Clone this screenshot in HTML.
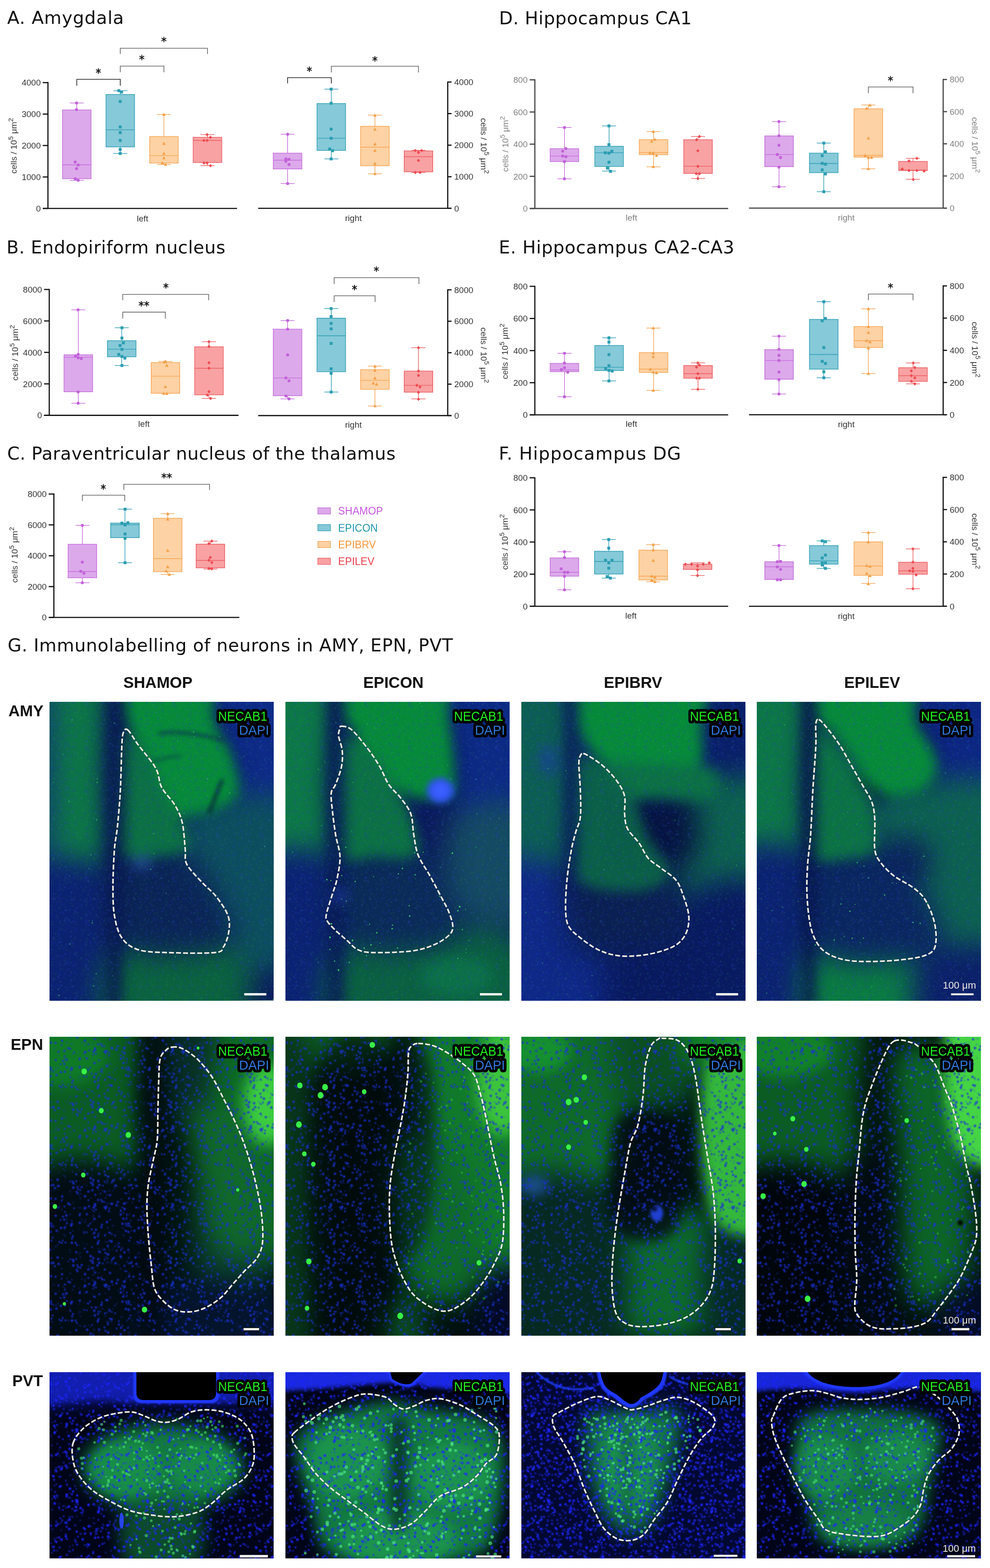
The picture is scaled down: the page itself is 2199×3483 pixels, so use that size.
<!DOCTYPE html><html><head><meta charset="utf-8"><title>Figure</title><style>
html,body{margin:0;padding:0;background:#fff}
#pg{position:relative;width:2199px;height:3483px;overflow:hidden;background:#fff}
.abs{position:absolute;display:block}
.ttl{position:absolute;font-family:"DejaVu Sans",Verdana,sans-serif;font-size:39.6px;color:#111;white-space:nowrap;line-height:1}
.hd{position:absolute;font-family:"Liberation Sans",Arial,sans-serif;font-weight:bold;font-size:34px;color:#111;white-space:nowrap;line-height:1}
</style></head><body><div id="pg">
<svg class="abs" style="left:0;top:0" width="2199" height="1600" viewBox="0 0 2199 1600">
<g font-family="DejaVu Sans, Verdana, sans-serif" font-size="39.6" fill="#111">
<text x="16" y="53.3" textLength="259" lengthAdjust="spacing">A. Amygdala</text>
<text x="14.5" y="563" textLength="486" lengthAdjust="spacing">B. Endopiriform nucleus</text>
<text x="16" y="1021" textLength="862.5" lengthAdjust="spacing">C. Paraventricular nucleus of the thalamus</text>
<text x="1108.5" y="53.5" textLength="428" lengthAdjust="spacing">D. Hippocampus CA1</text>
<text x="1108" y="563" textLength="523" lengthAdjust="spacing">E. Hippocampus CA2-CA3</text>
<text x="1108" y="1021" textLength="404.5" lengthAdjust="spacing">F. Hippocampus DG</text>
<text x="17" y="1446.5" textLength="989" lengthAdjust="spacing">G. Immunolabelling of neurons in AMY, EPN, PVT</text>
</g>
<g font-family="Liberation Sans, Arial, sans-serif" font-weight="bold" font-size="35" fill="#111">
<text x="350.8" y="1527.9" text-anchor="middle">SHAMOP</text>
<text x="873.8" y="1527.9" text-anchor="middle">EPICON</text>
<text x="1406.1" y="1527.9" text-anchor="middle">EPIBRV</text>
<text x="1937.2" y="1527.9" text-anchor="middle">EPILEV</text>
</g></svg>
<svg class="abs" style="left:0;top:0" width="2199" height="1400" viewBox="0 0 2199 1400">
<g stroke="#c46ad9" stroke-width="1.4" fill="none">
<line x1="170.5" y1="228.7" x2="170.5" y2="244.2"/>
<line x1="170.5" y1="397" x2="170.5" y2="400.6"/>
<line x1="155" y1="228.7" x2="186" y2="228.7"/>
<line x1="155" y1="400.6" x2="186" y2="400.6"/>
<rect x="138.8" y="244.2" width="63.5" height="152.8" fill="#dca9eb"/>
<line x1="138.8" y1="366.2" x2="202.2" y2="366.2"/>
</g>
<circle cx="170" cy="228.7" r="3.3" fill="#c261d8"/>
<circle cx="170" cy="243.5" r="3.3" fill="#c261d8"/>
<circle cx="167" cy="360" r="3.3" fill="#c261d8"/>
<circle cx="173.7" cy="366.5" r="3.3" fill="#c261d8"/>
<circle cx="170" cy="374.5" r="3.3" fill="#c261d8"/>
<circle cx="167" cy="397" r="3.3" fill="#c261d8"/>
<circle cx="173.7" cy="400.5" r="3.3" fill="#c261d8"/>
<g stroke="#2a9db3" stroke-width="1.4" fill="none">
<line x1="267.2" y1="201.5" x2="267.2" y2="209.9"/>
<line x1="267.2" y1="326.4" x2="267.2" y2="340.9"/>
<line x1="251.7" y1="201.5" x2="282.7" y2="201.5"/>
<line x1="251.7" y1="340.9" x2="282.7" y2="340.9"/>
<rect x="235.4" y="209.9" width="63.5" height="116.5" fill="#86c9d8"/>
<line x1="235.4" y1="288.4" x2="298.9" y2="288.4"/>
</g>
<rect x="260.6" y="198.3" width="6.4" height="6.4" fill="#2a9db1"/>
<rect x="266.8" y="201.2" width="6.4" height="6.4" fill="#2a9db1"/>
<rect x="263.8" y="222.2" width="6.4" height="6.4" fill="#2a9db1"/>
<rect x="263.8" y="278.7" width="6.4" height="6.4" fill="#2a9db1"/>
<rect x="263.8" y="291.3" width="6.4" height="6.4" fill="#2a9db1"/>
<rect x="263.8" y="308.8" width="6.4" height="6.4" fill="#2a9db1"/>
<rect x="263.8" y="328.8" width="6.4" height="6.4" fill="#2a9db1"/>
<rect x="263.8" y="337.8" width="6.4" height="6.4" fill="#2a9db1"/>
<g stroke="#f6a34e" stroke-width="1.4" fill="none">
<line x1="364.1" y1="254.4" x2="364.1" y2="303.2"/>
<line x1="364.1" y1="362.2" x2="364.1" y2="365.5"/>
<line x1="348.6" y1="254.4" x2="379.6" y2="254.4"/>
<line x1="348.6" y1="365.5" x2="379.6" y2="365.5"/>
<rect x="332.4" y="303.2" width="63.5" height="59" fill="#fdd2a4"/>
<line x1="332.4" y1="345.6" x2="395.9" y2="345.6"/>
</g>
<path d="M364 250.4L367.8 257.2L360.2 257.2Z" fill="#f5a048"/>
<path d="M364 315L367.8 321.8L360.2 321.8Z" fill="#f5a048"/>
<path d="M364 337L367.8 343.8L360.2 343.8Z" fill="#f5a048"/>
<path d="M364 347L367.8 353.8L360.2 353.8Z" fill="#f5a048"/>
<path d="M360.4 358L364.2 364.8L356.6 364.8Z" fill="#f5a048"/>
<path d="M367.6 361.5L371.4 368.3L363.8 368.3Z" fill="#f5a048"/>
<g stroke="#ec5a5f" stroke-width="1.4" fill="none">
<line x1="460.8" y1="299" x2="460.8" y2="305"/>
<line x1="460.8" y1="361" x2="460.8" y2="368"/>
<line x1="445.3" y1="299" x2="476.3" y2="299"/>
<line x1="445.3" y1="368" x2="476.3" y2="368"/>
<rect x="429.1" y="305" width="63.5" height="56" fill="#f8a2a4"/>
<line x1="429.1" y1="312" x2="492.6" y2="312"/>
</g>
<path d="M460 295.2L463.6 299L460 302.8L456.4 299Z" fill="#ec4b52"/>
<path d="M467.5 301.2L471.1 305L467.5 308.8L463.9 305Z" fill="#ec4b52"/>
<path d="M453 308.2L456.6 312L453 315.8L449.4 312Z" fill="#ec4b52"/>
<path d="M460 308.2L463.6 312L460 315.8L456.4 312Z" fill="#ec4b52"/>
<path d="M453 358.2L456.6 362L453 365.8L449.4 362Z" fill="#ec4b52"/>
<path d="M460 358.2L463.6 362L460 365.8L456.4 362Z" fill="#ec4b52"/>
<path d="M467.5 364.2L471.1 368L467.5 371.8L463.9 368Z" fill="#ec4b52"/>
<g stroke="#111" stroke-width="2.6" fill="none">
<line x1="106.5" y1="182.2" x2="106.5" y2="463"/>
<line x1="95" y1="463" x2="526.5" y2="463"/>
<line x1="95" y1="463" x2="106.5" y2="463"/>
<line x1="95" y1="393.1" x2="106.5" y2="393.1"/>
<line x1="95" y1="323.2" x2="106.5" y2="323.2"/>
<line x1="95" y1="253.4" x2="106.5" y2="253.4"/>
<line x1="95" y1="183.5" x2="106.5" y2="183.5"/>
</g>
<g font-family="Liberation Sans, Arial, sans-serif" font-size="19" fill="#333">
<text x="90.5" y="469.8" text-anchor="end">0</text>
<text x="90.5" y="399.9" text-anchor="end">1000</text>
<text x="90.5" y="330.1" text-anchor="end">2000</text>
<text x="90.5" y="260.2" text-anchor="end">3000</text>
<text x="90.5" y="190.3" text-anchor="end">4000</text>
<text x="316.6" y="491.8" text-anchor="middle">left</text>
<text transform="translate(36.8,324) rotate(-90)" text-anchor="middle" font-size="19">cells / 10<tspan font-size="15" dy="-8">5</tspan><tspan dy="8"> μm</tspan><tspan font-size="15" dy="-8">2</tspan></text>
</g>
<path d="M170.5 190.5V176.2H267.2V190.5" stroke="#222" stroke-width="1.6" fill="none"/>
<text x="218.5" y="169.5" text-anchor="middle" font-family="DejaVu Sans, sans-serif" font-size="24" fill="#111" stroke="#111" stroke-width="0.6">*</text>
<path d="M267.2 160.5V146.7H364.1V160.5" stroke="#666" stroke-width="1.6" fill="none"/>
<text x="315" y="139.5" text-anchor="middle" font-family="DejaVu Sans, sans-serif" font-size="24" fill="#111" stroke="#111" stroke-width="0.6">*</text>
<path d="M267.2 120V107.2H460.8V120" stroke="#666" stroke-width="1.6" fill="none"/>
<text x="364" y="100" text-anchor="middle" font-family="DejaVu Sans, sans-serif" font-size="24" fill="#111" stroke="#111" stroke-width="0.6">*</text>
<g stroke="#c46ad9" stroke-width="1.4" fill="none">
<line x1="638.7" y1="298.2" x2="638.7" y2="340.2"/>
<line x1="638.7" y1="375.3" x2="638.7" y2="407.7"/>
<line x1="623.2" y1="298.2" x2="654.2" y2="298.2"/>
<line x1="623.2" y1="407.7" x2="654.2" y2="407.7"/>
<rect x="607" y="340.2" width="63.5" height="35.1" fill="#dca9eb"/>
<line x1="607" y1="355.8" x2="670.5" y2="355.8"/>
</g>
<circle cx="638.9" cy="298.2" r="3.3" fill="#c261d8"/>
<circle cx="635" cy="353" r="3.3" fill="#c261d8"/>
<circle cx="642" cy="354" r="3.3" fill="#c261d8"/>
<circle cx="635" cy="358.3" r="3.3" fill="#c261d8"/>
<circle cx="642" cy="365.4" r="3.3" fill="#c261d8"/>
<circle cx="638.9" cy="407.7" r="3.3" fill="#c261d8"/>
<g stroke="#2a9db3" stroke-width="1.4" fill="none">
<line x1="735.9" y1="198" x2="735.9" y2="230"/>
<line x1="735.9" y1="334.1" x2="735.9" y2="353"/>
<line x1="720.4" y1="198" x2="751.4" y2="198"/>
<line x1="720.4" y1="353" x2="751.4" y2="353"/>
<rect x="704.1" y="230" width="63.5" height="104.1" fill="#86c9d8"/>
<line x1="704.1" y1="307.1" x2="767.6" y2="307.1"/>
</g>
<rect x="732.3" y="194.8" width="6.4" height="6.4" fill="#2a9db1"/>
<rect x="732.3" y="226.1" width="6.4" height="6.4" fill="#2a9db1"/>
<rect x="732.3" y="283.7" width="6.4" height="6.4" fill="#2a9db1"/>
<rect x="732.3" y="303.9" width="6.4" height="6.4" fill="#2a9db1"/>
<rect x="729.1" y="327.7" width="6.4" height="6.4" fill="#2a9db1"/>
<rect x="735.5" y="331.6" width="6.4" height="6.4" fill="#2a9db1"/>
<rect x="732.3" y="349.8" width="6.4" height="6.4" fill="#2a9db1"/>
<g stroke="#f6a34e" stroke-width="1.4" fill="none">
<line x1="832.7" y1="255.6" x2="832.7" y2="280.5"/>
<line x1="832.7" y1="368.2" x2="832.7" y2="386"/>
<line x1="817.2" y1="255.6" x2="848.2" y2="255.6"/>
<line x1="817.2" y1="386" x2="848.2" y2="386"/>
<rect x="801" y="280.5" width="63.5" height="87.7" fill="#fdd2a4"/>
<line x1="801" y1="326.7" x2="864.5" y2="326.7"/>
</g>
<path d="M832.8 252.3L836.6 259.1L829 259.1Z" fill="#f5a048"/>
<path d="M832.8 283.6L836.6 290.4L829 290.4Z" fill="#f5a048"/>
<path d="M832.8 316.3L836.6 323.1L829 323.1Z" fill="#f5a048"/>
<path d="M832.8 330.5L836.6 337.3L829 337.3Z" fill="#f5a048"/>
<path d="M832.8 359.6L836.6 366.4L829 366.4Z" fill="#f5a048"/>
<path d="M832.8 382L836.6 388.8L829 388.8Z" fill="#f5a048"/>
<g stroke="#ec5a5f" stroke-width="1.4" fill="none">
<line x1="929.5" y1="333.8" x2="929.5" y2="335.2"/>
<line x1="929.5" y1="381.7" x2="929.5" y2="383"/>
<line x1="914" y1="333.8" x2="945" y2="333.8"/>
<line x1="914" y1="383" x2="945" y2="383"/>
<rect x="897.8" y="335.2" width="63.5" height="46.5" fill="#f8a2a4"/>
<line x1="897.8" y1="348" x2="961.2" y2="348"/>
</g>
<path d="M922.4 330.7L926 334.5L922.4 338.3L918.8 334.5Z" fill="#ec4b52"/>
<path d="M936.6 330.7L940.2 334.5L936.6 338.3L933 334.5Z" fill="#ec4b52"/>
<path d="M929.5 334.9L933.1 338.7L929.5 342.5L925.9 338.7Z" fill="#ec4b52"/>
<path d="M929.5 352.7L933.1 356.5L929.5 360.3L925.9 356.5Z" fill="#ec4b52"/>
<path d="M922.4 379.3L926 383.1L922.4 386.9L918.8 383.1Z" fill="#ec4b52"/>
<path d="M933 379.3L936.6 383.1L933 386.9L929.4 383.1Z" fill="#ec4b52"/>
<g stroke="#111" stroke-width="2.6" fill="none">
<line x1="994.5" y1="180.9" x2="994.5" y2="462.8"/>
<line x1="573.5" y1="462.8" x2="1003" y2="462.8"/>
<line x1="994.5" y1="462.8" x2="1003" y2="462.8"/>
<line x1="994.5" y1="392.6" x2="1003" y2="392.6"/>
<line x1="994.5" y1="322.5" x2="1003" y2="322.5"/>
<line x1="994.5" y1="252.3" x2="1003" y2="252.3"/>
<line x1="994.5" y1="182.2" x2="1003" y2="182.2"/>
</g>
<g font-family="Liberation Sans, Arial, sans-serif" font-size="19" fill="#333">
<text x="1009" y="469.6">0</text>
<text x="1009" y="399.4">1000</text>
<text x="1009" y="329.3">2000</text>
<text x="1009" y="259.1">3000</text>
<text x="1009" y="189">4000</text>
<text x="785" y="490.8" text-anchor="middle">right</text>
<text transform="translate(1067.8,324) rotate(90)" text-anchor="middle" font-size="19">cells / 10<tspan font-size="15" dy="-8">5</tspan><tspan dy="8"> μm</tspan><tspan font-size="15" dy="-8">2</tspan></text>
</g>
<path d="M638.7 185.3V172.5H735.9V185.3" stroke="#222" stroke-width="1.6" fill="none"/>
<text x="687.2" y="166.3" text-anchor="middle" font-family="DejaVu Sans, sans-serif" font-size="24" fill="#111" stroke="#111" stroke-width="0.6">*</text>
<path d="M735.9 161V147.3H929.5V161" stroke="#666" stroke-width="1.6" fill="none"/>
<text x="832.8" y="142.5" text-anchor="middle" font-family="DejaVu Sans, sans-serif" font-size="24" fill="#111" stroke="#111" stroke-width="0.6">*</text>
<g stroke="#c46ad9" stroke-width="1.4" fill="none">
<line x1="174" y1="688.3" x2="174" y2="788.1"/>
<line x1="174" y1="870.3" x2="174" y2="895.7"/>
<line x1="158.5" y1="688.3" x2="189.5" y2="688.3"/>
<line x1="158.5" y1="895.7" x2="189.5" y2="895.7"/>
<rect x="142.2" y="788.1" width="63.5" height="82.2" fill="#dca9eb"/>
<line x1="142.2" y1="793.6" x2="205.8" y2="793.6"/>
</g>
<circle cx="173.5" cy="688.3" r="3.3" fill="#c261d8"/>
<circle cx="173.5" cy="787.4" r="3.3" fill="#c261d8"/>
<circle cx="167.6" cy="791" r="3.3" fill="#c261d8"/>
<circle cx="173.5" cy="794.7" r="3.3" fill="#c261d8"/>
<circle cx="180.5" cy="796.6" r="3.3" fill="#c261d8"/>
<circle cx="173.5" cy="870.6" r="3.3" fill="#c261d8"/>
<circle cx="173.5" cy="895.7" r="3.3" fill="#c261d8"/>
<g stroke="#2a9db3" stroke-width="1.4" fill="none">
<line x1="270.4" y1="728" x2="270.4" y2="756.8"/>
<line x1="270.4" y1="792.5" x2="270.4" y2="812"/>
<line x1="254.9" y1="728" x2="285.9" y2="728"/>
<line x1="254.9" y1="812" x2="285.9" y2="812"/>
<rect x="238.6" y="756.8" width="63.5" height="35.7" fill="#86c9d8"/>
<line x1="238.6" y1="775.6" x2="302.1" y2="775.6"/>
</g>
<rect x="267.6" y="724.8" width="6.4" height="6.4" fill="#2a9db1"/>
<rect x="267.6" y="747.7" width="6.4" height="6.4" fill="#2a9db1"/>
<rect x="263.5" y="764.3" width="6.4" height="6.4" fill="#2a9db1"/>
<rect x="270.9" y="758.4" width="6.4" height="6.4" fill="#2a9db1"/>
<rect x="267.6" y="772.8" width="6.4" height="6.4" fill="#2a9db1"/>
<rect x="260.6" y="784.2" width="6.4" height="6.4" fill="#2a9db1"/>
<rect x="267.6" y="788.6" width="6.4" height="6.4" fill="#2a9db1"/>
<rect x="274.2" y="792.3" width="6.4" height="6.4" fill="#2a9db1"/>
<rect x="267.6" y="808.8" width="6.4" height="6.4" fill="#2a9db1"/>
<g stroke="#f6a34e" stroke-width="1.4" fill="none">
<line x1="367.5" y1="802.9" x2="367.5" y2="805.4"/>
<line x1="352" y1="802.9" x2="383" y2="802.9"/>
<line x1="352" y1="873.6" x2="383" y2="873.6"/>
<rect x="335.8" y="805.4" width="63.5" height="68.2" fill="#fdd2a4"/>
<line x1="335.8" y1="835.6" x2="399.2" y2="835.6"/>
</g>
<path d="M364.7 800.3L368.5 807.1L360.9 807.1Z" fill="#f5a048"/>
<path d="M367.7 798.8L371.5 805.6L363.9 805.6Z" fill="#f5a048"/>
<path d="M370.6 808L374.4 814.8L366.8 814.8Z" fill="#f5a048"/>
<path d="M367.3 855.2L371.1 862L363.5 862Z" fill="#f5a048"/>
<path d="M363.6 870.3L367.4 877.1L359.8 877.1Z" fill="#f5a048"/>
<path d="M370.6 870.3L374.4 877.1L366.8 877.1Z" fill="#f5a048"/>
<g stroke="#ec5a5f" stroke-width="1.4" fill="none">
<line x1="464.2" y1="759" x2="464.2" y2="770.4"/>
<line x1="464.2" y1="877" x2="464.2" y2="885"/>
<line x1="448.7" y1="759" x2="479.7" y2="759"/>
<line x1="448.7" y1="885" x2="479.7" y2="885"/>
<rect x="432.4" y="770.4" width="63.5" height="106.6" fill="#f8a2a4"/>
<line x1="432.4" y1="818" x2="495.9" y2="818"/>
</g>
<path d="M464.2 755.2L467.8 759L464.2 762.8L460.6 759Z" fill="#ec4b52"/>
<path d="M464.2 765.9L467.8 769.7L464.2 773.5L460.6 769.7Z" fill="#ec4b52"/>
<path d="M464.2 802L467.8 805.8L464.2 809.6L460.6 805.8Z" fill="#ec4b52"/>
<path d="M464.2 814.2L467.8 818L464.2 821.8L460.6 818Z" fill="#ec4b52"/>
<path d="M464.2 866.1L467.8 869.9L464.2 873.7L460.6 869.9Z" fill="#ec4b52"/>
<path d="M460.5 873.8L464.1 877.6L460.5 881.4L456.9 877.6Z" fill="#ec4b52"/>
<path d="M467.9 881.2L471.5 885L467.9 888.8L464.3 885Z" fill="#ec4b52"/>
<g stroke="#111" stroke-width="2.6" fill="none">
<line x1="109.4" y1="641.7" x2="109.4" y2="922.6"/>
<line x1="97.6" y1="922.6" x2="529.8" y2="922.6"/>
<line x1="97.9" y1="922.6" x2="109.4" y2="922.6"/>
<line x1="97.9" y1="852.7" x2="109.4" y2="852.7"/>
<line x1="97.9" y1="782.8" x2="109.4" y2="782.8"/>
<line x1="97.9" y1="712.9" x2="109.4" y2="712.9"/>
<line x1="97.9" y1="643" x2="109.4" y2="643"/>
</g>
<g font-family="Liberation Sans, Arial, sans-serif" font-size="19" fill="#333">
<text x="93.4" y="929.4" text-anchor="end">0</text>
<text x="93.4" y="859.5" text-anchor="end">2000</text>
<text x="93.4" y="789.6" text-anchor="end">4000</text>
<text x="93.4" y="719.7" text-anchor="end">6000</text>
<text x="93.4" y="649.8" text-anchor="end">8000</text>
<text x="319.8" y="947.8" text-anchor="middle">left</text>
<text transform="translate(39.7,783.7) rotate(-90)" text-anchor="middle" font-size="19">cells / 10<tspan font-size="15" dy="-8">5</tspan><tspan dy="8"> μm</tspan><tspan font-size="15" dy="-8">2</tspan></text>
</g>
<path d="M272.6 707.4V693.4H367.3V707.4" stroke="#666" stroke-width="1.6" fill="none"/>
<text x="319.8" y="687.4" text-anchor="middle" font-family="DejaVu Sans, sans-serif" font-size="24" fill="#111" stroke="#111" stroke-width="0.6">**</text>
<path d="M272.6 667V654H463.5V667" stroke="#666" stroke-width="1.6" fill="none"/>
<text x="368.4" y="646.8" text-anchor="middle" font-family="DejaVu Sans, sans-serif" font-size="24" fill="#111" stroke="#111" stroke-width="0.6">*</text>
<g stroke="#c46ad9" stroke-width="1.4" fill="none">
<line x1="638.7" y1="712" x2="638.7" y2="731.2"/>
<line x1="638.7" y1="879" x2="638.7" y2="886"/>
<line x1="623.2" y1="712" x2="654.2" y2="712"/>
<line x1="623.2" y1="886" x2="654.2" y2="886"/>
<rect x="607" y="731.2" width="63.5" height="147.8" fill="#dca9eb"/>
<line x1="607" y1="839.6" x2="670.5" y2="839.6"/>
</g>
<circle cx="638.9" cy="712" r="3.3" fill="#c261d8"/>
<circle cx="638.9" cy="731.2" r="3.3" fill="#c261d8"/>
<circle cx="638.9" cy="788.4" r="3.3" fill="#c261d8"/>
<circle cx="635" cy="839.6" r="3.3" fill="#c261d8"/>
<circle cx="642" cy="846" r="3.3" fill="#c261d8"/>
<circle cx="635" cy="879.7" r="3.3" fill="#c261d8"/>
<circle cx="642" cy="886.1" r="3.3" fill="#c261d8"/>
<g stroke="#2a9db3" stroke-width="1.4" fill="none">
<line x1="735.9" y1="685.4" x2="735.9" y2="706.7"/>
<line x1="735.9" y1="825.7" x2="735.9" y2="870.8"/>
<line x1="720.4" y1="685.4" x2="751.4" y2="685.4"/>
<line x1="720.4" y1="870.8" x2="751.4" y2="870.8"/>
<rect x="704.1" y="706.7" width="63.5" height="119" fill="#86c9d8"/>
<line x1="704.1" y1="745.8" x2="767.6" y2="745.8"/>
</g>
<rect x="732.3" y="682.2" width="6.4" height="6.4" fill="#2a9db1"/>
<rect x="732.3" y="700" width="6.4" height="6.4" fill="#2a9db1"/>
<rect x="732.3" y="715.2" width="6.4" height="6.4" fill="#2a9db1"/>
<rect x="732.3" y="727.3" width="6.4" height="6.4" fill="#2a9db1"/>
<rect x="732.3" y="759.7" width="6.4" height="6.4" fill="#2a9db1"/>
<rect x="732.3" y="816.1" width="6.4" height="6.4" fill="#2a9db1"/>
<rect x="732.3" y="826.1" width="6.4" height="6.4" fill="#2a9db1"/>
<rect x="732.3" y="867.7" width="6.4" height="6.4" fill="#2a9db1"/>
<g stroke="#f6a34e" stroke-width="1.4" fill="none">
<line x1="832.7" y1="813.3" x2="832.7" y2="821.1"/>
<line x1="832.7" y1="864.8" x2="832.7" y2="901.8"/>
<line x1="817.2" y1="813.3" x2="848.2" y2="813.3"/>
<line x1="817.2" y1="901.8" x2="848.2" y2="901.8"/>
<rect x="801" y="821.1" width="63.5" height="43.7" fill="#fdd2a4"/>
<line x1="801" y1="844.9" x2="864.5" y2="844.9"/>
</g>
<path d="M832.8 809.7L836.6 816.5L829 816.5Z" fill="#f5a048"/>
<path d="M832.8 818.9L836.6 825.7L829 825.7Z" fill="#f5a048"/>
<path d="M832.8 836.3L836.6 843.1L829 843.1Z" fill="#f5a048"/>
<path d="M829.3 847.3L833.1 854.1L825.5 854.1Z" fill="#f5a048"/>
<path d="M836.4 849.8L840.2 856.6L832.6 856.6Z" fill="#f5a048"/>
<path d="M832.8 897.8L836.6 904.6L829 904.6Z" fill="#f5a048"/>
<g stroke="#ec5a5f" stroke-width="1.4" fill="none">
<line x1="929.5" y1="772.4" x2="929.5" y2="824.3"/>
<line x1="929.5" y1="871.2" x2="929.5" y2="886.1"/>
<line x1="914" y1="772.4" x2="945" y2="772.4"/>
<line x1="914" y1="886.1" x2="945" y2="886.1"/>
<rect x="897.8" y="824.3" width="63.5" height="46.9" fill="#f8a2a4"/>
<line x1="897.8" y1="855.9" x2="961.2" y2="855.9"/>
</g>
<path d="M929.5 768.6L933.1 772.4L929.5 776.2L925.9 772.4Z" fill="#ec4b52"/>
<path d="M929.5 820.2L933.1 824L929.5 827.8L925.9 824Z" fill="#ec4b52"/>
<path d="M929.5 830.1L933.1 833.9L929.5 837.7L925.9 833.9Z" fill="#ec4b52"/>
<path d="M925.9 852.1L929.5 855.9L925.9 859.7L922.3 855.9Z" fill="#ec4b52"/>
<path d="M933 855.7L936.6 859.5L933 863.3L929.4 859.5Z" fill="#ec4b52"/>
<path d="M929.5 867.8L933.1 871.6L929.5 875.4L925.9 871.6Z" fill="#ec4b52"/>
<path d="M929.5 883L933.1 886.8L929.5 890.6L925.9 886.8Z" fill="#ec4b52"/>
<g stroke="#111" stroke-width="2.6" fill="none">
<line x1="994.5" y1="642.5" x2="994.5" y2="923.1"/>
<line x1="573.5" y1="923.1" x2="1003" y2="923.1"/>
<line x1="994.5" y1="923.1" x2="1003" y2="923.1"/>
<line x1="994.5" y1="853.3" x2="1003" y2="853.3"/>
<line x1="994.5" y1="783.5" x2="1003" y2="783.5"/>
<line x1="994.5" y1="713.6" x2="1003" y2="713.6"/>
<line x1="994.5" y1="643.8" x2="1003" y2="643.8"/>
</g>
<g font-family="Liberation Sans, Arial, sans-serif" font-size="19" fill="#333">
<text x="1009" y="929.9">0</text>
<text x="1009" y="860.1">2000</text>
<text x="1009" y="790.2">4000</text>
<text x="1009" y="720.4">6000</text>
<text x="1009" y="650.6">8000</text>
<text x="785" y="949.8" text-anchor="middle">right</text>
<text transform="translate(1067.8,789) rotate(90)" text-anchor="middle" font-size="19">cells / 10<tspan font-size="15" dy="-8">5</tspan><tspan dy="8"> μm</tspan><tspan font-size="15" dy="-8">2</tspan></text>
</g>
<path d="M742.3 670.8V657H833.2V670.8" stroke="#666" stroke-width="1.6" fill="none"/>
<text x="787.4" y="650.5" text-anchor="middle" font-family="DejaVu Sans, sans-serif" font-size="24" fill="#111" stroke="#111" stroke-width="0.6">*</text>
<path d="M742.3 631V616.8H930.5V631" stroke="#666" stroke-width="1.6" fill="none"/>
<text x="836" y="609.5" text-anchor="middle" font-family="DejaVu Sans, sans-serif" font-size="24" fill="#111" stroke="#111" stroke-width="0.6">*</text>
<g stroke="#c46ad9" stroke-width="1.4" fill="none">
<line x1="183" y1="1167" x2="183" y2="1209"/>
<line x1="183" y1="1283.5" x2="183" y2="1294.5"/>
<line x1="167.5" y1="1167" x2="198.5" y2="1167"/>
<line x1="167.5" y1="1294.5" x2="198.5" y2="1294.5"/>
<rect x="151.2" y="1209" width="63.5" height="74.5" fill="#dca9eb"/>
<line x1="151.2" y1="1269.5" x2="214.8" y2="1269.5"/>
</g>
<circle cx="182.7" cy="1167" r="3.3" fill="#c261d8"/>
<circle cx="182.7" cy="1248.8" r="3.3" fill="#c261d8"/>
<circle cx="179.4" cy="1269.1" r="3.3" fill="#c261d8"/>
<circle cx="186.4" cy="1273.5" r="3.3" fill="#c261d8"/>
<circle cx="182.7" cy="1294.5" r="3.3" fill="#c261d8"/>
<g stroke="#2a9db3" stroke-width="1.4" fill="none">
<line x1="277.5" y1="1131" x2="277.5" y2="1161.9"/>
<line x1="277.5" y1="1194.3" x2="277.5" y2="1250"/>
<line x1="262" y1="1131" x2="293" y2="1131"/>
<line x1="262" y1="1250" x2="293" y2="1250"/>
<rect x="245.8" y="1161.9" width="63.5" height="32.4" fill="#86c9d8"/>
<line x1="245.8" y1="1165.6" x2="309.2" y2="1165.6"/>
</g>
<rect x="274.6" y="1127.8" width="6.4" height="6.4" fill="#2a9db1"/>
<rect x="267.6" y="1158.7" width="6.4" height="6.4" fill="#2a9db1"/>
<rect x="280.8" y="1158" width="6.4" height="6.4" fill="#2a9db1"/>
<rect x="274.6" y="1162.8" width="6.4" height="6.4" fill="#2a9db1"/>
<rect x="274.6" y="1183" width="6.4" height="6.4" fill="#2a9db1"/>
<rect x="274.6" y="1192.6" width="6.4" height="6.4" fill="#2a9db1"/>
<rect x="274.6" y="1246.8" width="6.4" height="6.4" fill="#2a9db1"/>
<g stroke="#f6a34e" stroke-width="1.4" fill="none">
<line x1="372.5" y1="1141" x2="372.5" y2="1151.2"/>
<line x1="372.5" y1="1269.9" x2="372.5" y2="1276"/>
<line x1="357" y1="1141" x2="388" y2="1141"/>
<line x1="357" y1="1276" x2="388" y2="1276"/>
<rect x="340.8" y="1151.2" width="63.5" height="118.7" fill="#fdd2a4"/>
<line x1="340.8" y1="1240.8" x2="404.2" y2="1240.8"/>
</g>
<path d="M372.5 1137.3L376.3 1144.1L368.7 1144.1Z" fill="#f5a048"/>
<path d="M372.5 1149.4L376.3 1156.2L368.7 1156.2Z" fill="#f5a048"/>
<path d="M372.5 1219L376.3 1225.8L368.7 1225.8Z" fill="#f5a048"/>
<path d="M372.5 1255.2L376.3 1262L368.7 1262Z" fill="#f5a048"/>
<path d="M368.8 1264.7L372.6 1271.5L365 1271.5Z" fill="#f5a048"/>
<path d="M376.2 1272.1L380 1278.9L372.4 1278.9Z" fill="#f5a048"/>
<g stroke="#ec5a5f" stroke-width="1.4" fill="none">
<line x1="467.4" y1="1202" x2="467.4" y2="1208.7"/>
<line x1="467.4" y1="1261.4" x2="467.4" y2="1264"/>
<line x1="451.9" y1="1202" x2="482.9" y2="1202"/>
<line x1="451.9" y1="1264" x2="482.9" y2="1264"/>
<rect x="435.6" y="1208.7" width="63.5" height="52.7" fill="#f8a2a4"/>
<line x1="435.6" y1="1244.8" x2="499.1" y2="1244.8"/>
</g>
<path d="M470.5 1198.2L474.1 1202L470.5 1205.8L466.9 1202Z" fill="#ec4b52"/>
<path d="M464.2 1203.8L467.8 1207.6L464.2 1211.4L460.6 1207.6Z" fill="#ec4b52"/>
<path d="M467.2 1234.4L470.8 1238.2L467.2 1242L463.6 1238.2Z" fill="#ec4b52"/>
<path d="M464.2 1240.6L467.8 1244.4L464.2 1248.2L460.6 1244.4Z" fill="#ec4b52"/>
<path d="M470.5 1245.8L474.1 1249.6L470.5 1253.4L466.9 1249.6Z" fill="#ec4b52"/>
<path d="M464.2 1259.1L467.8 1262.9L464.2 1266.7L460.6 1262.9Z" fill="#ec4b52"/>
<path d="M470.5 1259.8L474.1 1263.6L470.5 1267.4L466.9 1263.6Z" fill="#ec4b52"/>
<g stroke="#111" stroke-width="2.6" fill="none">
<line x1="119.7" y1="1096.1" x2="119.7" y2="1371.5"/>
<line x1="108.7" y1="1371.5" x2="531.6" y2="1371.5"/>
<line x1="108.2" y1="1371.5" x2="119.7" y2="1371.5"/>
<line x1="108.2" y1="1303" x2="119.7" y2="1303"/>
<line x1="108.2" y1="1234.5" x2="119.7" y2="1234.5"/>
<line x1="108.2" y1="1165.9" x2="119.7" y2="1165.9"/>
<line x1="108.2" y1="1097.4" x2="119.7" y2="1097.4"/>
</g>
<g font-family="Liberation Sans, Arial, sans-serif" font-size="19" fill="#333">
<text x="103.7" y="1378.3" text-anchor="end">0</text>
<text x="103.7" y="1309.8" text-anchor="end">2000</text>
<text x="103.7" y="1241.2" text-anchor="end">4000</text>
<text x="103.7" y="1172.7" text-anchor="end">6000</text>
<text x="103.7" y="1104.2" text-anchor="end">8000</text>
<text transform="translate(38.7,1232.6) rotate(-90)" text-anchor="middle" font-size="19">cells / 10<tspan font-size="15" dy="-8">5</tspan><tspan dy="8"> μm</tspan><tspan font-size="15" dy="-8">2</tspan></text>
</g>
<path d="M183 1112.9V1100H277.1V1112.9" stroke="#666" stroke-width="1.6" fill="none"/>
<text x="229.5" y="1093.9" text-anchor="middle" font-family="DejaVu Sans, sans-serif" font-size="24" fill="#111" stroke="#111" stroke-width="0.6">*</text>
<path d="M275.2 1088.2V1075.7H465.4V1088.2" stroke="#666" stroke-width="1.6" fill="none"/>
<text x="370.3" y="1069.2" text-anchor="middle" font-family="DejaVu Sans, sans-serif" font-size="24" fill="#111" stroke="#111" stroke-width="0.6">**</text>
<g stroke="#c46ad9" stroke-width="1.4" fill="none">
<line x1="1253.8" y1="283.3" x2="1253.8" y2="330.3"/>
<line x1="1253.8" y1="358.9" x2="1253.8" y2="397.3"/>
<line x1="1238.3" y1="283.3" x2="1269.3" y2="283.3"/>
<line x1="1238.3" y1="397.3" x2="1269.3" y2="397.3"/>
<rect x="1222" y="330.3" width="63.5" height="28.6" fill="#dca9eb"/>
<line x1="1222" y1="346.6" x2="1285.5" y2="346.6"/>
</g>
<circle cx="1253.8" cy="283.3" r="3.3" fill="#c261d8"/>
<circle cx="1257" cy="330" r="3.3" fill="#c261d8"/>
<circle cx="1249.8" cy="335.8" r="3.3" fill="#c261d8"/>
<circle cx="1249.8" cy="346.6" r="3.3" fill="#c261d8"/>
<circle cx="1257" cy="348.1" r="3.3" fill="#c261d8"/>
<circle cx="1253.8" cy="358.9" r="3.3" fill="#c261d8"/>
<circle cx="1253.8" cy="397.3" r="3.3" fill="#c261d8"/>
<g stroke="#2a9db3" stroke-width="1.4" fill="none">
<line x1="1352.9" y1="279.7" x2="1352.9" y2="324.9"/>
<line x1="1352.9" y1="369.8" x2="1352.9" y2="379.9"/>
<line x1="1337.4" y1="279.7" x2="1368.4" y2="279.7"/>
<line x1="1337.4" y1="379.9" x2="1368.4" y2="379.9"/>
<rect x="1321.2" y="324.9" width="63.5" height="44.9" fill="#86c9d8"/>
<line x1="1321.2" y1="339.4" x2="1384.7" y2="339.4"/>
</g>
<rect x="1349.4" y="276.5" width="6.4" height="6.4" fill="#2a9db1"/>
<rect x="1349.4" y="318.1" width="6.4" height="6.4" fill="#2a9db1"/>
<rect x="1341.4" y="336.2" width="6.4" height="6.4" fill="#2a9db1"/>
<rect x="1349.4" y="336.9" width="6.4" height="6.4" fill="#2a9db1"/>
<rect x="1355.9" y="332.6" width="6.4" height="6.4" fill="#2a9db1"/>
<rect x="1349.4" y="357.2" width="6.4" height="6.4" fill="#2a9db1"/>
<rect x="1345.8" y="370.2" width="6.4" height="6.4" fill="#2a9db1"/>
<rect x="1353" y="377.4" width="6.4" height="6.4" fill="#2a9db1"/>
<g stroke="#f6a34e" stroke-width="1.4" fill="none">
<line x1="1451.7" y1="292.3" x2="1451.7" y2="310.1"/>
<line x1="1451.7" y1="343.7" x2="1451.7" y2="370.5"/>
<line x1="1436.2" y1="292.3" x2="1467.2" y2="292.3"/>
<line x1="1436.2" y1="370.5" x2="1467.2" y2="370.5"/>
<rect x="1420" y="310.1" width="63.5" height="33.6" fill="#fdd2a4"/>
<line x1="1420" y1="338.7" x2="1483.5" y2="338.7"/>
</g>
<path d="M1451 288.3L1454.8 295.1L1447.2 295.1Z" fill="#f5a048"/>
<path d="M1447.4 310L1451.2 316.8L1443.6 316.8Z" fill="#f5a048"/>
<path d="M1454.6 306L1458.4 312.8L1450.8 312.8Z" fill="#f5a048"/>
<path d="M1443.7 335.4L1447.5 342.2L1439.9 342.2Z" fill="#f5a048"/>
<path d="M1451 336.1L1454.8 342.9L1447.2 342.9Z" fill="#f5a048"/>
<path d="M1458.2 341.5L1462 348.3L1454.4 348.3Z" fill="#f5a048"/>
<path d="M1451 366.5L1454.8 373.3L1447.2 373.3Z" fill="#f5a048"/>
<g stroke="#ec5a5f" stroke-width="1.4" fill="none">
<line x1="1550.5" y1="303.2" x2="1550.5" y2="310.4"/>
<line x1="1550.5" y1="385.3" x2="1550.5" y2="396.5"/>
<line x1="1535" y1="303.2" x2="1566" y2="303.2"/>
<line x1="1535" y1="396.5" x2="1566" y2="396.5"/>
<rect x="1518.8" y="310.4" width="63.5" height="74.9" fill="#f8a2a4"/>
<line x1="1518.8" y1="369.4" x2="1582.2" y2="369.4"/>
</g>
<path d="M1553.7 299.4L1557.3 303.2L1553.7 307L1550.1 303.2Z" fill="#ec4b52"/>
<path d="M1547.2 306.6L1550.8 310.4L1547.2 314.2L1543.6 310.4Z" fill="#ec4b52"/>
<path d="M1550.1 331.2L1553.7 335L1550.1 338.8L1546.5 335Z" fill="#ec4b52"/>
<path d="M1550.1 365.6L1553.7 369.4L1550.1 373.2L1546.5 369.4Z" fill="#ec4b52"/>
<path d="M1546.5 381.9L1550.1 385.7L1546.5 389.5L1542.9 385.7Z" fill="#ec4b52"/>
<path d="M1553.7 381.9L1557.3 385.7L1553.7 389.5L1550.1 385.7Z" fill="#ec4b52"/>
<path d="M1550.1 392.8L1553.7 396.6L1550.1 400.4L1546.5 396.6Z" fill="#ec4b52"/>
<g stroke="#444" stroke-width="2.6" fill="none">
<line x1="1188" y1="176" x2="1188" y2="463.1"/>
<line x1="1177" y1="463.1" x2="1617.4" y2="463.1"/>
<line x1="1176.5" y1="463.1" x2="1188" y2="463.1"/>
<line x1="1176.5" y1="391.7" x2="1188" y2="391.7"/>
<line x1="1176.5" y1="320.2" x2="1188" y2="320.2"/>
<line x1="1176.5" y1="248.8" x2="1188" y2="248.8"/>
<line x1="1176.5" y1="177.3" x2="1188" y2="177.3"/>
</g>
<g font-family="Liberation Sans, Arial, sans-serif" font-size="19" fill="#808080">
<text x="1172" y="469.9" text-anchor="end">0</text>
<text x="1172" y="398.5" text-anchor="end">200</text>
<text x="1172" y="327" text-anchor="end">400</text>
<text x="1172" y="255.6" text-anchor="end">600</text>
<text x="1172" y="184.1" text-anchor="end">800</text>
<text x="1402.5" y="489.8" text-anchor="middle">left</text>
<text transform="translate(1129.2,320) rotate(-90)" text-anchor="middle" font-size="19">cells / 10<tspan font-size="15" dy="-8">5</tspan><tspan dy="8"> μm</tspan><tspan font-size="15" dy="-8">2</tspan></text>
</g>
<g stroke="#c46ad9" stroke-width="1.4" fill="none">
<line x1="1730.4" y1="270.1" x2="1730.4" y2="301.9"/>
<line x1="1730.4" y1="370.2" x2="1730.4" y2="414.9"/>
<line x1="1714.9" y1="270.1" x2="1745.9" y2="270.1"/>
<line x1="1714.9" y1="414.9" x2="1745.9" y2="414.9"/>
<rect x="1698.7" y="301.9" width="63.5" height="68.3" fill="#dca9eb"/>
<line x1="1698.7" y1="343.4" x2="1762.2" y2="343.4"/>
</g>
<circle cx="1730.2" cy="270.1" r="3.3" fill="#c261d8"/>
<circle cx="1730.2" cy="301.5" r="3.3" fill="#c261d8"/>
<circle cx="1730.2" cy="322.8" r="3.3" fill="#c261d8"/>
<circle cx="1726.6" cy="343.4" r="3.3" fill="#c261d8"/>
<circle cx="1733.8" cy="349.9" r="3.3" fill="#c261d8"/>
<circle cx="1730.2" cy="371.2" r="3.3" fill="#c261d8"/>
<circle cx="1730.2" cy="414.9" r="3.3" fill="#c261d8"/>
<g stroke="#2a9db3" stroke-width="1.4" fill="none">
<line x1="1829.7" y1="317.8" x2="1829.7" y2="340.2"/>
<line x1="1829.7" y1="383.5" x2="1829.7" y2="425.8"/>
<line x1="1814.2" y1="317.8" x2="1845.2" y2="317.8"/>
<line x1="1814.2" y1="425.8" x2="1845.2" y2="425.8"/>
<rect x="1798" y="340.2" width="63.5" height="43.3" fill="#86c9d8"/>
<line x1="1798" y1="363.3" x2="1861.5" y2="363.3"/>
</g>
<rect x="1826.7" y="314.6" width="6.4" height="6.4" fill="#2a9db1"/>
<rect x="1830.3" y="334.1" width="6.4" height="6.4" fill="#2a9db1"/>
<rect x="1823.1" y="342.4" width="6.4" height="6.4" fill="#2a9db1"/>
<rect x="1823.1" y="359.7" width="6.4" height="6.4" fill="#2a9db1"/>
<rect x="1830.3" y="361.5" width="6.4" height="6.4" fill="#2a9db1"/>
<rect x="1823.1" y="374.2" width="6.4" height="6.4" fill="#2a9db1"/>
<rect x="1830.3" y="383.2" width="6.4" height="6.4" fill="#2a9db1"/>
<rect x="1826.7" y="422.6" width="6.4" height="6.4" fill="#2a9db1"/>
<g stroke="#f6a34e" stroke-width="1.4" fill="none">
<line x1="1928.8" y1="233.3" x2="1928.8" y2="241.6"/>
<line x1="1928.8" y1="349.2" x2="1928.8" y2="374.9"/>
<line x1="1913.3" y1="233.3" x2="1944.3" y2="233.3"/>
<line x1="1913.3" y1="374.9" x2="1944.3" y2="374.9"/>
<rect x="1897" y="241.6" width="63.5" height="107.6" fill="#fdd2a4"/>
<line x1="1897" y1="345.2" x2="1960.5" y2="345.2"/>
</g>
<path d="M1932.4 229.6L1936.2 236.4L1928.6 236.4Z" fill="#f5a048"/>
<path d="M1925.2 236.9L1929 243.7L1921.4 243.7Z" fill="#f5a048"/>
<path d="M1928.8 303L1932.6 309.8L1925 309.8Z" fill="#f5a048"/>
<path d="M1921.6 341.6L1925.4 348.4L1917.8 348.4Z" fill="#f5a048"/>
<path d="M1928.8 345.9L1932.6 352.7L1925 352.7Z" fill="#f5a048"/>
<path d="M1936 345.9L1939.8 352.7L1932.2 352.7Z" fill="#f5a048"/>
<path d="M1928.8 370.9L1932.6 377.7L1925 377.7Z" fill="#f5a048"/>
<g stroke="#ec5a5f" stroke-width="1.4" fill="none">
<line x1="2028" y1="351.7" x2="2028" y2="358.6"/>
<line x1="2028" y1="378.8" x2="2028" y2="398.3"/>
<line x1="2012.5" y1="351.7" x2="2043.5" y2="351.7"/>
<line x1="2012.5" y1="398.3" x2="2043.5" y2="398.3"/>
<rect x="1996.2" y="358.6" width="63.5" height="20.2" fill="#f8a2a4"/>
<line x1="1996.2" y1="378" x2="2059.8" y2="378"/>
</g>
<path d="M2036.5 347.9L2040.1 351.7L2036.5 355.5L2032.9 351.7Z" fill="#ec4b52"/>
<path d="M2019.1 353.7L2022.7 357.5L2019.1 361.3L2015.5 357.5Z" fill="#ec4b52"/>
<path d="M2004 371.8L2007.6 375.6L2004 379.4L2000.4 375.6Z" fill="#ec4b52"/>
<path d="M2019.1 375L2022.7 378.8L2019.1 382.6L2015.5 378.8Z" fill="#ec4b52"/>
<path d="M2036.5 375L2040.1 378.8L2036.5 382.6L2032.9 378.8Z" fill="#ec4b52"/>
<path d="M2052.7 376.1L2056.3 379.9L2052.7 383.7L2049.1 379.9Z" fill="#ec4b52"/>
<path d="M2028.5 394.9L2032.1 398.7L2028.5 402.5L2024.9 398.7Z" fill="#ec4b52"/>
<g stroke="#444" stroke-width="2.6" fill="none">
<line x1="2095" y1="175.3" x2="2095" y2="462.3"/>
<line x1="1663.7" y1="462.3" x2="2102.6" y2="462.3"/>
<line x1="2095" y1="462.3" x2="2103.5" y2="462.3"/>
<line x1="2095" y1="390.9" x2="2103.5" y2="390.9"/>
<line x1="2095" y1="319.4" x2="2103.5" y2="319.4"/>
<line x1="2095" y1="248" x2="2103.5" y2="248"/>
<line x1="2095" y1="176.6" x2="2103.5" y2="176.6"/>
</g>
<g font-family="Liberation Sans, Arial, sans-serif" font-size="19" fill="#808080">
<text x="2109.5" y="469.1">0</text>
<text x="2109.5" y="397.7">200</text>
<text x="2109.5" y="326.2">400</text>
<text x="2109.5" y="254.8">600</text>
<text x="2109.5" y="183.4">800</text>
<text x="1879.7" y="490.4" text-anchor="middle">right</text>
<text transform="translate(2159.1,322) rotate(90)" text-anchor="middle" font-size="19">cells / 10<tspan font-size="15" dy="-8">5</tspan><tspan dy="8"> μm</tspan><tspan font-size="15" dy="-8">2</tspan></text>
</g>
<path d="M1928.8 206.9V193.2H2028V206.9" stroke="#666" stroke-width="1.6" fill="none"/>
<text x="1978" y="187.1" text-anchor="middle" font-family="DejaVu Sans, sans-serif" font-size="24" fill="#111" stroke="#111" stroke-width="0.6">*</text>
<g stroke="#c46ad9" stroke-width="1.4" fill="none">
<line x1="1253.8" y1="784.7" x2="1253.8" y2="807.2"/>
<line x1="1253.8" y1="825.6" x2="1253.8" y2="881.3"/>
<line x1="1238.3" y1="784.7" x2="1269.3" y2="784.7"/>
<line x1="1238.3" y1="881.3" x2="1269.3" y2="881.3"/>
<rect x="1222" y="807.2" width="63.5" height="18.4" fill="#dca9eb"/>
<line x1="1222" y1="821.6" x2="1285.5" y2="821.6"/>
</g>
<circle cx="1253.8" cy="784.8" r="3.3" fill="#c261d8"/>
<circle cx="1253.8" cy="806.5" r="3.3" fill="#c261d8"/>
<circle cx="1246.9" cy="821" r="3.3" fill="#c261d8"/>
<circle cx="1253.8" cy="817" r="3.3" fill="#c261d8"/>
<circle cx="1261" cy="826.7" r="3.3" fill="#c261d8"/>
<circle cx="1253.8" cy="881.4" r="3.3" fill="#c261d8"/>
<g stroke="#2a9db3" stroke-width="1.4" fill="none">
<line x1="1352.9" y1="750.4" x2="1352.9" y2="767.4"/>
<line x1="1352.9" y1="823.1" x2="1352.9" y2="846.2"/>
<line x1="1337.4" y1="750.4" x2="1368.4" y2="750.4"/>
<line x1="1337.4" y1="846.2" x2="1368.4" y2="846.2"/>
<rect x="1321.2" y="767.4" width="63.5" height="55.7" fill="#86c9d8"/>
<line x1="1321.2" y1="815.9" x2="1384.7" y2="815.9"/>
</g>
<rect x="1349.4" y="747.2" width="6.4" height="6.4" fill="#2a9db1"/>
<rect x="1349.4" y="756.6" width="6.4" height="6.4" fill="#2a9db1"/>
<rect x="1349.4" y="784.5" width="6.4" height="6.4" fill="#2a9db1"/>
<rect x="1349.4" y="809.1" width="6.4" height="6.4" fill="#2a9db1"/>
<rect x="1342.1" y="815.9" width="6.4" height="6.4" fill="#2a9db1"/>
<rect x="1349.4" y="819.6" width="6.4" height="6.4" fill="#2a9db1"/>
<rect x="1356.6" y="821" width="6.4" height="6.4" fill="#2a9db1"/>
<rect x="1349.4" y="843.1" width="6.4" height="6.4" fill="#2a9db1"/>
<g stroke="#f6a34e" stroke-width="1.4" fill="none">
<line x1="1451.7" y1="728.7" x2="1451.7" y2="783.3"/>
<line x1="1451.7" y1="827.4" x2="1451.7" y2="867.2"/>
<line x1="1436.2" y1="728.7" x2="1467.2" y2="728.7"/>
<line x1="1436.2" y1="867.2" x2="1467.2" y2="867.2"/>
<rect x="1420" y="783.3" width="63.5" height="44.1" fill="#fdd2a4"/>
<line x1="1420" y1="819.8" x2="1483.5" y2="819.8"/>
</g>
<path d="M1451 724.7L1454.8 731.5L1447.2 731.5Z" fill="#f5a048"/>
<path d="M1451 780.8L1454.8 787.6L1447.2 787.6Z" fill="#f5a048"/>
<path d="M1451 788.4L1454.8 795.2L1447.2 795.2Z" fill="#f5a048"/>
<path d="M1444.5 816.2L1448.3 823L1440.7 823Z" fill="#f5a048"/>
<path d="M1451 822.7L1454.8 829.5L1447.2 829.5Z" fill="#f5a048"/>
<path d="M1458.2 824.5L1462 831.3L1454.4 831.3Z" fill="#f5a048"/>
<path d="M1451 863.3L1454.8 870.1L1447.2 870.1Z" fill="#f5a048"/>
<g stroke="#ec5a5f" stroke-width="1.4" fill="none">
<line x1="1550.5" y1="806.1" x2="1550.5" y2="811.9"/>
<line x1="1550.5" y1="840.1" x2="1550.5" y2="864.7"/>
<line x1="1535" y1="806.1" x2="1566" y2="806.1"/>
<line x1="1535" y1="864.7" x2="1566" y2="864.7"/>
<rect x="1518.8" y="811.9" width="63.5" height="28.2" fill="#f8a2a4"/>
<line x1="1518.8" y1="830" x2="1582.2" y2="830"/>
</g>
<path d="M1550.1 802.3L1553.7 806.1L1550.1 809.9L1546.5 806.1Z" fill="#ec4b52"/>
<path d="M1553.7 807.4L1557.3 811.2L1553.7 815L1550.1 811.2Z" fill="#ec4b52"/>
<path d="M1547.2 811.7L1550.8 815.5L1547.2 819.3L1543.6 815.5Z" fill="#ec4b52"/>
<path d="M1550.1 826.2L1553.7 830L1550.1 833.8L1546.5 830Z" fill="#ec4b52"/>
<path d="M1547.2 836.3L1550.8 840.1L1547.2 843.9L1543.6 840.1Z" fill="#ec4b52"/>
<path d="M1553.7 836.3L1557.3 840.1L1553.7 843.9L1550.1 840.1Z" fill="#ec4b52"/>
<path d="M1550.1 860.9L1553.7 864.7L1550.1 868.5L1546.5 864.7Z" fill="#ec4b52"/>
<g stroke="#111" stroke-width="2.6" fill="none">
<line x1="1188" y1="634.7" x2="1188" y2="921.5"/>
<line x1="1177" y1="921.5" x2="1617.4" y2="921.5"/>
<line x1="1176.5" y1="921.5" x2="1188" y2="921.5"/>
<line x1="1176.5" y1="850.1" x2="1188" y2="850.1"/>
<line x1="1176.5" y1="778.8" x2="1188" y2="778.8"/>
<line x1="1176.5" y1="707.4" x2="1188" y2="707.4"/>
<line x1="1176.5" y1="636" x2="1188" y2="636"/>
</g>
<g font-family="Liberation Sans, Arial, sans-serif" font-size="19" fill="#333">
<text x="1172" y="928.3" text-anchor="end">0</text>
<text x="1172" y="856.9" text-anchor="end">200</text>
<text x="1172" y="785.5" text-anchor="end">400</text>
<text x="1172" y="714.2" text-anchor="end">600</text>
<text x="1172" y="642.8" text-anchor="end">800</text>
<text x="1402.5" y="948.2" text-anchor="middle">left</text>
<text transform="translate(1128,780.4) rotate(-90)" text-anchor="middle" font-size="19">cells / 10<tspan font-size="15" dy="-8">5</tspan><tspan dy="8"> μm</tspan><tspan font-size="15" dy="-8">2</tspan></text>
</g>
<g stroke="#c46ad9" stroke-width="1.4" fill="none">
<line x1="1730.4" y1="746.7" x2="1730.4" y2="776.7"/>
<line x1="1730.4" y1="842.4" x2="1730.4" y2="875.3"/>
<line x1="1714.9" y1="746.7" x2="1745.9" y2="746.7"/>
<line x1="1714.9" y1="875.3" x2="1745.9" y2="875.3"/>
<rect x="1698.7" y="776.7" width="63.5" height="65.7" fill="#dca9eb"/>
<line x1="1698.7" y1="800.9" x2="1762.2" y2="800.9"/>
</g>
<circle cx="1730.2" cy="746.7" r="3.3" fill="#c261d8"/>
<circle cx="1730.2" cy="776" r="3.3" fill="#c261d8"/>
<circle cx="1730.2" cy="789.4" r="3.3" fill="#c261d8"/>
<circle cx="1730.2" cy="800.9" r="3.3" fill="#c261d8"/>
<circle cx="1730.2" cy="826.5" r="3.3" fill="#c261d8"/>
<circle cx="1730.2" cy="843.2" r="3.3" fill="#c261d8"/>
<circle cx="1730.2" cy="875.3" r="3.3" fill="#c261d8"/>
<g stroke="#2a9db3" stroke-width="1.4" fill="none">
<line x1="1829.7" y1="670.2" x2="1829.7" y2="709.5"/>
<line x1="1829.7" y1="820" x2="1829.7" y2="839.2"/>
<line x1="1814.2" y1="670.2" x2="1845.2" y2="670.2"/>
<line x1="1814.2" y1="839.2" x2="1845.2" y2="839.2"/>
<rect x="1798" y="709.5" width="63.5" height="110.5" fill="#86c9d8"/>
<line x1="1798" y1="787.5" x2="1861.5" y2="787.5"/>
</g>
<rect x="1826.7" y="667" width="6.4" height="6.4" fill="#2a9db1"/>
<rect x="1830.3" y="704.2" width="6.4" height="6.4" fill="#2a9db1"/>
<rect x="1823.1" y="709.2" width="6.4" height="6.4" fill="#2a9db1"/>
<rect x="1826.7" y="768.8" width="6.4" height="6.4" fill="#2a9db1"/>
<rect x="1823.1" y="799.5" width="6.4" height="6.4" fill="#2a9db1"/>
<rect x="1830.3" y="804.2" width="6.4" height="6.4" fill="#2a9db1"/>
<rect x="1826.7" y="822.6" width="6.4" height="6.4" fill="#2a9db1"/>
<rect x="1826.7" y="836" width="6.4" height="6.4" fill="#2a9db1"/>
<g stroke="#f6a34e" stroke-width="1.4" fill="none">
<line x1="1928.8" y1="686" x2="1928.8" y2="725.4"/>
<line x1="1928.8" y1="772" x2="1928.8" y2="829.8"/>
<line x1="1913.3" y1="686" x2="1944.3" y2="686"/>
<line x1="1913.3" y1="829.8" x2="1944.3" y2="829.8"/>
<rect x="1897" y="725.4" width="63.5" height="46.6" fill="#fdd2a4"/>
<line x1="1897" y1="756.8" x2="1960.5" y2="756.8"/>
</g>
<path d="M1928.8 682L1932.6 688.8L1925 688.8Z" fill="#f5a048"/>
<path d="M1928.8 721.4L1932.6 728.2L1925 728.2Z" fill="#f5a048"/>
<path d="M1928.8 734.8L1932.6 741.6L1925 741.6Z" fill="#f5a048"/>
<path d="M1925.2 752.8L1929 759.6L1921.4 759.6Z" fill="#f5a048"/>
<path d="M1932.4 755.7L1936.2 762.5L1928.6 762.5Z" fill="#f5a048"/>
<path d="M1928.8 769.1L1932.6 775.9L1925 775.9Z" fill="#f5a048"/>
<path d="M1928.8 825.8L1932.6 832.6L1925 832.6Z" fill="#f5a048"/>
<g stroke="#ec5a5f" stroke-width="1.4" fill="none">
<line x1="2028" y1="806.3" x2="2028" y2="816.8"/>
<line x1="2028" y1="847.1" x2="2028" y2="852.6"/>
<line x1="2012.5" y1="806.3" x2="2043.5" y2="806.3"/>
<line x1="2012.5" y1="852.6" x2="2043.5" y2="852.6"/>
<rect x="1996.2" y="816.8" width="63.5" height="30.3" fill="#f8a2a4"/>
<line x1="1996.2" y1="834.5" x2="2059.8" y2="834.5"/>
</g>
<path d="M2028.5 802.5L2032.1 806.3L2028.5 810.1L2024.9 806.3Z" fill="#ec4b52"/>
<path d="M2032.1 812.6L2035.7 816.4L2032.1 820.2L2028.5 816.4Z" fill="#ec4b52"/>
<path d="M2024.2 819.9L2027.8 823.7L2024.2 827.5L2020.6 823.7Z" fill="#ec4b52"/>
<path d="M2024.2 830.7L2027.8 834.5L2024.2 838.3L2020.6 834.5Z" fill="#ec4b52"/>
<path d="M2032.1 835.4L2035.7 839.2L2032.1 843L2028.5 839.2Z" fill="#ec4b52"/>
<path d="M2024.2 843.3L2027.8 847.1L2024.2 850.9L2020.6 847.1Z" fill="#ec4b52"/>
<path d="M2032.1 848.8L2035.7 852.6L2032.1 856.4L2028.5 852.6Z" fill="#ec4b52"/>
<g stroke="#111" stroke-width="2.6" fill="none">
<line x1="2095" y1="633.8" x2="2095" y2="921.2"/>
<line x1="1663.7" y1="921.2" x2="2102.6" y2="921.2"/>
<line x1="2095" y1="921.2" x2="2103.5" y2="921.2"/>
<line x1="2095" y1="849.7" x2="2103.5" y2="849.7"/>
<line x1="2095" y1="778.2" x2="2103.5" y2="778.2"/>
<line x1="2095" y1="706.6" x2="2103.5" y2="706.6"/>
<line x1="2095" y1="635.1" x2="2103.5" y2="635.1"/>
</g>
<g font-family="Liberation Sans, Arial, sans-serif" font-size="19" fill="#333">
<text x="2109.5" y="928">0</text>
<text x="2109.5" y="856.5">200</text>
<text x="2109.5" y="785">400</text>
<text x="2109.5" y="713.4">600</text>
<text x="2109.5" y="641.9">800</text>
<text x="1879.7" y="948.9" text-anchor="middle">right</text>
<text transform="translate(2158.8,776.6) rotate(90)" text-anchor="middle" font-size="19">cells / 10<tspan font-size="15" dy="-8">5</tspan><tspan dy="8"> μm</tspan><tspan font-size="15" dy="-8">2</tspan></text>
</g>
<path d="M1928.8 666.9V653.2H2028V666.9" stroke="#666" stroke-width="1.6" fill="none"/>
<text x="1978" y="647.1" text-anchor="middle" font-family="DejaVu Sans, sans-serif" font-size="24" fill="#111" stroke="#111" stroke-width="0.6">*</text>
<g stroke="#c46ad9" stroke-width="1.4" fill="none">
<line x1="1253.8" y1="1225.6" x2="1253.8" y2="1239.3"/>
<line x1="1253.8" y1="1279.8" x2="1253.8" y2="1310.2"/>
<line x1="1238.3" y1="1225.6" x2="1269.3" y2="1225.6"/>
<line x1="1238.3" y1="1310.2" x2="1269.3" y2="1310.2"/>
<rect x="1222" y="1239.3" width="63.5" height="40.5" fill="#dca9eb"/>
<line x1="1222" y1="1271.2" x2="1285.5" y2="1271.2"/>
</g>
<circle cx="1253.8" cy="1225.6" r="3.3" fill="#c261d8"/>
<circle cx="1253.8" cy="1238.6" r="3.3" fill="#c261d8"/>
<circle cx="1246.5" cy="1263.6" r="3.3" fill="#c261d8"/>
<circle cx="1253.8" cy="1271.2" r="3.3" fill="#c261d8"/>
<circle cx="1261" cy="1271.2" r="3.3" fill="#c261d8"/>
<circle cx="1253.8" cy="1279.9" r="3.3" fill="#c261d8"/>
<circle cx="1253.8" cy="1310.3" r="3.3" fill="#c261d8"/>
<g stroke="#2a9db3" stroke-width="1.4" fill="none">
<line x1="1352.2" y1="1198.4" x2="1352.2" y2="1224.5"/>
<line x1="1352.2" y1="1275.1" x2="1352.2" y2="1284.2"/>
<line x1="1336.7" y1="1198.4" x2="1367.7" y2="1198.4"/>
<line x1="1336.7" y1="1284.2" x2="1367.7" y2="1284.2"/>
<rect x="1320.5" y="1224.5" width="63.5" height="50.6" fill="#86c9d8"/>
<line x1="1320.5" y1="1247.3" x2="1384" y2="1247.3"/>
</g>
<rect x="1349" y="1195.2" width="6.4" height="6.4" fill="#2a9db1"/>
<rect x="1349" y="1214.4" width="6.4" height="6.4" fill="#2a9db1"/>
<rect x="1341.8" y="1241.2" width="6.4" height="6.4" fill="#2a9db1"/>
<rect x="1356.2" y="1241.2" width="6.4" height="6.4" fill="#2a9db1"/>
<rect x="1349" y="1247" width="6.4" height="6.4" fill="#2a9db1"/>
<rect x="1349" y="1258.9" width="6.4" height="6.4" fill="#2a9db1"/>
<rect x="1345.4" y="1277.4" width="6.4" height="6.4" fill="#2a9db1"/>
<rect x="1352.6" y="1281" width="6.4" height="6.4" fill="#2a9db1"/>
<g stroke="#f6a34e" stroke-width="1.4" fill="none">
<line x1="1451" y1="1209.7" x2="1451" y2="1222"/>
<line x1="1451" y1="1288.2" x2="1451" y2="1292.1"/>
<line x1="1435.5" y1="1209.7" x2="1466.5" y2="1209.7"/>
<line x1="1435.5" y1="1292.1" x2="1466.5" y2="1292.1"/>
<rect x="1419.2" y="1222" width="63.5" height="66.2" fill="#fdd2a4"/>
<line x1="1419.2" y1="1279.8" x2="1482.8" y2="1279.8"/>
</g>
<path d="M1451 1205.7L1454.8 1212.5L1447.2 1212.5Z" fill="#f5a048"/>
<path d="M1451 1217.6L1454.8 1224.4L1447.2 1224.4Z" fill="#f5a048"/>
<path d="M1451 1241.1L1454.8 1247.9L1447.2 1247.9Z" fill="#f5a048"/>
<path d="M1447.4 1275.9L1451.2 1282.7L1443.6 1282.7Z" fill="#f5a048"/>
<path d="M1454.6 1278L1458.4 1284.8L1450.8 1284.8Z" fill="#f5a048"/>
<path d="M1447.4 1285.3L1451.2 1292.1L1443.6 1292.1Z" fill="#f5a048"/>
<path d="M1454.6 1288.2L1458.4 1295L1450.8 1295Z" fill="#f5a048"/>
<g stroke="#ec5a5f" stroke-width="1.4" fill="none">
<line x1="1549.5" y1="1250.2" x2="1549.5" y2="1253.4"/>
<line x1="1549.5" y1="1265" x2="1549.5" y2="1278.4"/>
<line x1="1534" y1="1250.2" x2="1565" y2="1250.2"/>
<line x1="1534" y1="1278.4" x2="1565" y2="1278.4"/>
<rect x="1517.8" y="1253.4" width="63.5" height="11.6" fill="#f8a2a4"/>
<line x1="1517.8" y1="1253.4" x2="1581.2" y2="1253.4"/>
</g>
<path d="M1522.6 1249.6L1526.2 1253.4L1522.6 1257.2L1519 1253.4Z" fill="#ec4b52"/>
<path d="M1536 1249.6L1539.6 1253.4L1536 1257.2L1532.4 1253.4Z" fill="#ec4b52"/>
<path d="M1549.4 1253.6L1553 1257.4L1549.4 1261.2L1545.8 1257.4Z" fill="#ec4b52"/>
<path d="M1562.1 1249.6L1565.7 1253.4L1562.1 1257.2L1558.5 1253.4Z" fill="#ec4b52"/>
<path d="M1575.5 1246.4L1579.1 1250.2L1575.5 1254L1571.9 1250.2Z" fill="#ec4b52"/>
<path d="M1549.4 1261.9L1553 1265.7L1549.4 1269.5L1545.8 1265.7Z" fill="#ec4b52"/>
<path d="M1549.4 1274.6L1553 1278.4L1549.4 1282.2L1545.8 1278.4Z" fill="#ec4b52"/>
<g stroke="#111" stroke-width="2.6" fill="none">
<line x1="1188" y1="1060" x2="1188" y2="1346.8"/>
<line x1="1177" y1="1346.8" x2="1617.4" y2="1346.8"/>
<line x1="1176.5" y1="1346.8" x2="1188" y2="1346.8"/>
<line x1="1176.5" y1="1275.4" x2="1188" y2="1275.4"/>
<line x1="1176.5" y1="1204" x2="1188" y2="1204"/>
<line x1="1176.5" y1="1132.7" x2="1188" y2="1132.7"/>
<line x1="1176.5" y1="1061.3" x2="1188" y2="1061.3"/>
</g>
<g font-family="Liberation Sans, Arial, sans-serif" font-size="19" fill="#333">
<text x="1172" y="1353.6" text-anchor="end">0</text>
<text x="1172" y="1282.2" text-anchor="end">200</text>
<text x="1172" y="1210.8" text-anchor="end">400</text>
<text x="1172" y="1139.5" text-anchor="end">600</text>
<text x="1172" y="1068.1" text-anchor="end">800</text>
<text x="1401.4" y="1373.8" text-anchor="middle">left</text>
<text transform="translate(1128,1204) rotate(-90)" text-anchor="middle" font-size="19">cells / 10<tspan font-size="15" dy="-8">5</tspan><tspan dy="8"> μm</tspan><tspan font-size="15" dy="-8">2</tspan></text>
</g>
<g stroke="#c46ad9" stroke-width="1.4" fill="none">
<line x1="1730.4" y1="1211.7" x2="1730.4" y2="1247.8"/>
<line x1="1714.9" y1="1211.7" x2="1745.9" y2="1211.7"/>
<line x1="1714.9" y1="1287.1" x2="1745.9" y2="1287.1"/>
<rect x="1698.7" y="1247.8" width="63.5" height="39.3" fill="#dca9eb"/>
<line x1="1698.7" y1="1259" x2="1762.2" y2="1259"/>
</g>
<circle cx="1730.2" cy="1211.7" r="3.3" fill="#c261d8"/>
<circle cx="1726.6" cy="1247.8" r="3.3" fill="#c261d8"/>
<circle cx="1733.8" cy="1247" r="3.3" fill="#c261d8"/>
<circle cx="1726.6" cy="1259.3" r="3.3" fill="#c261d8"/>
<circle cx="1733.8" cy="1264.7" r="3.3" fill="#c261d8"/>
<circle cx="1726.6" cy="1287.9" r="3.3" fill="#c261d8"/>
<circle cx="1733.8" cy="1287.9" r="3.3" fill="#c261d8"/>
<g stroke="#2a9db3" stroke-width="1.4" fill="none">
<line x1="1829.7" y1="1201.5" x2="1829.7" y2="1212"/>
<line x1="1829.7" y1="1253.2" x2="1829.7" y2="1262.6"/>
<line x1="1814.2" y1="1201.5" x2="1845.2" y2="1201.5"/>
<line x1="1814.2" y1="1262.6" x2="1845.2" y2="1262.6"/>
<rect x="1798" y="1212" width="63.5" height="41.2" fill="#86c9d8"/>
<line x1="1798" y1="1245.6" x2="1861.5" y2="1245.6"/>
</g>
<rect x="1823.1" y="1198.3" width="6.4" height="6.4" fill="#2a9db1"/>
<rect x="1830.3" y="1200.1" width="6.4" height="6.4" fill="#2a9db1"/>
<rect x="1830.3" y="1229.8" width="6.4" height="6.4" fill="#2a9db1"/>
<rect x="1823.1" y="1236.3" width="6.4" height="6.4" fill="#2a9db1"/>
<rect x="1823.1" y="1247.1" width="6.4" height="6.4" fill="#2a9db1"/>
<rect x="1830.3" y="1247.1" width="6.4" height="6.4" fill="#2a9db1"/>
<rect x="1823.1" y="1251.8" width="6.4" height="6.4" fill="#2a9db1"/>
<rect x="1830.3" y="1259.4" width="6.4" height="6.4" fill="#2a9db1"/>
<g stroke="#f6a34e" stroke-width="1.4" fill="none">
<line x1="1928.8" y1="1182.8" x2="1928.8" y2="1203.7"/>
<line x1="1928.8" y1="1278.1" x2="1928.8" y2="1296.2"/>
<line x1="1913.3" y1="1182.8" x2="1944.3" y2="1182.8"/>
<line x1="1913.3" y1="1296.2" x2="1944.3" y2="1296.2"/>
<rect x="1897" y="1203.7" width="63.5" height="74.4" fill="#fdd2a4"/>
<line x1="1897" y1="1257.5" x2="1960.5" y2="1257.5"/>
</g>
<path d="M1928.8 1178.8L1932.6 1185.6L1925 1185.6Z" fill="#f5a048"/>
<path d="M1928.8 1199.7L1932.6 1206.5L1925 1206.5Z" fill="#f5a048"/>
<path d="M1925.2 1252.4L1929 1259.2L1921.4 1259.2Z" fill="#f5a048"/>
<path d="M1932.4 1254.2L1936.2 1261L1928.6 1261Z" fill="#f5a048"/>
<path d="M1925.2 1269.4L1929 1276.2L1921.4 1276.2Z" fill="#f5a048"/>
<path d="M1932.4 1275.2L1936.2 1282L1928.6 1282Z" fill="#f5a048"/>
<path d="M1928.8 1292.9L1932.6 1299.7L1925 1299.7Z" fill="#f5a048"/>
<g stroke="#ec5a5f" stroke-width="1.4" fill="none">
<line x1="2028" y1="1219.2" x2="2028" y2="1248.9"/>
<line x1="2028" y1="1275.6" x2="2028" y2="1307.7"/>
<line x1="2012.5" y1="1219.2" x2="2043.5" y2="1219.2"/>
<line x1="2012.5" y1="1307.7" x2="2043.5" y2="1307.7"/>
<rect x="1996.2" y="1248.9" width="63.5" height="26.7" fill="#f8a2a4"/>
<line x1="1996.2" y1="1268" x2="2059.8" y2="1268"/>
</g>
<path d="M2027.8 1215.4L2031.4 1219.2L2027.8 1223L2024.2 1219.2Z" fill="#ec4b52"/>
<path d="M2027.8 1244.7L2031.4 1248.5L2027.8 1252.3L2024.2 1248.5Z" fill="#ec4b52"/>
<path d="M2027.8 1258.8L2031.4 1262.6L2027.8 1266.4L2024.2 1262.6Z" fill="#ec4b52"/>
<path d="M2020.6 1264.2L2024.2 1268L2020.6 1271.8L2017 1268Z" fill="#ec4b52"/>
<path d="M2027.8 1265.3L2031.4 1269.1L2027.8 1272.9L2024.2 1269.1Z" fill="#ec4b52"/>
<path d="M2035 1273.2L2038.6 1277L2035 1280.8L2031.4 1277Z" fill="#ec4b52"/>
<path d="M2027.8 1303.9L2031.4 1307.7L2027.8 1311.5L2024.2 1307.7Z" fill="#ec4b52"/>
<g stroke="#111" stroke-width="2.6" fill="none">
<line x1="2095" y1="1059" x2="2095" y2="1346.7"/>
<line x1="1663.7" y1="1346.7" x2="2102.6" y2="1346.7"/>
<line x1="2095" y1="1346.7" x2="2103.5" y2="1346.7"/>
<line x1="2095" y1="1275.1" x2="2103.5" y2="1275.1"/>
<line x1="2095" y1="1203.5" x2="2103.5" y2="1203.5"/>
<line x1="2095" y1="1131.9" x2="2103.5" y2="1131.9"/>
<line x1="2095" y1="1060.3" x2="2103.5" y2="1060.3"/>
</g>
<g font-family="Liberation Sans, Arial, sans-serif" font-size="19" fill="#333">
<text x="2109.5" y="1353.5">0</text>
<text x="2109.5" y="1281.9">200</text>
<text x="2109.5" y="1210.3">400</text>
<text x="2109.5" y="1138.7">600</text>
<text x="2109.5" y="1067.1">800</text>
<text x="1879.7" y="1374.5" text-anchor="middle">right</text>
<text transform="translate(2158.8,1202) rotate(90)" text-anchor="middle" font-size="19">cells / 10<tspan font-size="15" dy="-8">5</tspan><tspan dy="8"> μm</tspan><tspan font-size="15" dy="-8">2</tspan></text>
</g>
<rect x="706" y="1128" width="28" height="13.8" fill="#dca9eb" stroke="#c46ad9" stroke-width="1.3"/>
<text x="751" y="1143.4" font-family="Liberation Sans, Arial, sans-serif" font-size="23" fill="#c659dc">SHAMOP</text>
<rect x="706" y="1165.3" width="28" height="13.8" fill="#86c9d8" stroke="#2a9db3" stroke-width="1.3"/>
<text x="751" y="1180.7" font-family="Liberation Sans, Arial, sans-serif" font-size="23" fill="#1f97ad">EPICON</text>
<rect x="706" y="1202.6" width="28" height="13.8" fill="#fdd2a4" stroke="#f6a34e" stroke-width="1.3"/>
<text x="751" y="1218" font-family="Liberation Sans, Arial, sans-serif" font-size="23" fill="#f7963a">EPIBRV</text>
<rect x="706" y="1239.9" width="28" height="13.8" fill="#f8a2a4" stroke="#ec5a5f" stroke-width="1.3"/>
<text x="751" y="1255.3" font-family="Liberation Sans, Arial, sans-serif" font-size="23" fill="#ea3f4a">EPILEV</text>
</svg>
<svg class="abs" style="left:0;top:0" width="0" height="0"><defs>
<pattern id="pDapi1" width="173" height="173" patternUnits="userSpaceOnUse"><g fill="#1a30d8"><circle cx="25.2" cy="78.7" r="2.7"/><circle cx="122.1" cy="126.6" r="2.3"/><circle cx="138.4" cy="92.2" r="1.9"/><circle cx="78.9" cy="8.3" r="2.9"/><circle cx="163.8" cy="58.0" r="2.2"/><circle cx="132.9" cy="35.3" r="2.0"/><circle cx="32.6" cy="60.0" r="2.6"/><circle cx="166.7" cy="36.5" r="2.9"/><circle cx="96.1" cy="155.9" r="2.8"/><circle cx="27.8" cy="112.2" r="1.9"/><circle cx="1.0" cy="68.4" r="2.7"/><circle cx="97.9" cy="33.3" r="2.8"/><circle cx="158.1" cy="41.0" r="2.3"/><circle cx="110.3" cy="156.1" r="2.0"/><circle cx="95.8" cy="167.6" r="2.5"/><circle cx="124.1" cy="134.1" r="2.4"/><circle cx="50.1" cy="102.1" r="2.4"/><circle cx="59.4" cy="147.8" r="2.2"/><circle cx="83.7" cy="131.7" r="2.8"/><circle cx="154.0" cy="112.7" r="2.1"/><circle cx="146.6" cy="157.3" r="2.7"/><circle cx="132.7" cy="88.8" r="2.4"/><circle cx="100.8" cy="25.5" r="2.6"/><circle cx="149.0" cy="28.5" r="2.7"/><circle cx="122.2" cy="20.9" r="1.9"/><circle cx="103.0" cy="37.9" r="2.2"/><circle cx="107.5" cy="112.6" r="2.7"/><circle cx="98.3" cy="57.7" r="1.8"/><circle cx="19.7" cy="33.4" r="2.4"/><circle cx="124.6" cy="36.2" r="2.3"/><circle cx="162.0" cy="69.3" r="2.7"/><circle cx="107.0" cy="114.1" r="2.4"/><circle cx="94.3" cy="121.2" r="2.0"/><circle cx="138.2" cy="151.0" r="1.9"/><circle cx="34.3" cy="43.0" r="1.9"/><circle cx="24.2" cy="111.0" r="1.9"/><circle cx="11.6" cy="163.6" r="2.3"/><circle cx="93.5" cy="82.0" r="2.2"/><circle cx="78.6" cy="33.6" r="2.5"/><circle cx="43.5" cy="25.1" r="2.1"/><circle cx="71.4" cy="161.0" r="2.5"/><circle cx="169.7" cy="69.3" r="2.1"/><circle cx="122.9" cy="33.0" r="3.0"/><circle cx="67.6" cy="47.0" r="2.1"/><circle cx="52.7" cy="162.1" r="3.0"/><circle cx="96.6" cy="40.1" r="1.8"/><circle cx="13.8" cy="51.6" r="2.6"/><circle cx="108.4" cy="147.6" r="2.8"/><circle cx="61.0" cy="116.6" r="2.3"/><circle cx="126.0" cy="31.9" r="3.0"/><circle cx="4.0" cy="106.9" r="2.2"/><circle cx="138.5" cy="24.9" r="2.9"/><circle cx="0.6" cy="127.2" r="2.6"/><circle cx="87.8" cy="30.2" r="2.3"/><circle cx="77.3" cy="36.8" r="2.0"/><circle cx="145.7" cy="95.1" r="2.1"/><circle cx="108.2" cy="109.5" r="2.0"/><circle cx="101.1" cy="101.1" r="1.9"/><circle cx="52.0" cy="149.3" r="2.5"/><circle cx="38.6" cy="68.1" r="2.4"/><circle cx="122.5" cy="148.9" r="1.9"/><circle cx="8.1" cy="76.4" r="1.8"/><circle cx="26.7" cy="18.4" r="1.9"/><circle cx="108.2" cy="16.5" r="2.5"/><circle cx="167.1" cy="24.3" r="2.7"/><circle cx="101.1" cy="29.4" r="2.9"/><circle cx="127.4" cy="65.6" r="2.9"/><circle cx="18.0" cy="144.2" r="2.8"/><circle cx="20.1" cy="158.4" r="2.7"/><circle cx="158.2" cy="48.7" r="2.7"/><circle cx="134.9" cy="60.3" r="1.8"/><circle cx="2.5" cy="87.6" r="2.5"/><circle cx="21.6" cy="109.2" r="1.9"/><circle cx="82.7" cy="88.3" r="2.0"/><circle cx="8.2" cy="156.2" r="2.8"/><circle cx="101.7" cy="5.1" r="2.4"/><circle cx="166.6" cy="132.7" r="2.6"/><circle cx="6.8" cy="100.1" r="2.1"/><circle cx="170.7" cy="1.9" r="2.1"/><circle cx="152.2" cy="20.8" r="2.2"/><circle cx="53.0" cy="152.5" r="2.6"/><circle cx="161.6" cy="33.2" r="1.9"/><circle cx="59.4" cy="132.5" r="2.5"/><circle cx="161.8" cy="123.3" r="1.9"/><circle cx="54.5" cy="35.2" r="2.1"/><circle cx="115.3" cy="76.8" r="2.7"/><circle cx="2.8" cy="157.2" r="2.0"/><circle cx="128.5" cy="146.1" r="1.9"/><circle cx="93.8" cy="168.7" r="1.8"/><circle cx="86.0" cy="73.6" r="2.3"/><circle cx="33.6" cy="31.2" r="2.1"/><circle cx="37.6" cy="50.8" r="2.9"/><circle cx="164.2" cy="44.9" r="1.8"/><circle cx="46.0" cy="148.2" r="2.0"/><circle cx="114.5" cy="16.1" r="2.2"/><circle cx="29.3" cy="106.6" r="2.2"/><circle cx="133.9" cy="89.6" r="2.3"/><circle cx="3.7" cy="145.1" r="1.8"/><circle cx="86.3" cy="170.9" r="2.7"/><circle cx="61.5" cy="160.9" r="2.1"/><circle cx="100.6" cy="99.5" r="2.7"/><circle cx="49.9" cy="68.8" r="2.2"/><circle cx="158.9" cy="127.7" r="2.2"/><circle cx="133.9" cy="106.9" r="2.1"/><circle cx="86.3" cy="16.9" r="2.1"/><circle cx="13.3" cy="14.0" r="2.5"/><circle cx="143.6" cy="144.4" r="2.1"/><circle cx="164.0" cy="58.0" r="2.6"/><circle cx="103.0" cy="82.4" r="2.6"/><circle cx="154.1" cy="120.4" r="2.4"/><circle cx="149.0" cy="129.1" r="2.2"/><circle cx="169.4" cy="69.8" r="1.8"/><circle cx="166.7" cy="163.1" r="2.4"/><circle cx="129.8" cy="120.4" r="1.9"/><circle cx="137.7" cy="108.6" r="3.0"/><circle cx="82.9" cy="48.1" r="2.7"/><circle cx="95.7" cy="151.0" r="1.9"/><circle cx="118.4" cy="157.4" r="2.0"/><circle cx="15.7" cy="84.9" r="2.6"/><circle cx="109.2" cy="91.6" r="2.2"/><circle cx="122.9" cy="171.0" r="2.4"/><circle cx="68.4" cy="167.6" r="2.0"/><circle cx="97.3" cy="145.2" r="2.7"/><circle cx="129.4" cy="117.9" r="2.3"/><circle cx="167.1" cy="0.3" r="2.3"/><circle cx="78.0" cy="124.2" r="2.1"/><circle cx="34.2" cy="77.5" r="2.6"/><circle cx="91.5" cy="151.3" r="2.4"/><circle cx="35.5" cy="111.1" r="2.3"/><circle cx="4.3" cy="69.4" r="1.9"/><circle cx="110.6" cy="156.3" r="2.7"/><circle cx="165.6" cy="24.7" r="2.8"/><circle cx="132.1" cy="41.6" r="2.4"/><circle cx="29.9" cy="53.5" r="2.4"/><circle cx="67.2" cy="67.3" r="2.7"/><circle cx="117.1" cy="20.1" r="2.5"/><circle cx="134.5" cy="5.6" r="2.7"/><circle cx="3.5" cy="74.1" r="2.3"/><circle cx="3.5" cy="12.9" r="2.6"/><circle cx="46.2" cy="89.8" r="2.0"/><circle cx="106.5" cy="161.8" r="2.7"/><circle cx="63.4" cy="165.7" r="2.2"/><circle cx="48.2" cy="73.0" r="3.0"/><circle cx="67.0" cy="50.3" r="2.5"/><circle cx="110.1" cy="131.3" r="2.7"/><circle cx="116.4" cy="71.2" r="2.3"/><circle cx="169.8" cy="85.5" r="2.7"/><circle cx="62.1" cy="2.0" r="2.3"/><circle cx="90.3" cy="69.0" r="2.1"/><circle cx="27.9" cy="8.6" r="2.6"/><circle cx="91.3" cy="141.1" r="2.8"/><circle cx="130.2" cy="137.4" r="2.9"/><circle cx="158.1" cy="141.9" r="2.9"/><circle cx="60.2" cy="172.4" r="2.9"/><circle cx="140.6" cy="146.9" r="2.7"/><circle cx="99.3" cy="89.6" r="2.9"/><circle cx="49.6" cy="111.6" r="2.9"/><circle cx="45.9" cy="27.1" r="2.2"/><circle cx="76.4" cy="87.8" r="2.1"/><circle cx="41.8" cy="25.3" r="2.4"/><circle cx="24.5" cy="61.0" r="2.0"/><circle cx="109.5" cy="107.3" r="2.1"/><circle cx="172.9" cy="49.2" r="2.9"/><circle cx="51.8" cy="97.1" r="2.5"/><circle cx="100.1" cy="58.6" r="2.7"/><circle cx="107.7" cy="97.0" r="2.4"/><circle cx="49.0" cy="70.6" r="2.7"/><circle cx="122.8" cy="172.1" r="2.7"/><circle cx="171.6" cy="56.8" r="2.1"/><circle cx="172.5" cy="73.7" r="2.5"/><circle cx="150.3" cy="21.6" r="1.9"/><circle cx="80.8" cy="34.7" r="1.9"/><circle cx="123.2" cy="95.3" r="2.3"/><circle cx="110.5" cy="52.8" r="2.3"/><circle cx="58.0" cy="111.4" r="2.4"/></g></pattern>
<pattern id="pDapi2" width="131" height="131" patternUnits="userSpaceOnUse"><g fill="#2038e0"><circle cx="76.1" cy="25.5" r="2.4"/><circle cx="121.0" cy="61.2" r="2.1"/><circle cx="28.1" cy="29.0" r="1.7"/><circle cx="90.7" cy="27.8" r="2.4"/><circle cx="9.2" cy="25.3" r="1.5"/><circle cx="100.9" cy="48.0" r="1.9"/><circle cx="42.7" cy="83.5" r="1.8"/><circle cx="27.3" cy="56.4" r="1.7"/><circle cx="14.5" cy="107.9" r="2.1"/><circle cx="87.1" cy="115.6" r="1.8"/><circle cx="49.7" cy="55.4" r="1.8"/><circle cx="87.6" cy="0.9" r="1.9"/><circle cx="70.1" cy="45.3" r="1.4"/><circle cx="92.3" cy="1.2" r="2.0"/><circle cx="20.1" cy="4.5" r="1.6"/><circle cx="8.6" cy="19.7" r="2.1"/><circle cx="95.4" cy="47.5" r="2.1"/><circle cx="62.2" cy="65.3" r="2.3"/><circle cx="40.8" cy="114.0" r="2.1"/><circle cx="89.5" cy="0.8" r="1.5"/><circle cx="4.2" cy="45.3" r="2.3"/><circle cx="114.7" cy="109.9" r="1.5"/><circle cx="92.4" cy="101.5" r="2.2"/><circle cx="103.8" cy="18.4" r="1.6"/><circle cx="103.8" cy="96.7" r="2.3"/><circle cx="58.5" cy="116.5" r="1.5"/><circle cx="125.4" cy="115.9" r="1.7"/><circle cx="8.8" cy="71.9" r="2.1"/><circle cx="45.9" cy="7.5" r="1.7"/><circle cx="108.0" cy="11.9" r="2.3"/><circle cx="32.8" cy="26.8" r="1.5"/><circle cx="128.5" cy="118.0" r="1.7"/><circle cx="12.5" cy="85.6" r="2.3"/><circle cx="1.6" cy="82.9" r="2.3"/><circle cx="60.1" cy="74.6" r="2.2"/><circle cx="31.2" cy="35.8" r="2.1"/><circle cx="72.4" cy="70.1" r="1.7"/><circle cx="122.7" cy="37.7" r="2.1"/><circle cx="117.1" cy="52.5" r="1.5"/><circle cx="28.9" cy="8.7" r="1.5"/><circle cx="15.8" cy="44.9" r="1.8"/><circle cx="58.6" cy="87.1" r="2.1"/><circle cx="90.0" cy="47.7" r="2.1"/><circle cx="72.0" cy="16.7" r="1.9"/><circle cx="41.7" cy="88.5" r="2.1"/><circle cx="31.5" cy="57.0" r="1.9"/><circle cx="38.9" cy="5.3" r="1.4"/><circle cx="130.1" cy="96.9" r="1.8"/><circle cx="87.3" cy="35.2" r="2.1"/><circle cx="124.6" cy="101.3" r="1.9"/><circle cx="128.8" cy="120.8" r="1.5"/><circle cx="53.9" cy="59.2" r="1.7"/><circle cx="80.8" cy="18.8" r="2.1"/><circle cx="112.4" cy="8.1" r="2.1"/><circle cx="34.8" cy="83.6" r="2.1"/><circle cx="127.9" cy="104.5" r="1.7"/><circle cx="95.6" cy="19.2" r="2.1"/><circle cx="54.6" cy="34.7" r="1.6"/><circle cx="28.4" cy="104.3" r="1.5"/><circle cx="30.4" cy="25.2" r="1.6"/></g></pattern>
<pattern id="pPvt1" width="157" height="157" patternUnits="userSpaceOnUse"><g fill="#1c24ff"><circle cx="23.3" cy="96.7" r="2.0"/><circle cx="111.9" cy="95.4" r="2.3"/><circle cx="96.9" cy="88.9" r="1.9"/><circle cx="83.2" cy="97.3" r="2.4"/><circle cx="138.1" cy="115.4" r="2.3"/><circle cx="35.6" cy="20.1" r="2.8"/><circle cx="108.3" cy="95.7" r="2.3"/><circle cx="78.7" cy="34.9" r="2.4"/><circle cx="22.8" cy="97.5" r="2.6"/><circle cx="105.2" cy="38.7" r="1.9"/><circle cx="52.3" cy="108.0" r="2.4"/><circle cx="117.4" cy="67.7" r="2.3"/><circle cx="142.5" cy="26.2" r="2.0"/><circle cx="92.4" cy="99.1" r="2.3"/><circle cx="87.6" cy="69.2" r="2.6"/><circle cx="139.5" cy="129.5" r="2.6"/><circle cx="73.8" cy="148.8" r="2.3"/><circle cx="98.2" cy="136.4" r="2.6"/><circle cx="61.3" cy="116.7" r="2.5"/><circle cx="143.7" cy="97.8" r="2.4"/><circle cx="152.9" cy="82.8" r="2.3"/><circle cx="147.2" cy="148.2" r="2.0"/><circle cx="11.4" cy="134.7" r="2.9"/><circle cx="60.4" cy="40.0" r="2.6"/><circle cx="147.6" cy="33.5" r="2.3"/><circle cx="104.0" cy="34.7" r="2.3"/><circle cx="22.4" cy="75.3" r="2.1"/><circle cx="12.7" cy="61.1" r="2.0"/><circle cx="18.7" cy="23.6" r="2.3"/><circle cx="49.9" cy="114.3" r="2.3"/><circle cx="38.2" cy="29.5" r="2.2"/><circle cx="116.7" cy="31.6" r="2.4"/><circle cx="126.6" cy="130.3" r="2.4"/><circle cx="132.3" cy="100.9" r="2.1"/><circle cx="14.6" cy="26.7" r="2.7"/><circle cx="61.2" cy="131.5" r="3.0"/><circle cx="144.3" cy="73.7" r="1.8"/><circle cx="43.4" cy="34.4" r="2.6"/><circle cx="110.2" cy="144.7" r="2.6"/><circle cx="150.7" cy="100.2" r="2.4"/><circle cx="131.4" cy="43.0" r="2.7"/><circle cx="114.2" cy="136.1" r="1.9"/><circle cx="29.6" cy="149.1" r="2.0"/><circle cx="70.8" cy="94.5" r="2.4"/><circle cx="138.0" cy="150.0" r="2.2"/><circle cx="21.1" cy="143.6" r="2.3"/><circle cx="39.0" cy="21.7" r="1.8"/><circle cx="91.5" cy="44.1" r="2.5"/><circle cx="145.1" cy="76.0" r="2.9"/><circle cx="10.5" cy="119.0" r="2.7"/><circle cx="150.5" cy="4.9" r="2.4"/><circle cx="87.3" cy="93.9" r="2.4"/><circle cx="42.8" cy="141.7" r="2.9"/><circle cx="110.1" cy="150.6" r="2.5"/><circle cx="12.5" cy="109.0" r="1.9"/><circle cx="117.9" cy="101.8" r="2.0"/><circle cx="23.9" cy="10.6" r="2.0"/><circle cx="153.6" cy="35.8" r="2.9"/><circle cx="21.1" cy="53.2" r="2.4"/><circle cx="56.3" cy="151.4" r="2.1"/><circle cx="75.9" cy="32.2" r="1.9"/><circle cx="108.4" cy="53.2" r="2.4"/><circle cx="108.8" cy="13.9" r="1.9"/><circle cx="107.9" cy="156.0" r="1.8"/><circle cx="71.0" cy="156.2" r="2.8"/><circle cx="155.3" cy="83.1" r="3.0"/><circle cx="8.8" cy="74.1" r="2.8"/><circle cx="61.3" cy="69.2" r="2.3"/><circle cx="59.6" cy="127.6" r="3.0"/><circle cx="36.2" cy="50.6" r="2.8"/><circle cx="116.8" cy="127.8" r="2.6"/><circle cx="143.6" cy="132.7" r="2.6"/><circle cx="44.5" cy="13.4" r="2.8"/><circle cx="134.7" cy="140.0" r="2.1"/><circle cx="115.9" cy="146.1" r="2.0"/><circle cx="3.7" cy="27.3" r="2.1"/><circle cx="106.8" cy="128.9" r="2.8"/><circle cx="108.2" cy="153.6" r="3.0"/><circle cx="69.0" cy="144.7" r="2.7"/><circle cx="38.5" cy="91.9" r="2.0"/><circle cx="62.8" cy="127.6" r="1.8"/><circle cx="84.2" cy="68.4" r="2.1"/><circle cx="10.2" cy="82.2" r="2.2"/><circle cx="15.3" cy="63.0" r="2.6"/><circle cx="12.5" cy="123.3" r="1.9"/><circle cx="73.9" cy="57.6" r="2.8"/><circle cx="140.2" cy="115.7" r="2.2"/><circle cx="50.9" cy="129.5" r="2.4"/><circle cx="99.7" cy="113.6" r="2.0"/><circle cx="60.4" cy="149.8" r="2.2"/><circle cx="133.2" cy="24.3" r="1.8"/><circle cx="78.9" cy="44.5" r="2.5"/><circle cx="120.9" cy="6.1" r="2.4"/><circle cx="58.7" cy="142.2" r="2.8"/><circle cx="138.9" cy="116.4" r="2.2"/><circle cx="97.2" cy="85.4" r="2.2"/><circle cx="45.5" cy="101.9" r="2.9"/><circle cx="38.0" cy="55.9" r="2.0"/><circle cx="57.3" cy="61.0" r="1.9"/><circle cx="101.3" cy="54.0" r="2.8"/><circle cx="38.1" cy="115.2" r="3.0"/><circle cx="26.6" cy="58.1" r="3.0"/><circle cx="63.3" cy="51.6" r="2.0"/><circle cx="130.2" cy="51.2" r="2.9"/><circle cx="87.6" cy="28.2" r="3.0"/><circle cx="141.4" cy="117.6" r="2.5"/><circle cx="118.3" cy="148.8" r="2.0"/><circle cx="37.9" cy="119.7" r="2.3"/><circle cx="154.7" cy="130.9" r="2.4"/><circle cx="25.1" cy="96.1" r="2.5"/><circle cx="91.1" cy="122.3" r="2.4"/><circle cx="140.1" cy="93.5" r="2.0"/><circle cx="128.9" cy="26.5" r="2.9"/><circle cx="145.5" cy="30.7" r="2.0"/><circle cx="110.3" cy="71.7" r="2.2"/><circle cx="117.9" cy="52.7" r="2.0"/><circle cx="86.5" cy="137.7" r="3.0"/><circle cx="16.7" cy="117.1" r="2.2"/><circle cx="152.4" cy="61.3" r="1.9"/><circle cx="51.9" cy="80.9" r="2.0"/></g></pattern>
<pattern id="pPvt2" width="119" height="119" patternUnits="userSpaceOnUse"><g fill="#2430ff"><circle cx="116.5" cy="54.3" r="2.3"/><circle cx="87.5" cy="25.6" r="1.6"/><circle cx="71.7" cy="14.5" r="1.9"/><circle cx="105.9" cy="103.8" r="1.6"/><circle cx="9.8" cy="26.5" r="2.4"/><circle cx="2.9" cy="26.8" r="1.6"/><circle cx="15.2" cy="62.3" r="1.7"/><circle cx="48.7" cy="87.2" r="2.3"/><circle cx="49.4" cy="93.6" r="2.1"/><circle cx="98.4" cy="29.6" r="1.9"/><circle cx="69.1" cy="112.6" r="2.2"/><circle cx="56.5" cy="29.9" r="1.8"/><circle cx="25.7" cy="117.4" r="2.5"/><circle cx="106.5" cy="62.9" r="2.3"/><circle cx="35.3" cy="57.3" r="1.7"/><circle cx="50.0" cy="30.1" r="1.6"/><circle cx="109.4" cy="11.5" r="2.4"/><circle cx="83.2" cy="10.7" r="2.0"/><circle cx="118.5" cy="117.4" r="2.1"/><circle cx="91.8" cy="84.3" r="1.8"/><circle cx="65.4" cy="71.0" r="1.9"/><circle cx="97.5" cy="52.9" r="2.3"/><circle cx="7.7" cy="52.9" r="1.5"/><circle cx="77.0" cy="103.8" r="2.1"/><circle cx="67.3" cy="74.1" r="1.8"/><circle cx="46.0" cy="68.8" r="2.2"/><circle cx="45.2" cy="56.8" r="1.9"/><circle cx="66.0" cy="80.4" r="1.9"/><circle cx="81.5" cy="101.0" r="2.1"/><circle cx="116.7" cy="36.8" r="2.5"/><circle cx="21.6" cy="43.2" r="2.4"/><circle cx="3.9" cy="73.1" r="2.5"/><circle cx="112.3" cy="81.2" r="1.9"/><circle cx="39.5" cy="75.1" r="1.6"/><circle cx="3.3" cy="104.9" r="2.2"/><circle cx="19.4" cy="51.0" r="1.8"/><circle cx="103.4" cy="34.1" r="2.3"/><circle cx="88.5" cy="37.9" r="1.8"/><circle cx="62.0" cy="47.6" r="2.2"/><circle cx="39.1" cy="94.5" r="2.0"/><circle cx="16.2" cy="92.2" r="2.5"/><circle cx="81.1" cy="65.0" r="2.5"/><circle cx="111.1" cy="1.1" r="2.0"/><circle cx="2.3" cy="39.7" r="1.8"/><circle cx="54.9" cy="80.6" r="2.4"/><circle cx="31.0" cy="1.4" r="2.6"/><circle cx="93.1" cy="65.5" r="1.6"/><circle cx="6.2" cy="111.2" r="2.1"/><circle cx="102.3" cy="93.3" r="2.3"/><circle cx="95.8" cy="30.2" r="1.8"/><circle cx="51.6" cy="91.3" r="2.4"/><circle cx="90.1" cy="69.0" r="2.0"/><circle cx="23.1" cy="79.3" r="2.2"/><circle cx="61.2" cy="86.5" r="2.6"/><circle cx="112.3" cy="12.8" r="1.8"/><circle cx="72.9" cy="82.1" r="1.8"/><circle cx="110.8" cy="54.8" r="2.3"/><circle cx="6.2" cy="33.2" r="1.5"/><circle cx="94.1" cy="62.1" r="2.5"/><circle cx="72.2" cy="38.7" r="1.9"/></g></pattern>
<pattern id="pSpk" width="97" height="97" patternUnits="userSpaceOnUse"><g fill="#2a3cd0"><circle cx="93.1" cy="84.6" r="1.2"/><circle cx="22.1" cy="32.1" r="1.2"/><circle cx="78.3" cy="1.6" r="0.8"/><circle cx="86.9" cy="11.5" r="1.2"/><circle cx="32.0" cy="62.6" r="1.3"/><circle cx="56.4" cy="37.9" r="0.9"/><circle cx="60.3" cy="60.9" r="1.0"/><circle cx="45.2" cy="52.0" r="0.9"/><circle cx="17.4" cy="55.2" r="0.8"/><circle cx="58.0" cy="77.8" r="1.3"/><circle cx="24.5" cy="40.2" r="1.3"/><circle cx="33.9" cy="96.2" r="0.8"/><circle cx="81.6" cy="4.0" r="1.2"/><circle cx="78.1" cy="53.1" r="1.1"/><circle cx="88.6" cy="96.6" r="0.8"/><circle cx="50.7" cy="3.9" r="1.0"/><circle cx="14.1" cy="15.5" r="1.1"/><circle cx="8.2" cy="14.9" r="0.7"/><circle cx="78.9" cy="23.6" r="0.8"/><circle cx="60.2" cy="69.6" r="1.1"/><circle cx="53.1" cy="51.9" r="1.2"/><circle cx="30.1" cy="81.7" r="1.2"/><circle cx="83.2" cy="86.4" r="1.3"/><circle cx="50.4" cy="50.7" r="1.2"/><circle cx="56.2" cy="2.7" r="1.3"/><circle cx="19.3" cy="47.0" r="1.0"/><circle cx="9.0" cy="56.1" r="1.1"/><circle cx="78.9" cy="59.4" r="0.9"/><circle cx="54.8" cy="93.0" r="1.1"/><circle cx="81.8" cy="1.1" r="1.2"/><circle cx="20.5" cy="15.8" r="0.9"/><circle cx="17.3" cy="8.3" r="0.8"/><circle cx="22.3" cy="24.2" r="1.3"/><circle cx="8.1" cy="19.4" r="0.7"/><circle cx="49.1" cy="22.2" r="1.1"/><circle cx="23.1" cy="19.1" r="1.0"/><circle cx="6.9" cy="85.8" r="1.1"/><circle cx="38.3" cy="53.3" r="1.4"/><circle cx="48.0" cy="38.2" r="0.9"/><circle cx="36.9" cy="75.1" r="1.1"/><circle cx="26.7" cy="87.2" r="0.8"/><circle cx="34.5" cy="75.3" r="1.3"/><circle cx="44.5" cy="1.1" r="1.1"/><circle cx="41.4" cy="2.9" r="0.9"/><circle cx="85.6" cy="3.6" r="0.8"/><circle cx="16.2" cy="77.4" r="0.9"/><circle cx="66.4" cy="65.5" r="0.7"/><circle cx="42.5" cy="11.6" r="1.3"/><circle cx="47.5" cy="35.7" r="1.3"/><circle cx="79.8" cy="6.6" r="0.8"/><circle cx="31.3" cy="30.4" r="1.0"/><circle cx="41.5" cy="94.3" r="1.2"/><circle cx="93.3" cy="60.0" r="0.9"/><circle cx="55.1" cy="15.5" r="1.1"/><circle cx="13.8" cy="90.3" r="0.9"/><circle cx="86.8" cy="21.4" r="0.8"/><circle cx="23.9" cy="79.9" r="1.3"/><circle cx="72.3" cy="55.8" r="0.8"/><circle cx="23.1" cy="3.2" r="1.4"/><circle cx="12.4" cy="69.4" r="0.7"/><circle cx="27.6" cy="58.5" r="0.8"/><circle cx="6.8" cy="86.9" r="0.9"/><circle cx="0.6" cy="68.3" r="1.4"/><circle cx="52.9" cy="3.4" r="1.0"/><circle cx="59.1" cy="23.7" r="1.0"/><circle cx="71.9" cy="63.8" r="1.3"/><circle cx="92.2" cy="50.3" r="1.4"/><circle cx="11.4" cy="50.2" r="1.2"/><circle cx="90.1" cy="45.6" r="1.0"/><circle cx="86.5" cy="45.6" r="0.7"/><circle cx="43.8" cy="26.2" r="1.2"/><circle cx="79.2" cy="4.6" r="0.9"/><circle cx="87.3" cy="78.5" r="1.2"/><circle cx="37.7" cy="92.6" r="1.3"/><circle cx="79.4" cy="52.7" r="1.1"/><circle cx="12.8" cy="3.4" r="0.7"/><circle cx="5.2" cy="49.5" r="1.4"/><circle cx="55.8" cy="76.4" r="1.2"/><circle cx="91.6" cy="26.8" r="1.0"/><circle cx="89.7" cy="32.0" r="1.2"/><circle cx="40.0" cy="14.9" r="0.8"/><circle cx="34.9" cy="2.8" r="1.3"/><circle cx="34.5" cy="23.4" r="1.3"/><circle cx="0.5" cy="73.9" r="1.0"/><circle cx="8.7" cy="38.6" r="1.4"/><circle cx="3.8" cy="27.6" r="0.8"/><circle cx="57.4" cy="19.3" r="1.3"/><circle cx="35.3" cy="92.2" r="0.8"/><circle cx="22.3" cy="2.6" r="0.7"/><circle cx="17.8" cy="57.0" r="1.1"/><circle cx="70.4" cy="22.7" r="1.1"/><circle cx="95.5" cy="31.2" r="0.9"/><circle cx="18.0" cy="93.6" r="1.1"/><circle cx="47.9" cy="48.1" r="0.8"/><circle cx="21.9" cy="67.9" r="0.9"/><circle cx="49.8" cy="87.7" r="0.8"/><circle cx="45.8" cy="74.0" r="1.2"/><circle cx="80.2" cy="88.3" r="1.1"/><circle cx="21.9" cy="49.4" r="1.3"/><circle cx="19.2" cy="28.5" r="0.8"/><circle cx="85.2" cy="9.4" r="0.8"/><circle cx="59.1" cy="70.7" r="1.0"/><circle cx="72.6" cy="68.6" r="1.0"/><circle cx="7.1" cy="67.0" r="1.1"/><circle cx="93.0" cy="68.0" r="0.7"/><circle cx="19.0" cy="29.9" r="1.2"/><circle cx="30.0" cy="22.7" r="0.8"/><circle cx="26.3" cy="48.2" r="1.2"/><circle cx="82.2" cy="9.7" r="1.1"/><circle cx="94.4" cy="38.4" r="0.8"/></g></pattern>
<pattern id="pSpkG" width="89" height="89" patternUnits="userSpaceOnUse"><g fill="#3cc060"><circle cx="78.2" cy="31.1" r="1.1"/><circle cx="84.7" cy="27.8" r="1.1"/><circle cx="29.8" cy="14.6" r="0.8"/><circle cx="66.9" cy="13.1" r="1.0"/><circle cx="31.3" cy="15.0" r="0.9"/><circle cx="34.4" cy="41.0" r="1.1"/><circle cx="81.9" cy="20.2" r="1.2"/><circle cx="54.5" cy="85.4" r="1.1"/><circle cx="46.8" cy="22.3" r="1.2"/><circle cx="88.9" cy="55.6" r="0.7"/><circle cx="73.3" cy="68.1" r="1.1"/><circle cx="86.9" cy="86.8" r="1.0"/><circle cx="34.9" cy="47.4" r="0.9"/><circle cx="67.7" cy="55.7" r="1.1"/><circle cx="45.9" cy="52.5" r="1.2"/><circle cx="70.5" cy="82.9" r="1.0"/><circle cx="11.1" cy="37.3" r="0.8"/><circle cx="23.4" cy="11.3" r="0.7"/><circle cx="42.8" cy="69.7" r="1.1"/><circle cx="86.1" cy="51.8" r="0.6"/><circle cx="17.0" cy="5.1" r="1.1"/><circle cx="28.5" cy="64.4" r="0.9"/><circle cx="52.0" cy="75.8" r="1.0"/><circle cx="6.7" cy="56.5" r="0.8"/><circle cx="86.9" cy="23.8" r="0.7"/><circle cx="82.1" cy="36.8" r="0.6"/><circle cx="70.9" cy="81.8" r="0.9"/><circle cx="14.9" cy="77.1" r="0.8"/><circle cx="21.9" cy="3.9" r="1.1"/><circle cx="20.9" cy="10.7" r="0.8"/><circle cx="62.3" cy="88.7" r="0.7"/><circle cx="55.0" cy="24.0" r="1.1"/><circle cx="43.4" cy="60.8" r="1.1"/><circle cx="47.6" cy="41.9" r="0.6"/><circle cx="14.8" cy="61.6" r="1.1"/><circle cx="51.4" cy="4.4" r="1.0"/><circle cx="75.6" cy="76.2" r="1.1"/><circle cx="59.0" cy="31.1" r="0.8"/><circle cx="16.9" cy="57.3" r="0.8"/><circle cx="72.0" cy="20.7" r="0.8"/><circle cx="7.6" cy="24.9" r="1.1"/><circle cx="73.4" cy="81.6" r="0.6"/><circle cx="61.0" cy="50.1" r="0.8"/><circle cx="83.7" cy="60.7" r="0.8"/><circle cx="73.9" cy="39.4" r="0.9"/><circle cx="42.4" cy="42.3" r="0.6"/><circle cx="73.0" cy="26.9" r="0.9"/><circle cx="15.7" cy="50.6" r="0.6"/><circle cx="2.7" cy="18.7" r="1.1"/><circle cx="60.8" cy="64.3" r="0.7"/><circle cx="40.2" cy="65.5" r="1.0"/><circle cx="40.0" cy="6.8" r="0.8"/><circle cx="84.4" cy="79.2" r="1.0"/><circle cx="31.4" cy="53.6" r="0.9"/><circle cx="41.1" cy="75.9" r="0.9"/><circle cx="8.6" cy="65.2" r="1.0"/><circle cx="9.0" cy="46.7" r="1.2"/><circle cx="57.6" cy="60.0" r="0.9"/><circle cx="37.8" cy="87.8" r="0.8"/><circle cx="41.3" cy="8.4" r="0.9"/><circle cx="59.0" cy="61.5" r="1.2"/><circle cx="23.4" cy="18.5" r="0.8"/><circle cx="29.8" cy="81.3" r="0.7"/><circle cx="42.0" cy="88.9" r="0.8"/><circle cx="40.8" cy="37.3" r="0.8"/><circle cx="28.5" cy="74.5" r="0.6"/><circle cx="5.9" cy="71.8" r="1.0"/><circle cx="37.8" cy="42.7" r="0.9"/><circle cx="22.8" cy="38.6" r="0.8"/><circle cx="52.6" cy="30.0" r="1.0"/><circle cx="3.7" cy="88.0" r="0.6"/><circle cx="42.0" cy="33.5" r="0.7"/><circle cx="86.6" cy="40.0" r="0.7"/><circle cx="29.2" cy="16.8" r="0.9"/><circle cx="88.9" cy="85.8" r="0.7"/><circle cx="63.2" cy="50.1" r="1.1"/><circle cx="13.9" cy="4.0" r="0.7"/><circle cx="80.7" cy="4.8" r="0.6"/><circle cx="41.2" cy="5.4" r="0.7"/><circle cx="84.9" cy="16.1" r="1.1"/><circle cx="75.1" cy="40.6" r="0.9"/><circle cx="18.8" cy="29.1" r="0.9"/><circle cx="50.8" cy="47.5" r="0.8"/><circle cx="78.9" cy="40.8" r="0.8"/><circle cx="42.4" cy="75.0" r="1.0"/><circle cx="66.1" cy="73.5" r="0.8"/><circle cx="64.3" cy="8.5" r="0.9"/><circle cx="41.1" cy="34.7" r="0.7"/><circle cx="71.4" cy="30.5" r="0.8"/><circle cx="10.5" cy="77.0" r="1.1"/></g></pattern>
<filter id="soft1" x="-5%" y="-5%" width="110%" height="110%" color-interpolation-filters="sRGB"><feGaussianBlur stdDeviation="1.2"/></filter>
</defs></svg>
<svg class="abs" style="left:110.4px;top:1559.2px" width="497.8" height="663.4" viewBox="0 0 497.8 663.4">
<defs>
<filter id="m0b5" filterUnits="userSpaceOnUse" x="-150" y="-150" width="797.8" height="963.4" color-interpolation-filters="sRGB"><feGaussianBlur stdDeviation="5"/></filter>
<filter id="m0b14" filterUnits="userSpaceOnUse" x="-150" y="-150" width="797.8" height="963.4" color-interpolation-filters="sRGB"><feGaussianBlur stdDeviation="14"/></filter>
<filter id="m0b30" filterUnits="userSpaceOnUse" x="-150" y="-150" width="797.8" height="963.4" color-interpolation-filters="sRGB"><feGaussianBlur stdDeviation="30"/></filter>
</defs>
<rect width="497.8" height="663.4" fill="#0a1a5c"/>
<g filter="url(#m0b30)"><path d="M0.0 -80.0C19.7 -160.0 97.7 -118.3 118.0 -80.0C138.3 -41.7 122.5 71.7 122.0 150.0C121.5 228.3 135.3 348.3 115.0 390.0C94.7 431.7 19.2 478.3 0.0 400.0C-19.2 321.7 -19.7 0.0 0.0 -80.0Z" fill="#0c7646" fill-opacity="1"/><path d="M-80.0 -80.0C-66.7 -160.0 -13.3 -160.0 0.0 -80.0C13.3 0.0 13.3 320.0 0.0 400.0C-13.3 480.0 -66.7 480.0 -80.0 400.0C-93.3 320.0 -93.3 0.0 -80.0 -80.0Z" fill="#0e3a70" fill-opacity="1"/><path d="M-80.0 390.0C-43.3 331.7 103.3 331.7 140.0 390.0C176.7 448.3 176.7 681.7 140.0 740.0C103.3 798.3 -43.3 798.3 -80.0 740.0C-116.7 681.7 -116.7 448.3 -80.0 390.0Z" fill="#0b2270" fill-opacity="1"/><path d="M360.0 -80.0C388.3 -118.3 543.3 -148.3 580.0 -80.0C616.7 -11.7 605.0 266.7 580.0 330.0C555.0 393.3 458.3 330.0 430.0 300.0C401.7 270.0 421.7 213.3 410.0 150.0C398.3 86.7 331.7 -41.7 360.0 -80.0Z" fill="#0d2a86" fill-opacity="1"/><path d="M300.0 250.0C341.7 196.7 533.3 188.3 580.0 240.0C626.7 291.7 621.7 506.7 580.0 560.0C538.3 613.3 376.7 611.7 330.0 560.0C283.3 508.3 258.3 303.3 300.0 250.0Z" fill="#0c4e5e" fill-opacity="1"/><path d="M150.0 545.0C195.0 511.7 365.0 507.5 410.0 540.0C455.0 572.5 465.0 706.7 420.0 740.0C375.0 773.3 185.0 772.5 140.0 740.0C95.0 707.5 105.0 578.3 150.0 545.0Z" fill="#0a623e" fill-opacity="1"/><path d="M145.0 340.0C169.2 305.0 263.3 313.3 305.0 335.0C346.7 356.7 380.0 435.0 395.0 470.0C410.0 505.0 434.2 532.5 395.0 545.0C355.8 557.5 201.7 579.2 160.0 545.0C118.3 510.8 120.8 375.0 145.0 340.0Z" fill="#0a2456" fill-opacity="1"/></g>
<g filter="url(#m0b14)"><path d="M170.0 -80.0C199.7 -98.3 317.5 -100.0 350.0 -80.0C382.5 -60.0 355.8 6.7 365.0 40.0C374.2 73.3 395.8 93.3 405.0 120.0C414.2 146.7 424.2 180.8 420.0 200.0C415.8 219.2 400.0 225.8 380.0 235.0C360.0 244.2 318.3 254.2 300.0 255.0C281.7 255.8 281.7 257.5 270.0 240.0C258.3 222.5 243.3 176.7 230.0 150.0C216.7 123.3 199.7 100.0 190.0 80.0C180.3 60.0 175.3 56.7 172.0 30.0C168.7 3.3 140.3 -61.7 170.0 -80.0Z" fill="#068a3a" fill-opacity="1"/><path d="M160.0 70.0C168.0 54.2 185.0 85.0 200.0 105.0C215.0 125.0 234.2 162.5 250.0 190.0C265.8 217.5 285.8 246.7 295.0 270.0C304.2 293.3 329.2 319.2 305.0 330.0C280.8 340.8 175.5 356.7 150.0 335.0C124.5 313.3 150.3 244.2 152.0 200.0C153.7 155.8 152.0 85.8 160.0 70.0Z" fill="#0b7044" fill-opacity="1"/><path d="M128.0 -80.0C135.0 -210.0 162.7 -210.0 168.0 -80.0C173.3 50.0 167.0 570.0 160.0 700.0C153.0 830.0 131.3 830.0 126.0 700.0C120.7 570.0 121.0 50.0 128.0 -80.0Z" fill="#081850" fill-opacity="0.8"/><ellipse cx="205" cy="358" rx="22" ry="14" fill="#2c50a8" fill-opacity="0.8"/></g>
<g filter="url(#m0b5)"><path d="M245 70 Q300 62 385 85" fill="none" stroke="#0a2a50" stroke-width="7" stroke-opacity="0.7" stroke-linecap="round" stroke-linejoin="round"/><path d="M232 132 Q262 122 290 120" fill="none" stroke="#0a2a50" stroke-width="5" stroke-opacity="0.6" stroke-linecap="round" stroke-linejoin="round"/><path d="M383 175 L355 245" fill="none" stroke="#061838" stroke-width="7" stroke-opacity="0.85" stroke-linecap="round" stroke-linejoin="round"/></g>
<rect x="-200" y="-200" width="897.8" height="1063.4" fill="url(#pSpk)" opacity="0.6" transform="translate(0 0)" filter="url(#soft1)"/>
<rect x="-200" y="-200" width="897.8" height="1063.4" fill="url(#pSpkG)" opacity="0.35" transform="translate(40 20)" filter="url(#soft1)"/>
<g fill="#3fd06a" fill-opacity="0.55"><circle cx="225" cy="372" r="1.7"/><circle cx="232" cy="337" r="1.4"/><circle cx="92" cy="340" r="1.4"/><circle cx="395" cy="62" r="1.1"/><circle cx="45" cy="538" r="1.5"/><circle cx="21" cy="652" r="1.8"/><circle cx="326" cy="409" r="1.0"/><circle cx="7" cy="351" r="0.9"/><circle cx="95" cy="161" r="0.8"/><circle cx="231" cy="293" r="1.6"/><circle cx="259" cy="425" r="1.3"/><circle cx="330" cy="304" r="1.1"/><circle cx="497" cy="661" r="1.6"/><circle cx="352" cy="209" r="1.0"/><circle cx="144" cy="47" r="1.6"/><circle cx="199" cy="562" r="1.2"/><circle cx="477" cy="563" r="0.8"/><circle cx="104" cy="604" r="1.3"/><circle cx="488" cy="264" r="0.9"/><circle cx="313" cy="517" r="1.1"/><circle cx="43" cy="221" r="1.8"/><circle cx="378" cy="78" r="1.0"/><circle cx="50" cy="40" r="1.6"/><circle cx="88" cy="371" r="1.2"/><circle cx="95" cy="486" r="0.9"/><circle cx="321" cy="77" r="1.2"/><circle cx="106" cy="179" r="1.8"/><circle cx="400" cy="202" r="1.7"/><circle cx="105" cy="262" r="1.7"/><circle cx="320" cy="67" r="1.8"/><circle cx="106" cy="171" r="1.6"/><circle cx="164" cy="197" r="0.9"/><circle cx="45" cy="387" r="1.0"/><circle cx="299" cy="247" r="1.3"/><circle cx="478" cy="321" r="1.4"/><circle cx="432" cy="121" r="1.0"/><circle cx="452" cy="543" r="1.0"/><circle cx="95" cy="491" r="1.7"/><circle cx="98" cy="631" r="1.7"/><circle cx="301" cy="280" r="0.9"/><circle cx="19" cy="639" r="1.0"/><circle cx="351" cy="171" r="1.6"/><circle cx="297" cy="195" r="1.0"/><circle cx="359" cy="46" r="1.0"/><circle cx="279" cy="566" r="1.4"/><circle cx="140" cy="609" r="1.0"/><circle cx="8" cy="179" r="1.2"/><circle cx="30" cy="117" r="1.2"/><circle cx="285" cy="87" r="1.2"/><circle cx="444" cy="651" r="1.5"/></g>
<path d="M173.7 62.3C179.2 66.7 186.2 80.8 196.6 95.0C207.0 109.2 227.2 131.6 235.9 147.4C244.6 163.2 241.9 176.3 249.0 190.0C256.1 203.7 270.9 216.3 278.5 229.4C286.1 242.5 291.1 252.3 294.9 268.7C298.7 285.1 299.8 312.4 301.4 327.7C303.0 343.0 298.7 348.4 304.7 360.4C310.7 372.4 326.6 387.7 337.5 399.7C348.4 411.7 360.4 419.9 370.2 432.5C380.0 445.1 391.9 462.0 396.5 475.1C401.1 488.2 399.8 499.6 398.1 511.1C396.5 522.6 391.8 536.2 386.6 543.9C381.4 551.5 387.8 554.8 367.0 557.0C346.2 559.2 290.5 558.1 262.1 557.0C233.7 555.9 213.5 556.0 196.6 550.5C179.7 545.0 169.3 536.8 160.6 524.2C151.9 511.6 147.5 494.2 144.2 475.1C140.9 456.0 140.9 434.2 140.9 409.6C140.9 385.0 142.6 349.6 144.2 327.7C145.8 305.8 148.5 300.4 150.7 278.5C152.9 256.6 155.7 226.6 157.3 196.6C159.0 166.6 159.5 119.6 160.6 98.3C161.7 77.0 161.6 74.8 163.8 68.8C166.0 62.8 168.2 57.9 173.7 62.3Z" fill="none" stroke="#000" stroke-opacity="0.35" stroke-width="5" stroke-dasharray="11 4.6" stroke-dashoffset="-0" />
<path d="M173.7 62.3C179.2 66.7 186.2 80.8 196.6 95.0C207.0 109.2 227.2 131.6 235.9 147.4C244.6 163.2 241.9 176.3 249.0 190.0C256.1 203.7 270.9 216.3 278.5 229.4C286.1 242.5 291.1 252.3 294.9 268.7C298.7 285.1 299.8 312.4 301.4 327.7C303.0 343.0 298.7 348.4 304.7 360.4C310.7 372.4 326.6 387.7 337.5 399.7C348.4 411.7 360.4 419.9 370.2 432.5C380.0 445.1 391.9 462.0 396.5 475.1C401.1 488.2 399.8 499.6 398.1 511.1C396.5 522.6 391.8 536.2 386.6 543.9C381.4 551.5 387.8 554.8 367.0 557.0C346.2 559.2 290.5 558.1 262.1 557.0C233.7 555.9 213.5 556.0 196.6 550.5C179.7 545.0 169.3 536.8 160.6 524.2C151.9 511.6 147.5 494.2 144.2 475.1C140.9 456.0 140.9 434.2 140.9 409.6C140.9 385.0 142.6 349.6 144.2 327.7C145.8 305.8 148.5 300.4 150.7 278.5C152.9 256.6 155.7 226.6 157.3 196.6C159.0 166.6 159.5 119.6 160.6 98.3C161.7 77.0 161.6 74.8 163.8 68.8C166.0 62.8 168.2 57.9 173.7 62.3Z" fill="none" stroke="#f2f2ea" stroke-width="3.5" stroke-dasharray="11 4.6"/>
<g font-family="Liberation Sans, Arial, sans-serif" stroke="#000" stroke-width="12" stroke-linejoin="round" paint-order="stroke">
<text x="374.6" y="42.4" font-size="28.8" textLength="109" lengthAdjust="spacingAndGlyphs" fill="#22f022">NECAB1</text>
<text x="420.9" y="73.4" font-size="28.6" fill="#2f78dc">DAPI</text>
</g>
<rect x="432.5" y="647" width="49.10000000000002" height="5.2000000000000455" fill="#f4f4ee"/>
</svg>
<svg class="abs" style="left:634px;top:1559.2px" width="497.8" height="663.4" viewBox="0 0 497.8 663.4">
<defs>
<filter id="m1b7" filterUnits="userSpaceOnUse" x="-150" y="-150" width="797.8" height="963.4" color-interpolation-filters="sRGB"><feGaussianBlur stdDeviation="7"/></filter>
<filter id="m1b14" filterUnits="userSpaceOnUse" x="-150" y="-150" width="797.8" height="963.4" color-interpolation-filters="sRGB"><feGaussianBlur stdDeviation="14"/></filter>
<filter id="m1b30" filterUnits="userSpaceOnUse" x="-150" y="-150" width="797.8" height="963.4" color-interpolation-filters="sRGB"><feGaussianBlur stdDeviation="30"/></filter>
</defs>
<rect width="497.8" height="663.4" fill="#0a1a5c"/>
<g filter="url(#m1b30)"><path d="M-80.0 -80.0C-50.8 -158.3 65.5 -126.7 95.0 -80.0C124.5 -33.3 97.0 123.3 97.0 200.0C97.0 276.7 124.5 348.3 95.0 380.0C65.5 411.7 -50.8 466.7 -80.0 390.0C-109.2 313.3 -109.2 -1.7 -80.0 -80.0Z" fill="#0c7846" fill-opacity="1"/><path d="M-80.0 370.0C-46.7 308.3 86.7 308.3 120.0 370.0C153.3 431.7 153.3 678.3 120.0 740.0C86.7 801.7 -46.7 801.7 -80.0 740.0C-113.3 678.3 -113.3 431.7 -80.0 370.0Z" fill="#0b2272" fill-opacity="1"/><path d="M372.0 -80.0C405.3 -120.0 545.3 -135.0 580.0 -80.0C614.7 -25.0 612.5 196.7 580.0 250.0C547.5 303.3 418.3 255.0 385.0 240.0C351.7 225.0 382.2 213.3 380.0 160.0C377.8 106.7 338.7 -40.0 372.0 -80.0Z" fill="#0c2a84" fill-opacity="1"/><path d="M380.0 250.0C413.3 215.0 546.7 211.7 580.0 250.0C613.3 288.3 613.3 445.0 580.0 480.0C546.7 515.0 413.3 498.3 380.0 460.0C346.7 421.7 346.7 285.0 380.0 250.0Z" fill="#144a62" fill-opacity="1"/><path d="M140.0 530.0C201.3 493.3 424.7 485.0 498.0 520.0C571.3 555.0 641.3 703.3 580.0 740.0C518.7 776.7 203.3 775.0 130.0 740.0C56.7 705.0 78.7 566.7 140.0 530.0Z" fill="#0a6040" fill-opacity="1"/><path d="M120.0 350.0C146.7 315.0 258.3 308.3 300.0 330.0C341.7 351.7 360.0 445.0 370.0 480.0C380.0 515.0 398.3 530.0 360.0 540.0C321.7 550.0 180.0 571.7 140.0 540.0C100.0 508.3 93.3 385.0 120.0 350.0Z" fill="#0a2a58" fill-opacity="1"/></g>
<g filter="url(#m1b14)"><path d="M125.0 -80.0C160.3 -96.7 300.5 -100.0 340.0 -80.0C379.5 -60.0 356.3 3.3 362.0 40.0C367.7 76.7 372.3 113.3 374.0 140.0C375.7 166.7 379.3 187.5 372.0 200.0C364.7 212.5 347.0 214.2 330.0 215.0C313.0 215.8 291.7 217.5 270.0 205.0C248.3 192.5 220.0 164.2 200.0 140.0C180.0 115.8 162.0 80.0 150.0 60.0C138.0 40.0 132.2 43.3 128.0 20.0C123.8 -3.3 89.7 -63.3 125.0 -80.0Z" fill="#068a3a" fill-opacity="1"/><path d="M110.0 100.0C120.0 61.7 158.3 86.7 180.0 100.0C201.7 113.3 223.3 153.3 240.0 180.0C256.7 206.7 271.7 233.3 280.0 260.0C288.3 286.7 303.3 325.8 290.0 340.0C276.7 354.2 228.3 346.7 200.0 345.0C171.7 343.3 135.0 370.8 120.0 330.0C105.0 289.2 100.0 138.3 110.0 100.0Z" fill="#0b7044" fill-opacity="1"/><path d="M97.0 -80.0C102.8 -210.0 124.8 -210.0 130.0 -80.0C135.2 50.0 133.8 570.0 128.0 700.0C122.2 830.0 100.2 830.0 95.0 700.0C89.8 570.0 91.2 50.0 97.0 -80.0Z" fill="#071a55" fill-opacity="0.85"/><ellipse cx="121" cy="432" rx="14" ry="12" fill="#2b46c0" fill-opacity="0.8"/><ellipse cx="380" cy="610" rx="80" ry="45" fill="#0c7a4c" fill-opacity="0.6"/></g>
<rect x="-200" y="-200" width="897.8" height="1063.4" fill="url(#pSpk)" opacity="0.6" transform="translate(0 0)" filter="url(#soft1)"/>
<rect x="-200" y="-200" width="897.8" height="1063.4" fill="url(#pSpkG)" opacity="0.35" transform="translate(40 20)" filter="url(#soft1)"/>
<g filter="url(#m1b7)"><ellipse cx="344" cy="197" rx="30" ry="28" fill="#2f50f0" fill-opacity="1"/><ellipse cx="344" cy="197" rx="18" ry="17" fill="#3a60ff" fill-opacity="1"/></g>
<g fill="#45e070" fill-opacity="0.85"><circle cx="237" cy="504" r="1.7"/><circle cx="134" cy="323" r="1.4"/><circle cx="175" cy="547" r="1.7"/><circle cx="276" cy="476" r="1.7"/><circle cx="135" cy="443" r="1.2"/><circle cx="371" cy="336" r="1.8"/><circle cx="113" cy="512" r="1.3"/><circle cx="215" cy="556" r="1.0"/><circle cx="109" cy="576" r="1.5"/><circle cx="118" cy="596" r="1.9"/><circle cx="125" cy="438" r="1.1"/><circle cx="187" cy="494" r="1.2"/><circle cx="306" cy="334" r="1.2"/><circle cx="343" cy="432" r="1.4"/><circle cx="275" cy="453" r="1.4"/><circle cx="99" cy="523" r="2.0"/><circle cx="393" cy="506" r="1.4"/><circle cx="203" cy="513" r="1.7"/><circle cx="125" cy="386" r="1.4"/><circle cx="249" cy="547" r="1.5"/><circle cx="99" cy="550" r="1.4"/><circle cx="251" cy="382" r="1.4"/><circle cx="210" cy="536" r="1.1"/><circle cx="260" cy="370" r="1.7"/><circle cx="101" cy="397" r="1.3"/><circle cx="287" cy="335" r="1.5"/><circle cx="155" cy="399" r="1.5"/><circle cx="387" cy="455" r="2.0"/><circle cx="142" cy="579" r="1.4"/><circle cx="149" cy="530" r="1.9"/><circle cx="92" cy="395" r="1.8"/><circle cx="196" cy="388" r="1.0"/><circle cx="102" cy="493" r="2.0"/><circle cx="400" cy="461" r="1.0"/><circle cx="190" cy="540" r="1.8"/><circle cx="288" cy="384" r="1.5"/><circle cx="238" cy="496" r="1.3"/><circle cx="383" cy="570" r="1.2"/><circle cx="180" cy="564" r="1.3"/><circle cx="383" cy="464" r="1.7"/></g>
<g fill="#3fd06a" fill-opacity="0.45"><circle cx="129" cy="455" r="1.3"/><circle cx="423" cy="123" r="1.0"/><circle cx="73" cy="150" r="1.4"/><circle cx="65" cy="353" r="1.0"/><circle cx="147" cy="287" r="1.5"/><circle cx="303" cy="10" r="1.0"/><circle cx="73" cy="579" r="1.4"/><circle cx="401" cy="549" r="1.4"/><circle cx="473" cy="527" r="1.0"/><circle cx="423" cy="323" r="1.4"/><circle cx="281" cy="285" r="1.1"/><circle cx="214" cy="208" r="0.9"/><circle cx="408" cy="530" r="1.6"/><circle cx="344" cy="368" r="1.4"/><circle cx="67" cy="449" r="1.2"/><circle cx="88" cy="135" r="1.2"/><circle cx="126" cy="305" r="1.3"/><circle cx="197" cy="87" r="1.2"/><circle cx="117" cy="156" r="1.0"/><circle cx="182" cy="49" r="1.3"/><circle cx="475" cy="259" r="1.4"/><circle cx="465" cy="29" r="0.9"/><circle cx="401" cy="557" r="1.3"/><circle cx="80" cy="275" r="1.5"/><circle cx="441" cy="533" r="1.0"/><circle cx="425" cy="249" r="1.4"/><circle cx="68" cy="645" r="1.3"/><circle cx="360" cy="141" r="1.3"/><circle cx="289" cy="393" r="1.1"/><circle cx="362" cy="227" r="1.0"/><circle cx="82" cy="454" r="0.9"/><circle cx="112" cy="46" r="1.3"/><circle cx="277" cy="361" r="0.8"/><circle cx="219" cy="228" r="0.9"/><circle cx="1" cy="663" r="0.9"/><circle cx="150" cy="179" r="1.3"/><circle cx="39" cy="312" r="1.1"/><circle cx="416" cy="4" r="1.1"/><circle cx="247" cy="644" r="1.2"/><circle cx="236" cy="445" r="1.0"/><circle cx="16" cy="333" r="1.5"/><circle cx="368" cy="172" r="1.3"/><circle cx="423" cy="172" r="1.3"/><circle cx="177" cy="162" r="1.0"/><circle cx="102" cy="233" r="0.8"/><circle cx="198" cy="58" r="1.4"/><circle cx="299" cy="3" r="1.4"/><circle cx="95" cy="319" r="1.2"/><circle cx="166" cy="192" r="1.1"/><circle cx="68" cy="573" r="0.9"/></g>
<path d="M124.5 54.0C128.9 54.5 137.6 53.8 147.4 62.3C157.2 70.8 173.1 91.2 183.5 104.8C193.9 118.4 202.0 131.1 209.7 144.2C217.3 157.3 221.8 172.0 229.4 183.5C237.1 195.0 247.4 202.1 255.6 213.0C263.8 223.9 273.6 235.3 278.5 249.0C283.4 262.6 282.3 279.6 285.0 294.9C287.7 310.2 288.9 325.5 294.9 340.8C300.9 356.1 312.4 370.8 321.1 386.6C329.8 402.4 340.2 422.2 347.3 435.8C354.4 449.4 359.6 457.6 363.7 468.5C367.8 479.4 372.4 492.6 371.9 501.3C371.3 510.1 367.8 514.5 360.4 521.0C353.0 527.5 341.3 535.1 327.7 540.6C314.1 546.1 300.4 551.0 278.5 553.7C256.6 556.4 216.2 557.5 196.6 557.0C176.9 556.5 170.4 554.9 160.6 550.5C150.8 546.1 146.3 538.4 137.6 530.8C128.8 523.1 115.8 512.2 108.1 504.6C100.4 497.0 94.4 490.9 91.7 484.9C89.0 478.9 89.5 478.3 91.7 468.5C93.9 458.7 101.0 438.6 104.8 426.0C108.6 413.4 112.0 406.9 114.7 393.2C117.4 379.5 121.8 360.4 121.2 344.0C120.7 327.6 114.1 311.3 111.4 294.9C108.7 278.5 106.4 261.0 104.8 245.7C103.2 230.4 100.5 213.5 101.6 203.1C102.7 192.7 107.6 193.3 111.4 183.5C115.2 173.7 122.0 156.8 124.5 144.2C127.0 131.6 127.2 119.6 126.1 108.1C125.0 96.6 118.8 83.6 118.0 75.4C117.2 67.2 120.1 62.6 121.2 59.0C122.3 55.4 120.1 53.5 124.5 54.0Z" fill="none" stroke="#000" stroke-opacity="0.35" stroke-width="5" stroke-dasharray="11 4.6" stroke-dashoffset="-0" />
<path d="M124.5 54.0C128.9 54.5 137.6 53.8 147.4 62.3C157.2 70.8 173.1 91.2 183.5 104.8C193.9 118.4 202.0 131.1 209.7 144.2C217.3 157.3 221.8 172.0 229.4 183.5C237.1 195.0 247.4 202.1 255.6 213.0C263.8 223.9 273.6 235.3 278.5 249.0C283.4 262.6 282.3 279.6 285.0 294.9C287.7 310.2 288.9 325.5 294.9 340.8C300.9 356.1 312.4 370.8 321.1 386.6C329.8 402.4 340.2 422.2 347.3 435.8C354.4 449.4 359.6 457.6 363.7 468.5C367.8 479.4 372.4 492.6 371.9 501.3C371.3 510.1 367.8 514.5 360.4 521.0C353.0 527.5 341.3 535.1 327.7 540.6C314.1 546.1 300.4 551.0 278.5 553.7C256.6 556.4 216.2 557.5 196.6 557.0C176.9 556.5 170.4 554.9 160.6 550.5C150.8 546.1 146.3 538.4 137.6 530.8C128.8 523.1 115.8 512.2 108.1 504.6C100.4 497.0 94.4 490.9 91.7 484.9C89.0 478.9 89.5 478.3 91.7 468.5C93.9 458.7 101.0 438.6 104.8 426.0C108.6 413.4 112.0 406.9 114.7 393.2C117.4 379.5 121.8 360.4 121.2 344.0C120.7 327.6 114.1 311.3 111.4 294.9C108.7 278.5 106.4 261.0 104.8 245.7C103.2 230.4 100.5 213.5 101.6 203.1C102.7 192.7 107.6 193.3 111.4 183.5C115.2 173.7 122.0 156.8 124.5 144.2C127.0 131.6 127.2 119.6 126.1 108.1C125.0 96.6 118.8 83.6 118.0 75.4C117.2 67.2 120.1 62.6 121.2 59.0C122.3 55.4 120.1 53.5 124.5 54.0Z" fill="none" stroke="#f2f2ea" stroke-width="3.5" stroke-dasharray="11 4.6"/>
<g font-family="Liberation Sans, Arial, sans-serif" stroke="#000" stroke-width="12" stroke-linejoin="round" paint-order="stroke">
<text x="374.6" y="42.4" font-size="28.8" textLength="109" lengthAdjust="spacingAndGlyphs" fill="#22f022">NECAB1</text>
<text x="420.9" y="73.4" font-size="28.6" fill="#2f78dc">DAPI</text>
</g>
<rect x="432" y="647" width="49" height="5.2000000000000455" fill="#f4f4ee"/>
</svg>
<svg class="abs" style="left:1157.75px;top:1559.2px" width="497.8" height="663.4" viewBox="0 0 497.8 663.4">
<defs>
<filter id="m2b14" filterUnits="userSpaceOnUse" x="-150" y="-150" width="797.8" height="963.4" color-interpolation-filters="sRGB"><feGaussianBlur stdDeviation="14"/></filter>
<filter id="m2b30" filterUnits="userSpaceOnUse" x="-150" y="-150" width="797.8" height="963.4" color-interpolation-filters="sRGB"><feGaussianBlur stdDeviation="30"/></filter>
</defs>
<rect width="497.8" height="663.4" fill="#0a1f6a"/>
<g filter="url(#m2b30)"><path d="M-80.0 -80.0C-50.0 -155.0 70.0 -153.3 100.0 -80.0C130.0 -6.7 130.0 285.0 100.0 360.0C70.0 435.0 -50.0 443.3 -80.0 370.0C-110.0 296.7 -110.0 -5.0 -80.0 -80.0Z" fill="#0c5e52" fill-opacity="1"/><path d="M360.0 200.0C395.0 160.0 543.3 151.7 580.0 190.0C616.7 228.3 615.0 390.0 580.0 430.0C545.0 470.0 406.7 468.3 370.0 430.0C333.3 391.7 325.0 240.0 360.0 200.0Z" fill="#0c604e" fill-opacity="1"/><path d="M236.0 213.0C259.5 188.5 353.5 188.5 377.0 213.0C400.5 237.5 400.5 335.5 377.0 360.0C353.5 384.5 259.5 384.5 236.0 360.0C212.5 335.5 212.5 237.5 236.0 213.0Z" fill="#061442" fill-opacity="1"/><path d="M-80.0 380.0C-50.0 320.0 69.2 350.0 100.0 380.0C130.8 410.0 80.0 527.5 105.0 560.0C130.0 592.5 224.2 545.0 250.0 575.0C275.8 605.0 315.0 712.5 260.0 740.0C205.0 767.5 -23.3 800.0 -80.0 740.0C-136.7 680.0 -110.0 440.0 -80.0 380.0Z" fill="#0e2886" fill-opacity="1"/><path d="M105.0 350.0C137.5 325.0 256.7 335.0 300.0 350.0C343.3 365.0 354.2 408.3 365.0 440.0C375.8 471.7 375.8 519.2 365.0 540.0C354.2 560.8 334.2 561.7 300.0 565.0C265.8 568.3 192.5 570.8 160.0 560.0C127.5 549.2 114.2 535.0 105.0 500.0C95.8 465.0 72.5 375.0 105.0 350.0Z" fill="#0a1f52" fill-opacity="1"/><path d="M380.0 430.0C415.0 378.3 546.7 378.3 580.0 430.0C613.3 481.7 615.0 688.3 580.0 740.0C545.0 791.7 403.3 791.7 370.0 740.0C336.7 688.3 345.0 481.7 380.0 430.0Z" fill="#081a60" fill-opacity="1"/><path d="M200.0 560.0C230.0 530.0 350.0 530.0 380.0 560.0C410.0 590.0 410.0 710.0 380.0 740.0C350.0 770.0 230.0 770.0 200.0 740.0C170.0 710.0 170.0 590.0 200.0 560.0Z" fill="#08195e" fill-opacity="1"/></g>
<g filter="url(#m2b14)"><path d="M125.0 -80.0C169.5 -100.0 347.2 -103.3 393.0 -80.0C438.8 -56.7 400.0 23.3 400.0 60.0C400.0 96.7 409.7 125.0 393.0 140.0C376.3 155.0 332.2 150.0 300.0 150.0C267.8 150.0 225.0 148.3 200.0 140.0C175.0 131.7 162.3 116.7 150.0 100.0C137.7 83.3 130.2 70.0 126.0 40.0C121.8 10.0 80.5 -60.0 125.0 -80.0Z" fill="#068a3a" fill-opacity="1"/><path d="M190.0 140.0C206.7 128.3 290.7 138.3 330.0 140.0C369.3 141.7 409.3 137.5 426.0 150.0C442.7 162.5 451.0 204.2 430.0 215.0C409.0 225.8 333.3 215.8 300.0 215.0C266.7 214.2 248.3 222.5 230.0 210.0C211.7 197.5 173.3 151.7 190.0 140.0Z" fill="#0b7044" fill-opacity="1"/><path d="M130.0 130.0C150.0 110.0 205.0 151.7 230.0 180.0C255.0 208.3 263.3 266.7 280.0 300.0C296.7 333.3 333.3 360.0 330.0 380.0C326.7 400.0 293.3 416.7 260.0 420.0C226.7 423.3 155.0 420.0 130.0 400.0C105.0 380.0 110.0 345.0 110.0 300.0C110.0 255.0 110.0 150.0 130.0 130.0Z" fill="#0b6646" fill-opacity="0.9"/><path d="M100.0 -80.0C104.5 -156.7 120.8 -156.7 125.0 -80.0C129.2 -3.3 129.5 303.3 125.0 380.0C120.5 456.7 102.2 456.7 98.0 380.0C93.8 303.3 95.5 -3.3 100.0 -80.0Z" fill="#071a5a" fill-opacity="0.8"/><ellipse cx="60" cy="130" rx="22" ry="35" fill="#1a3aa8" fill-opacity="0.6"/></g>
<rect x="-200" y="-200" width="897.8" height="1063.4" fill="url(#pSpk)" opacity="0.6" transform="translate(0 0)" filter="url(#soft1)"/>
<rect x="-200" y="-200" width="897.8" height="1063.4" fill="url(#pSpkG)" opacity="0.35" transform="translate(40 20)" filter="url(#soft1)"/>
<g fill="#3fd06a" fill-opacity="0.45"><circle cx="53" cy="467" r="1.3"/><circle cx="468" cy="180" r="1.0"/><circle cx="366" cy="437" r="1.0"/><circle cx="341" cy="263" r="1.4"/><circle cx="59" cy="148" r="1.5"/><circle cx="178" cy="173" r="1.4"/><circle cx="315" cy="99" r="1.2"/><circle cx="331" cy="110" r="1.3"/><circle cx="61" cy="224" r="0.9"/><circle cx="102" cy="649" r="1.1"/><circle cx="493" cy="291" r="1.3"/><circle cx="435" cy="456" r="0.9"/><circle cx="293" cy="421" r="0.9"/><circle cx="47" cy="581" r="1.2"/><circle cx="97" cy="301" r="1.0"/><circle cx="398" cy="332" r="0.9"/><circle cx="407" cy="59" r="1.0"/><circle cx="14" cy="492" r="0.9"/><circle cx="262" cy="62" r="1.2"/><circle cx="341" cy="355" r="1.2"/><circle cx="241" cy="290" r="1.3"/><circle cx="47" cy="315" r="1.0"/><circle cx="431" cy="624" r="0.9"/><circle cx="71" cy="467" r="1.3"/><circle cx="10" cy="468" r="1.6"/><circle cx="211" cy="231" r="1.3"/><circle cx="468" cy="175" r="1.0"/><circle cx="94" cy="417" r="1.2"/><circle cx="128" cy="258" r="0.8"/><circle cx="156" cy="653" r="1.3"/><circle cx="141" cy="622" r="1.1"/><circle cx="125" cy="23" r="0.9"/><circle cx="99" cy="153" r="1.5"/><circle cx="132" cy="165" r="1.3"/><circle cx="457" cy="193" r="1.4"/><circle cx="184" cy="373" r="1.3"/><circle cx="469" cy="503" r="1.2"/><circle cx="419" cy="243" r="1.1"/><circle cx="478" cy="363" r="1.4"/><circle cx="157" cy="608" r="1.3"/></g>
<path d="M137.6 114.7C141.4 115.2 146.3 118.0 154.0 122.9C161.7 127.8 173.7 135.2 183.5 144.2C193.3 153.2 205.3 166.0 213.0 176.9C220.7 187.8 226.7 197.7 229.4 209.7C232.1 221.7 228.3 237.0 229.4 249.0C230.5 261.0 230.4 270.9 235.9 281.8C241.4 292.7 254.5 303.6 262.1 314.5C269.8 325.4 273.6 338.0 281.8 347.3C290.0 356.6 300.9 362.0 311.3 370.2C321.7 378.4 335.8 386.1 344.0 396.5C352.2 406.9 355.8 419.4 360.4 432.5C365.0 445.6 370.8 462.0 371.9 475.1C373.0 488.2 371.1 500.7 367.0 511.1C362.9 521.5 356.6 530.3 347.3 537.4C338.0 544.5 325.5 549.3 311.3 553.7C297.1 558.1 278.5 562.0 262.1 563.6C245.7 565.2 228.3 565.8 213.0 563.6C197.7 561.4 184.1 557.1 170.4 550.5C156.8 543.9 142.0 533.0 131.1 524.2C120.2 515.5 110.3 508.9 104.8 498.0C99.3 487.1 98.8 476.2 98.3 458.7C97.8 441.2 99.4 415.0 101.6 393.2C103.8 371.4 108.1 345.2 111.4 327.7C114.7 310.2 117.9 300.3 121.2 288.3C124.5 276.3 129.4 270.9 131.1 255.6C132.8 240.3 131.7 216.3 131.1 196.6C130.5 176.9 127.8 150.4 127.8 137.6C127.8 124.8 129.5 123.4 131.1 119.6C132.7 115.8 133.8 114.2 137.6 114.7Z" fill="none" stroke="#000" stroke-opacity="0.35" stroke-width="5" stroke-dasharray="11 4.6" stroke-dashoffset="-0" />
<path d="M137.6 114.7C141.4 115.2 146.3 118.0 154.0 122.9C161.7 127.8 173.7 135.2 183.5 144.2C193.3 153.2 205.3 166.0 213.0 176.9C220.7 187.8 226.7 197.7 229.4 209.7C232.1 221.7 228.3 237.0 229.4 249.0C230.5 261.0 230.4 270.9 235.9 281.8C241.4 292.7 254.5 303.6 262.1 314.5C269.8 325.4 273.6 338.0 281.8 347.3C290.0 356.6 300.9 362.0 311.3 370.2C321.7 378.4 335.8 386.1 344.0 396.5C352.2 406.9 355.8 419.4 360.4 432.5C365.0 445.6 370.8 462.0 371.9 475.1C373.0 488.2 371.1 500.7 367.0 511.1C362.9 521.5 356.6 530.3 347.3 537.4C338.0 544.5 325.5 549.3 311.3 553.7C297.1 558.1 278.5 562.0 262.1 563.6C245.7 565.2 228.3 565.8 213.0 563.6C197.7 561.4 184.1 557.1 170.4 550.5C156.8 543.9 142.0 533.0 131.1 524.2C120.2 515.5 110.3 508.9 104.8 498.0C99.3 487.1 98.8 476.2 98.3 458.7C97.8 441.2 99.4 415.0 101.6 393.2C103.8 371.4 108.1 345.2 111.4 327.7C114.7 310.2 117.9 300.3 121.2 288.3C124.5 276.3 129.4 270.9 131.1 255.6C132.8 240.3 131.7 216.3 131.1 196.6C130.5 176.9 127.8 150.4 127.8 137.6C127.8 124.8 129.5 123.4 131.1 119.6C132.7 115.8 133.8 114.2 137.6 114.7Z" fill="none" stroke="#f2f2ea" stroke-width="3.5" stroke-dasharray="11 4.6"/>
<g font-family="Liberation Sans, Arial, sans-serif" stroke="#000" stroke-width="12" stroke-linejoin="round" paint-order="stroke">
<text x="374.6" y="42.4" font-size="28.8" textLength="109" lengthAdjust="spacingAndGlyphs" fill="#22f022">NECAB1</text>
<text x="420.9" y="73.4" font-size="28.6" fill="#2f78dc">DAPI</text>
</g>
<rect x="432.5" y="647" width="49.10000000000002" height="5.2000000000000455" fill="#f4f4ee"/>
</svg>
<svg class="abs" style="left:1681.25px;top:1559.2px" width="497.8" height="663.4" viewBox="0 0 497.8 663.4">
<defs>
<filter id="m3b14" filterUnits="userSpaceOnUse" x="-150" y="-150" width="797.8" height="963.4" color-interpolation-filters="sRGB"><feGaussianBlur stdDeviation="14"/></filter>
<filter id="m3b30" filterUnits="userSpaceOnUse" x="-150" y="-150" width="797.8" height="963.4" color-interpolation-filters="sRGB"><feGaussianBlur stdDeviation="30"/></filter>
</defs>
<rect width="497.8" height="663.4" fill="#0b1c5e"/>
<g filter="url(#m3b30)"><path d="M-80.0 -80.0C-50.0 -165.0 69.5 -126.7 100.0 -80.0C130.5 -33.3 103.3 116.7 103.0 200.0C102.7 283.3 128.5 381.7 98.0 420.0C67.5 458.3 -50.3 513.3 -80.0 430.0C-109.7 346.7 -110.0 5.0 -80.0 -80.0Z" fill="#0c7646" fill-opacity="1"/><path d="M-80.0 360.0C-45.0 296.7 95.0 296.7 130.0 360.0C165.0 423.3 165.0 676.7 130.0 740.0C95.0 803.3 -45.0 803.3 -80.0 740.0C-115.0 676.7 -115.0 423.3 -80.0 360.0Z" fill="#0b2270" fill-opacity="1"/><path d="M345.0 -80.0C375.8 -110.0 540.8 -126.7 580.0 -80.0C619.2 -33.3 609.2 158.3 580.0 200.0C550.8 241.7 435.8 186.7 405.0 170.0C374.2 153.3 405.0 141.7 395.0 100.0C385.0 58.3 314.2 -50.0 345.0 -80.0Z" fill="#0c2682" fill-opacity="1"/><path d="M262.0 213.0C310.3 179.7 527.0 142.2 580.0 200.0C633.0 257.8 610.0 500.0 580.0 560.0C550.0 620.0 448.3 586.7 400.0 560.0C351.7 533.3 313.0 457.8 290.0 400.0C267.0 342.2 213.7 246.3 262.0 213.0Z" fill="#0c6050" fill-opacity="1"/><path d="M280.0 310.0C293.3 298.3 353.3 296.7 370.0 310.0C386.7 323.3 393.3 378.3 380.0 390.0C366.7 401.7 306.7 393.3 290.0 380.0C273.3 366.7 266.7 321.7 280.0 310.0Z" fill="#0a1f5a" fill-opacity="1"/><path d="M131.0 540.0C170.2 506.7 320.2 506.7 360.0 540.0C399.8 573.3 409.2 706.7 370.0 740.0C330.8 773.3 164.8 773.3 125.0 740.0C85.2 706.7 91.8 573.3 131.0 540.0Z" fill="#0a7a42" fill-opacity="1"/><path d="M370.0 560.0C405.0 530.0 545.0 530.0 580.0 560.0C615.0 590.0 615.0 710.0 580.0 740.0C545.0 770.0 405.0 770.0 370.0 740.0C335.0 710.0 335.0 590.0 370.0 560.0Z" fill="#0b2068" fill-opacity="1"/><path d="M120.0 350.0C146.7 316.7 255.0 343.3 300.0 360.0C345.0 376.7 375.0 416.7 390.0 450.0C405.0 483.3 431.7 541.7 390.0 560.0C348.3 578.3 185.0 595.0 140.0 560.0C95.0 525.0 93.3 383.3 120.0 350.0Z" fill="#0a2660" fill-opacity="1"/></g>
<g filter="url(#m3b14)"><path d="M131.0 -80.0C165.2 -98.3 303.2 -100.0 340.0 -80.0C376.8 -60.0 343.3 8.3 352.0 40.0C360.7 71.7 384.3 90.0 392.0 110.0C399.7 130.0 403.3 145.0 398.0 160.0C392.7 175.0 376.3 191.7 360.0 200.0C343.7 208.3 317.5 210.0 300.0 210.0C282.5 210.0 268.3 211.7 255.0 200.0C241.7 188.3 234.2 161.7 220.0 140.0C205.8 118.3 184.2 88.3 170.0 70.0C155.8 51.7 141.5 55.0 135.0 30.0C128.5 5.0 96.8 -61.7 131.0 -80.0Z" fill="#068a3a" fill-opacity="1"/><path d="M125.0 60.0C135.3 43.3 160.8 78.3 180.0 100.0C199.2 121.7 226.3 163.0 240.0 190.0C253.7 217.0 258.3 238.7 262.0 262.0C265.7 285.3 272.3 315.3 262.0 330.0C251.7 344.7 223.7 348.3 200.0 350.0C176.3 351.7 133.7 365.0 120.0 340.0C106.3 315.0 117.2 246.7 118.0 200.0C118.8 153.3 114.7 76.7 125.0 60.0Z" fill="#0b7244" fill-opacity="1"/><path d="M104.0 -80.0C108.7 -210.0 128.0 -210.0 132.0 -80.0C136.0 50.0 132.7 570.0 128.0 700.0C123.3 830.0 108.0 830.0 104.0 700.0C100.0 570.0 99.3 50.0 104.0 -80.0Z" fill="#061448" fill-opacity="0.85"/><path d="M225 175 Q260 190 285 215" fill="none" stroke="#061030" stroke-width="9" stroke-opacity="0.9" stroke-linecap="round" stroke-linejoin="round"/></g>
<rect x="-200" y="-200" width="897.8" height="1063.4" fill="url(#pSpk)" opacity="0.6" transform="translate(0 0)" filter="url(#soft1)"/>
<rect x="-200" y="-200" width="897.8" height="1063.4" fill="url(#pSpkG)" opacity="0.35" transform="translate(40 20)" filter="url(#soft1)"/>
<g fill="#45e070" fill-opacity="0.8"><circle cx="371" cy="343" r="1.4"/><circle cx="153" cy="557" r="0.9"/><circle cx="347" cy="490" r="1.5"/><circle cx="380" cy="393" r="1.1"/><circle cx="301" cy="402" r="1.1"/><circle cx="172" cy="529" r="1.5"/><circle cx="325" cy="389" r="1.5"/><circle cx="248" cy="391" r="1.2"/><circle cx="223" cy="357" r="1.3"/><circle cx="207" cy="465" r="1.6"/><circle cx="284" cy="429" r="1.5"/><circle cx="379" cy="448" r="1.6"/><circle cx="115" cy="371" r="1.0"/><circle cx="363" cy="492" r="1.4"/><circle cx="187" cy="449" r="1.5"/><circle cx="137" cy="366" r="0.9"/><circle cx="237" cy="525" r="1.3"/><circle cx="218" cy="450" r="1.0"/><circle cx="366" cy="418" r="1.1"/><circle cx="194" cy="521" r="1.1"/><circle cx="354" cy="414" r="1.2"/><circle cx="130" cy="540" r="1.5"/><circle cx="238" cy="365" r="1.2"/><circle cx="212" cy="525" r="1.5"/><circle cx="310" cy="403" r="0.9"/></g>
<g fill="#3fd06a" fill-opacity="0.45"><circle cx="180" cy="319" r="1.1"/><circle cx="222" cy="272" r="1.3"/><circle cx="129" cy="422" r="0.8"/><circle cx="150" cy="222" r="0.9"/><circle cx="370" cy="206" r="1.4"/><circle cx="476" cy="168" r="1.5"/><circle cx="402" cy="443" r="0.8"/><circle cx="227" cy="416" r="1.0"/><circle cx="112" cy="206" r="1.0"/><circle cx="392" cy="231" r="1.1"/><circle cx="320" cy="630" r="1.0"/><circle cx="22" cy="647" r="1.5"/><circle cx="394" cy="348" r="1.0"/><circle cx="77" cy="202" r="1.2"/><circle cx="33" cy="464" r="1.4"/><circle cx="7" cy="559" r="1.2"/><circle cx="458" cy="315" r="1.4"/><circle cx="226" cy="407" r="1.2"/><circle cx="11" cy="96" r="1.0"/><circle cx="202" cy="245" r="1.2"/><circle cx="328" cy="266" r="1.1"/><circle cx="255" cy="633" r="1.4"/><circle cx="326" cy="542" r="1.0"/><circle cx="50" cy="62" r="0.9"/><circle cx="5" cy="415" r="1.5"/><circle cx="57" cy="456" r="1.6"/><circle cx="381" cy="102" r="1.3"/><circle cx="127" cy="118" r="0.8"/><circle cx="262" cy="610" r="0.9"/><circle cx="73" cy="258" r="0.8"/><circle cx="231" cy="485" r="1.2"/><circle cx="19" cy="20" r="1.0"/><circle cx="332" cy="614" r="1.2"/><circle cx="51" cy="143" r="1.1"/><circle cx="54" cy="77" r="1.1"/><circle cx="419" cy="158" r="1.5"/><circle cx="436" cy="287" r="1.0"/><circle cx="92" cy="443" r="1.5"/><circle cx="429" cy="139" r="1.1"/><circle cx="11" cy="202" r="1.0"/><circle cx="62" cy="51" r="1.6"/><circle cx="152" cy="331" r="1.2"/><circle cx="235" cy="391" r="1.2"/><circle cx="244" cy="53" r="1.3"/><circle cx="333" cy="481" r="1.1"/><circle cx="230" cy="535" r="1.4"/><circle cx="26" cy="222" r="0.9"/><circle cx="354" cy="267" r="1.1"/><circle cx="111" cy="302" r="1.4"/><circle cx="314" cy="147" r="1.1"/></g>
<path d="M137.6 39.3C141.4 40.4 146.3 46.4 154.0 55.7C161.7 65.0 174.2 80.8 183.5 95.0C192.8 109.2 201.0 125.6 209.7 140.9C218.4 156.2 228.2 173.2 235.9 186.8C243.6 200.5 251.2 210.2 255.6 222.8C260.0 235.4 261.0 244.6 262.1 262.1C263.2 279.6 259.9 311.9 262.1 327.7C264.3 343.5 268.1 347.3 275.2 357.1C282.3 366.9 292.7 377.3 304.7 386.6C316.7 395.9 335.8 404.1 347.3 412.8C358.8 421.5 365.9 427.0 373.5 439.0C381.1 451.0 389.1 469.6 393.2 484.9C397.3 500.2 399.2 518.8 398.1 530.8C397.0 542.8 395.6 550.5 386.6 557.0C377.6 563.5 364.8 566.8 344.0 570.1C323.2 573.4 286.7 576.2 262.1 576.7C237.5 577.2 214.6 576.7 196.6 573.4C178.6 570.1 164.9 564.1 154.0 557.0C143.1 549.9 137.1 541.7 131.1 530.8C125.1 519.9 121.3 509.0 118.0 491.5C114.7 474.0 112.2 447.9 111.4 426.0C110.6 404.1 111.6 382.2 113.0 360.4C114.4 338.5 117.7 322.2 119.6 294.9C121.5 267.6 122.6 229.4 124.5 196.6C126.4 163.8 130.0 122.9 131.1 98.3C132.2 73.7 130.0 58.9 131.1 49.1C132.2 39.3 133.8 38.2 137.6 39.3Z" fill="none" stroke="#000" stroke-opacity="0.35" stroke-width="5" stroke-dasharray="11 4.6" stroke-dashoffset="-0" />
<path d="M137.6 39.3C141.4 40.4 146.3 46.4 154.0 55.7C161.7 65.0 174.2 80.8 183.5 95.0C192.8 109.2 201.0 125.6 209.7 140.9C218.4 156.2 228.2 173.2 235.9 186.8C243.6 200.5 251.2 210.2 255.6 222.8C260.0 235.4 261.0 244.6 262.1 262.1C263.2 279.6 259.9 311.9 262.1 327.7C264.3 343.5 268.1 347.3 275.2 357.1C282.3 366.9 292.7 377.3 304.7 386.6C316.7 395.9 335.8 404.1 347.3 412.8C358.8 421.5 365.9 427.0 373.5 439.0C381.1 451.0 389.1 469.6 393.2 484.9C397.3 500.2 399.2 518.8 398.1 530.8C397.0 542.8 395.6 550.5 386.6 557.0C377.6 563.5 364.8 566.8 344.0 570.1C323.2 573.4 286.7 576.2 262.1 576.7C237.5 577.2 214.6 576.7 196.6 573.4C178.6 570.1 164.9 564.1 154.0 557.0C143.1 549.9 137.1 541.7 131.1 530.8C125.1 519.9 121.3 509.0 118.0 491.5C114.7 474.0 112.2 447.9 111.4 426.0C110.6 404.1 111.6 382.2 113.0 360.4C114.4 338.5 117.7 322.2 119.6 294.9C121.5 267.6 122.6 229.4 124.5 196.6C126.4 163.8 130.0 122.9 131.1 98.3C132.2 73.7 130.0 58.9 131.1 49.1C132.2 39.3 133.8 38.2 137.6 39.3Z" fill="none" stroke="#f2f2ea" stroke-width="3.5" stroke-dasharray="11 4.6"/>
<g font-family="Liberation Sans, Arial, sans-serif" stroke="#000" stroke-width="12" stroke-linejoin="round" paint-order="stroke">
<text x="364.8" y="42.4" font-size="28.8" textLength="109" lengthAdjust="spacingAndGlyphs" fill="#22f022">NECAB1</text>
<text x="410.7" y="73.4" font-size="28.6" fill="#2f78dc">DAPI</text>
</g>
<rect x="431.5" y="647.5" width="50.10000000000002" height="4.2000000000000455" fill="#f4f4ee"/>
<text x="487" y="637" text-anchor="end" font-family="Liberation Sans, Arial, sans-serif" font-size="22" fill="#ecece4">100 μm</text>
</svg>
<svg class="abs" style="left:110.4px;top:2303px" width="497.8" height="664" viewBox="0 0 497.8 664">
<defs>
<filter id="m4b16" filterUnits="userSpaceOnUse" x="-150" y="-150" width="797.8" height="964" color-interpolation-filters="sRGB"><feGaussianBlur stdDeviation="16"/></filter>
<filter id="m4b28" filterUnits="userSpaceOnUse" x="-150" y="-150" width="797.8" height="964" color-interpolation-filters="sRGB"><feGaussianBlur stdDeviation="28"/></filter>
</defs>
<rect width="497.8" height="664" fill="#021410"/>
<g filter="url(#m4b28)"><path d="M-80.0 -80.0C-34.2 -145.0 148.3 -118.3 195.0 -80.0C241.7 -41.7 200.8 88.3 200.0 150.0C199.2 211.7 236.7 263.3 190.0 290.0C143.3 316.7 -35.0 371.7 -80.0 310.0C-125.0 248.3 -125.8 -15.0 -80.0 -80.0Z" fill="#0b5c22" fill-opacity="1"/><path d="M365.0 -80.0C402.5 -110.0 544.2 -160.0 580.0 -80.0C615.8 0.0 598.3 300.0 580.0 400.0C561.7 500.0 496.7 503.3 470.0 520.0C443.3 536.7 434.2 536.7 420.0 500.0C405.8 463.3 395.8 366.7 385.0 300.0C374.2 233.3 358.3 163.3 355.0 100.0C351.7 36.7 327.5 -50.0 365.0 -80.0Z" fill="#0c6a24" fill-opacity="1"/><path d="M265.0 -80.0C282.2 -118.3 350.0 -113.3 365.0 -80.0C380.0 -46.7 365.8 73.3 355.0 120.0C344.2 166.7 315.5 195.0 300.0 200.0C284.5 205.0 267.8 196.7 262.0 150.0C256.2 103.3 247.8 -41.7 265.0 -80.0Z" fill="#082e26" fill-opacity="1"/><path d="M330.0 330.0C350.0 290.0 436.7 291.7 460.0 330.0C483.3 368.3 490.0 520.0 470.0 560.0C450.0 600.0 363.3 608.3 340.0 570.0C316.7 531.7 310.0 370.0 330.0 330.0Z" fill="#0a3e2c" fill-opacity="1"/><path d="M320.0 160.0C338.3 135.0 414.2 151.7 440.0 180.0C465.8 208.3 470.8 280.0 475.0 330.0C479.2 380.0 480.8 456.7 465.0 480.0C449.2 503.3 402.5 495.0 380.0 470.0C357.5 445.0 340.0 381.7 330.0 330.0C320.0 278.3 301.7 185.0 320.0 160.0Z" fill="#10682a" fill-opacity="1"/><path d="M-80.0 330.0C-33.3 260.0 151.7 251.7 200.0 320.0C248.3 388.3 256.7 670.0 210.0 740.0C163.3 810.0 -31.7 808.3 -80.0 740.0C-128.3 671.7 -126.7 400.0 -80.0 330.0Z" fill="#020c14" fill-opacity="1"/><path d="M230.0 560.0C274.7 530.0 439.7 530.0 498.0 560.0C556.3 590.0 624.7 710.0 580.0 740.0C535.3 770.0 288.3 770.0 230.0 740.0C171.7 710.0 185.3 590.0 230.0 560.0Z" fill="#04142c" fill-opacity="1"/></g>
<g filter="url(#m4b16)"><ellipse cx="485" cy="150" rx="55" ry="90" fill="#3ccc40" fill-opacity="1"/><ellipse cx="30" cy="40" rx="100" ry="70" fill="#14a02c" fill-opacity="0.45"/><path d="M200.0 -80.0C208.3 -216.7 246.7 -216.7 255.0 -80.0C263.3 56.7 258.3 603.3 250.0 740.0C241.7 876.7 213.3 876.7 205.0 740.0C196.7 603.3 191.7 56.7 200.0 -80.0Z" fill="#020a10" fill-opacity="0.75"/></g>
<rect x="-200" y="-200" width="897.8" height="1064" fill="url(#pDapi1)" opacity="0.8" transform="translate(0 0)" filter="url(#soft1)"/>
<rect x="-200" y="-200" width="897.8" height="1064" fill="url(#pDapi2)" opacity="0.35" transform="translate(37 61)" filter="url(#soft1)"/>
<g><ellipse cx="77" cy="77" rx="6" ry="6.6000000000000005" fill="#38f048" fill-opacity="1"/><ellipse cx="115" cy="164" rx="5.5" ry="6.050000000000001" fill="#38f048" fill-opacity="1"/><ellipse cx="175" cy="218" rx="6" ry="6.6000000000000005" fill="#38f048" fill-opacity="1"/><ellipse cx="75" cy="307" rx="5" ry="5.5" fill="#38f048" fill-opacity="1"/><ellipse cx="12" cy="377" rx="5" ry="5.5" fill="#38f048" fill-opacity="1"/><ellipse cx="211" cy="606" rx="6" ry="6.6000000000000005" fill="#38f048" fill-opacity="1"/><ellipse cx="33" cy="593" rx="3.5" ry="3.8500000000000005" fill="#38f048" fill-opacity="1"/><ellipse cx="418" cy="340" rx="3.5" ry="3.8500000000000005" fill="#38f048" fill-opacity="1"/><ellipse cx="330" cy="25" rx="3" ry="3.3000000000000003" fill="#38f048" fill-opacity="1"/></g>
<path d="M272.0 23.0C278.0 22.4 285.6 21.8 294.9 26.2C304.2 30.6 316.8 38.7 327.7 49.1C338.6 59.5 350.6 73.8 360.4 88.5C370.2 103.2 378.4 121.8 386.6 137.6C394.8 153.4 402.5 168.2 409.6 183.5C416.7 198.8 423.2 213.6 429.2 229.4C435.2 245.2 440.7 262.1 445.6 278.5C450.5 294.9 454.9 311.3 458.7 327.7C462.5 344.1 466.0 360.4 468.5 376.8C471.0 393.2 472.9 411.2 473.5 426.0C474.1 440.8 474.3 453.8 471.8 465.3C469.3 476.8 465.2 485.5 458.7 494.8C452.1 504.1 441.2 511.7 432.5 521.0C423.8 530.3 415.0 540.7 406.3 550.5C397.6 560.3 390.5 571.3 380.1 580.0C369.7 588.7 355.5 597.7 344.0 602.9C332.5 608.1 322.2 610.5 311.3 611.1C300.4 611.7 288.9 610.9 278.5 606.2C268.1 601.6 256.6 591.4 249.0 583.2C241.3 575.0 236.4 569.5 232.6 557.0C228.8 544.5 228.3 527.0 226.1 507.9C223.9 488.8 221.1 464.1 219.5 442.3C217.9 420.5 216.3 395.9 216.3 376.8C216.3 357.7 217.3 344.1 219.5 327.7C221.7 311.3 226.1 294.9 229.4 278.5C232.7 262.1 237.3 248.5 239.2 229.4C241.1 210.3 240.2 185.7 240.8 163.8C241.4 142.0 241.7 117.4 242.5 98.3C243.3 79.2 243.0 60.6 245.7 49.1C248.4 37.6 254.4 33.9 258.8 29.5C263.2 25.1 266.0 23.6 272.0 23.0Z" fill="none" stroke="#000" stroke-opacity="0.35" stroke-width="5" stroke-dasharray="11 4.6" stroke-dashoffset="-0" />
<path d="M272.0 23.0C278.0 22.4 285.6 21.8 294.9 26.2C304.2 30.6 316.8 38.7 327.7 49.1C338.6 59.5 350.6 73.8 360.4 88.5C370.2 103.2 378.4 121.8 386.6 137.6C394.8 153.4 402.5 168.2 409.6 183.5C416.7 198.8 423.2 213.6 429.2 229.4C435.2 245.2 440.7 262.1 445.6 278.5C450.5 294.9 454.9 311.3 458.7 327.7C462.5 344.1 466.0 360.4 468.5 376.8C471.0 393.2 472.9 411.2 473.5 426.0C474.1 440.8 474.3 453.8 471.8 465.3C469.3 476.8 465.2 485.5 458.7 494.8C452.1 504.1 441.2 511.7 432.5 521.0C423.8 530.3 415.0 540.7 406.3 550.5C397.6 560.3 390.5 571.3 380.1 580.0C369.7 588.7 355.5 597.7 344.0 602.9C332.5 608.1 322.2 610.5 311.3 611.1C300.4 611.7 288.9 610.9 278.5 606.2C268.1 601.6 256.6 591.4 249.0 583.2C241.3 575.0 236.4 569.5 232.6 557.0C228.8 544.5 228.3 527.0 226.1 507.9C223.9 488.8 221.1 464.1 219.5 442.3C217.9 420.5 216.3 395.9 216.3 376.8C216.3 357.7 217.3 344.1 219.5 327.7C221.7 311.3 226.1 294.9 229.4 278.5C232.7 262.1 237.3 248.5 239.2 229.4C241.1 210.3 240.2 185.7 240.8 163.8C241.4 142.0 241.7 117.4 242.5 98.3C243.3 79.2 243.0 60.6 245.7 49.1C248.4 37.6 254.4 33.9 258.8 29.5C263.2 25.1 266.0 23.6 272.0 23.0Z" fill="none" stroke="#f2f2ea" stroke-width="3.5" stroke-dasharray="11 4.6"/>
<g font-family="Liberation Sans, Arial, sans-serif" stroke="#000" stroke-width="12" stroke-linejoin="round" paint-order="stroke">
<text x="374.6" y="42.4" font-size="28.8" textLength="109" lengthAdjust="spacingAndGlyphs" fill="#22f022">NECAB1</text>
<text x="420.9" y="73.4" font-size="28.6" fill="#2f78dc">DAPI</text>
</g>
<rect x="429.8" y="645.8" width="36.9" height="7.4" fill="#111"/>
<rect x="431" y="647" width="34.5" height="5" fill="#f4f4ee"/>
</svg>
<svg class="abs" style="left:634px;top:2303px" width="497.8" height="664" viewBox="0 0 497.8 664">
<defs>
<filter id="m5b16" filterUnits="userSpaceOnUse" x="-150" y="-150" width="797.8" height="964" color-interpolation-filters="sRGB"><feGaussianBlur stdDeviation="16"/></filter>
<filter id="m5b28" filterUnits="userSpaceOnUse" x="-150" y="-150" width="797.8" height="964" color-interpolation-filters="sRGB"><feGaussianBlur stdDeviation="28"/></filter>
</defs>
<rect width="497.8" height="664" fill="#02100e"/>
<g filter="url(#m5b28)"><path d="M-80.0 -80.0C-28.3 -105.0 183.3 -101.7 230.0 -80.0C276.7 -58.3 226.7 25.0 200.0 50.0C173.3 75.0 116.7 66.7 70.0 70.0C23.3 73.3 -55.0 95.0 -80.0 70.0C-105.0 45.0 -131.7 -55.0 -80.0 -80.0Z" fill="#0c5a22" fill-opacity="1"/><path d="M-80.0 50.0C-56.7 -65.0 36.7 -65.0 60.0 50.0C83.3 165.0 83.3 625.0 60.0 740.0C36.7 855.0 -56.7 855.0 -80.0 740.0C-103.3 625.0 -103.3 165.0 -80.0 50.0Z" fill="#08361a" fill-opacity="1"/><path d="M320.0 -80.0C365.0 -140.0 536.7 -183.3 580.0 -80.0C623.3 23.3 598.3 433.3 580.0 540.0C561.7 646.7 503.3 570.0 470.0 560.0C436.7 550.0 406.7 526.7 380.0 480.0C353.3 433.3 320.0 373.3 310.0 280.0C300.0 186.7 275.0 -20.0 320.0 -80.0Z" fill="#107a2a" fill-opacity="1"/><path d="M250.0 230.0C273.3 203.3 348.3 215.0 380.0 260.0C411.7 305.0 440.0 445.0 440.0 500.0C440.0 555.0 406.7 580.0 380.0 590.0C353.3 600.0 303.3 588.3 280.0 560.0C256.7 531.7 245.0 475.0 240.0 420.0C235.0 365.0 226.7 256.7 250.0 230.0Z" fill="#0e6a28" fill-opacity="1"/><path d="M440.0 530.0C463.3 495.0 556.7 495.0 580.0 530.0C603.3 565.0 603.3 705.0 580.0 740.0C556.7 775.0 463.3 775.0 440.0 740.0C416.7 705.0 416.7 565.0 440.0 530.0Z" fill="#030a26" fill-opacity="1"/><path d="M215.0 590.0C230.8 566.7 285.8 575.0 300.0 600.0C314.2 625.0 315.8 716.7 300.0 740.0C284.2 763.3 219.2 765.0 205.0 740.0C190.8 715.0 199.2 613.3 215.0 590.0Z" fill="#0b4a22" fill-opacity="1"/></g>
<g filter="url(#m5b16)"><ellipse cx="480" cy="100" rx="55" ry="120" fill="#3cc43c" fill-opacity="1"/><path d="M70.0 80.0C95.8 -26.7 199.2 -43.3 225.0 60.0C250.8 163.3 250.8 593.3 225.0 700.0C199.2 806.7 95.8 803.3 70.0 700.0C44.2 596.7 44.2 186.7 70.0 80.0Z" fill="#01080a" fill-opacity="0.6"/><path d="M235.0 60.0C249.2 -6.7 304.2 20.0 320.0 60.0C335.8 100.0 333.3 233.3 330.0 300.0C326.7 366.7 315.8 433.3 300.0 460.0C284.2 486.7 245.8 526.7 235.0 460.0C224.2 393.3 220.8 126.7 235.0 60.0Z" fill="#020c12" fill-opacity="0.55"/></g>
<rect x="-200" y="-200" width="897.8" height="1064" fill="url(#pDapi1)" opacity="0.8" transform="translate(0 0)" filter="url(#soft1)"/>
<rect x="-200" y="-200" width="897.8" height="1064" fill="url(#pDapi2)" opacity="0.35" transform="translate(37 61)" filter="url(#soft1)"/>
<g><ellipse cx="32" cy="108" rx="6" ry="6.6000000000000005" fill="#38f048" fill-opacity="1"/><ellipse cx="88" cy="112" rx="6.5" ry="7.15" fill="#38f048" fill-opacity="1"/><ellipse cx="78" cy="130" rx="6.5" ry="7.15" fill="#38f048" fill-opacity="1"/><ellipse cx="30" cy="195" rx="6.5" ry="7.15" fill="#38f048" fill-opacity="1"/><ellipse cx="42" cy="260" rx="5" ry="5.5" fill="#38f048" fill-opacity="1"/><ellipse cx="62" cy="283" rx="5" ry="5.5" fill="#38f048" fill-opacity="1"/><ellipse cx="52" cy="499" rx="6" ry="6.6000000000000005" fill="#38f048" fill-opacity="1"/><ellipse cx="48" cy="603" rx="5" ry="5.5" fill="#38f048" fill-opacity="1"/><ellipse cx="255" cy="620" rx="6.5" ry="7.15" fill="#38f048" fill-opacity="1"/><ellipse cx="193" cy="18" rx="6" ry="6.6000000000000005" fill="#38f048" fill-opacity="1"/><ellipse cx="430" cy="502" rx="5.5" ry="6.050000000000001" fill="#38f048" fill-opacity="1"/><ellipse cx="175" cy="122" rx="5" ry="5.5" fill="#38f048" fill-opacity="1"/></g>
<g fill="#3ac84a" fill-opacity="0.45"><circle cx="296" cy="439" r="2.5"/><circle cx="365" cy="192" r="2.7"/><circle cx="438" cy="346" r="2.3"/><circle cx="312" cy="82" r="2.1"/><circle cx="389" cy="116" r="2.7"/><circle cx="311" cy="201" r="1.6"/><circle cx="479" cy="464" r="2.8"/><circle cx="395" cy="98" r="2.0"/><circle cx="369" cy="140" r="2.9"/><circle cx="341" cy="161" r="2.7"/><circle cx="287" cy="563" r="2.2"/><circle cx="381" cy="258" r="2.2"/><circle cx="301" cy="99" r="2.8"/><circle cx="312" cy="486" r="1.8"/><circle cx="473" cy="545" r="2.6"/><circle cx="428" cy="382" r="2.6"/><circle cx="287" cy="328" r="2.7"/><circle cx="304" cy="560" r="2.8"/><circle cx="350" cy="270" r="2.2"/><circle cx="345" cy="597" r="2.1"/><circle cx="266" cy="128" r="2.6"/><circle cx="478" cy="338" r="2.2"/><circle cx="381" cy="469" r="1.8"/><circle cx="394" cy="369" r="2.4"/><circle cx="300" cy="168" r="2.0"/><circle cx="464" cy="260" r="2.4"/><circle cx="327" cy="134" r="1.6"/><circle cx="439" cy="484" r="2.1"/><circle cx="410" cy="431" r="2.8"/><circle cx="471" cy="292" r="3.0"/><circle cx="472" cy="387" r="2.8"/><circle cx="368" cy="275" r="1.9"/><circle cx="453" cy="164" r="1.6"/><circle cx="437" cy="482" r="2.2"/><circle cx="444" cy="107" r="1.9"/><circle cx="324" cy="298" r="1.8"/><circle cx="275" cy="256" r="2.8"/><circle cx="476" cy="468" r="2.2"/><circle cx="315" cy="579" r="2.3"/><circle cx="420" cy="95" r="1.8"/><circle cx="444" cy="494" r="2.8"/><circle cx="392" cy="302" r="2.4"/><circle cx="447" cy="240" r="2.3"/><circle cx="321" cy="479" r="1.5"/><circle cx="411" cy="576" r="1.5"/><circle cx="391" cy="415" r="2.8"/><circle cx="389" cy="214" r="2.1"/><circle cx="471" cy="551" r="1.7"/><circle cx="281" cy="129" r="1.5"/><circle cx="358" cy="153" r="2.8"/><circle cx="404" cy="146" r="2.3"/><circle cx="331" cy="337" r="1.8"/><circle cx="297" cy="176" r="2.1"/><circle cx="416" cy="366" r="1.6"/><circle cx="416" cy="534" r="2.7"/><circle cx="434" cy="84" r="2.2"/><circle cx="274" cy="477" r="1.8"/><circle cx="417" cy="212" r="2.5"/><circle cx="329" cy="102" r="2.1"/><circle cx="328" cy="548" r="1.9"/><circle cx="371" cy="366" r="2.9"/><circle cx="282" cy="393" r="2.3"/><circle cx="422" cy="583" r="2.0"/><circle cx="414" cy="353" r="2.3"/><circle cx="274" cy="504" r="3.0"/><circle cx="338" cy="245" r="3.0"/><circle cx="284" cy="120" r="1.6"/><circle cx="439" cy="475" r="2.2"/><circle cx="397" cy="90" r="2.5"/><circle cx="357" cy="349" r="2.1"/><circle cx="348" cy="197" r="1.6"/><circle cx="355" cy="208" r="2.6"/><circle cx="440" cy="456" r="2.2"/><circle cx="312" cy="280" r="2.2"/><circle cx="399" cy="581" r="1.6"/><circle cx="366" cy="336" r="2.6"/><circle cx="456" cy="485" r="2.4"/><circle cx="427" cy="427" r="2.8"/><circle cx="414" cy="435" r="1.9"/><circle cx="462" cy="281" r="2.4"/><circle cx="441" cy="581" r="3.0"/><circle cx="261" cy="243" r="2.0"/><circle cx="346" cy="156" r="2.3"/><circle cx="277" cy="237" r="2.9"/><circle cx="423" cy="320" r="1.7"/><circle cx="470" cy="446" r="1.8"/><circle cx="334" cy="414" r="2.5"/><circle cx="317" cy="575" r="2.0"/><circle cx="316" cy="520" r="1.7"/><circle cx="410" cy="184" r="2.4"/></g>
<path d="M294.9 14.7C302.5 14.7 316.8 16.1 327.7 19.7C338.6 23.2 349.5 29.4 360.4 36.0C371.3 42.5 383.4 50.8 393.2 59.0C403.0 67.2 412.8 74.3 419.4 85.2C425.9 96.1 428.1 108.7 432.5 124.5C436.9 140.3 440.7 157.3 445.6 180.2C450.5 203.1 456.5 237.5 462.0 262.1C467.5 286.7 474.6 305.9 478.4 327.7C482.2 349.5 484.4 371.4 484.9 393.2C485.4 415.0 484.9 440.7 481.6 458.7C478.3 476.7 471.9 487.6 465.3 501.3C458.8 515.0 451.1 528.0 442.3 540.6C433.6 553.2 423.7 566.3 412.8 576.7C401.9 587.1 387.2 597.5 376.8 602.9C366.4 608.3 359.9 609.9 350.6 609.4C341.3 608.9 331.5 605.0 321.1 599.6C310.7 594.2 297.0 584.9 288.3 576.7C279.6 568.5 275.2 562.0 268.7 550.5C262.1 539.0 254.5 523.2 249.0 507.9C243.5 492.6 238.9 477.8 235.9 458.7C232.9 439.6 231.6 415.0 231.0 393.2C230.4 371.4 230.7 349.5 232.6 327.7C234.5 305.9 238.7 284.0 242.5 262.1C246.3 240.3 251.8 216.8 255.6 196.6C259.4 176.4 262.7 160.0 265.4 140.9C268.1 121.8 270.6 99.9 272.0 81.9C273.4 63.9 272.0 43.2 273.6 32.8C275.2 22.4 278.2 22.7 281.8 19.7C285.4 16.7 287.2 14.7 294.9 14.7Z" fill="none" stroke="#000" stroke-opacity="0.35" stroke-width="5" stroke-dasharray="11 4.6" stroke-dashoffset="-0" />
<path d="M294.9 14.7C302.5 14.7 316.8 16.1 327.7 19.7C338.6 23.2 349.5 29.4 360.4 36.0C371.3 42.5 383.4 50.8 393.2 59.0C403.0 67.2 412.8 74.3 419.4 85.2C425.9 96.1 428.1 108.7 432.5 124.5C436.9 140.3 440.7 157.3 445.6 180.2C450.5 203.1 456.5 237.5 462.0 262.1C467.5 286.7 474.6 305.9 478.4 327.7C482.2 349.5 484.4 371.4 484.9 393.2C485.4 415.0 484.9 440.7 481.6 458.7C478.3 476.7 471.9 487.6 465.3 501.3C458.8 515.0 451.1 528.0 442.3 540.6C433.6 553.2 423.7 566.3 412.8 576.7C401.9 587.1 387.2 597.5 376.8 602.9C366.4 608.3 359.9 609.9 350.6 609.4C341.3 608.9 331.5 605.0 321.1 599.6C310.7 594.2 297.0 584.9 288.3 576.7C279.6 568.5 275.2 562.0 268.7 550.5C262.1 539.0 254.5 523.2 249.0 507.9C243.5 492.6 238.9 477.8 235.9 458.7C232.9 439.6 231.6 415.0 231.0 393.2C230.4 371.4 230.7 349.5 232.6 327.7C234.5 305.9 238.7 284.0 242.5 262.1C246.3 240.3 251.8 216.8 255.6 196.6C259.4 176.4 262.7 160.0 265.4 140.9C268.1 121.8 270.6 99.9 272.0 81.9C273.4 63.9 272.0 43.2 273.6 32.8C275.2 22.4 278.2 22.7 281.8 19.7C285.4 16.7 287.2 14.7 294.9 14.7Z" fill="none" stroke="#f2f2ea" stroke-width="3.5" stroke-dasharray="11 4.6"/>
<g font-family="Liberation Sans, Arial, sans-serif" stroke="#000" stroke-width="12" stroke-linejoin="round" paint-order="stroke">
<text x="374.6" y="42.4" font-size="28.8" textLength="109" lengthAdjust="spacingAndGlyphs" fill="#22f022">NECAB1</text>
<text x="420.9" y="73.4" font-size="28.6" fill="#2f78dc">DAPI</text>
</g>
</svg>
<svg class="abs" style="left:1157.75px;top:2303px" width="497.8" height="664" viewBox="0 0 497.8 664">
<defs>
<filter id="m6b3" filterUnits="userSpaceOnUse" x="-150" y="-150" width="797.8" height="964" color-interpolation-filters="sRGB"><feGaussianBlur stdDeviation="3"/></filter>
<filter id="m6b14" filterUnits="userSpaceOnUse" x="-150" y="-150" width="797.8" height="964" color-interpolation-filters="sRGB"><feGaussianBlur stdDeviation="14"/></filter>
<filter id="m6b28" filterUnits="userSpaceOnUse" x="-150" y="-150" width="797.8" height="964" color-interpolation-filters="sRGB"><feGaussianBlur stdDeviation="28"/></filter>
</defs>
<rect width="497.8" height="664" fill="#021410"/>
<g filter="url(#m6b28)"><path d="M-80.0 -80.0C-31.2 -150.0 163.0 -118.3 213.0 -80.0C263.0 -41.7 222.2 83.3 220.0 150.0C217.8 216.7 250.0 288.3 200.0 320.0C150.0 351.7 -33.3 406.7 -80.0 340.0C-126.7 273.3 -128.8 -10.0 -80.0 -80.0Z" fill="#0e6a28" fill-opacity="1"/><path d="M213.0 -80.0C242.5 -120.0 360.5 -113.3 390.0 -80.0C419.5 -46.7 410.0 78.3 390.0 120.0C370.0 161.7 299.5 163.3 270.0 170.0C240.5 176.7 222.5 201.7 213.0 160.0C203.5 118.3 183.5 -40.0 213.0 -80.0Z" fill="#0a4e22" fill-opacity="1"/><path d="M380.0 -80.0C413.3 -103.3 546.7 -103.3 580.0 -80.0C613.3 -56.7 613.3 36.7 580.0 60.0C546.7 83.3 413.3 83.3 380.0 60.0C346.7 36.7 346.7 -56.7 380.0 -80.0Z" fill="#108028" fill-opacity="1"/><path d="M225.0 430.0C257.5 388.3 385.8 365.0 420.0 400.0C454.2 435.0 462.5 598.3 430.0 640.0C397.5 681.7 259.2 685.0 225.0 650.0C190.8 615.0 192.5 471.7 225.0 430.0Z" fill="#0d6a2c" fill-opacity="1"/><path d="M420.0 400.0C446.7 343.3 553.3 343.3 580.0 400.0C606.7 456.7 606.7 683.3 580.0 740.0C553.3 796.7 446.7 796.7 420.0 740.0C393.3 683.3 393.3 456.7 420.0 400.0Z" fill="#052a24" fill-opacity="1"/><path d="M-80.0 350.0C-33.3 285.0 153.3 285.0 200.0 350.0C246.7 415.0 246.7 675.0 200.0 740.0C153.3 805.0 -33.3 805.0 -80.0 740.0C-126.7 675.0 -126.7 415.0 -80.0 350.0Z" fill="#062a22" fill-opacity="1"/></g>
<g filter="url(#m6b14)"><path d="M412.0 60.0C437.8 1.7 552.0 -6.7 580.0 50.0C608.0 106.7 605.8 341.7 580.0 400.0C554.2 458.3 453.0 456.7 425.0 400.0C397.0 343.3 386.2 118.3 412.0 60.0Z" fill="#34b83c" fill-opacity="1"/><path d="M213.0 190.0C234.8 152.3 322.2 160.7 344.0 200.0C365.8 239.3 365.8 388.3 344.0 426.0C322.2 463.7 234.8 465.3 213.0 426.0C191.2 386.7 191.2 227.7 213.0 190.0Z" fill="#020a14" fill-opacity="0.8"/><ellipse cx="28" cy="330" rx="30" ry="22" fill="#2054a8" fill-opacity="0.85"/><ellipse cx="40" cy="30" rx="70" ry="50" fill="#1cae34" fill-opacity="0.55"/></g>
<rect x="-200" y="-200" width="897.8" height="1064" fill="url(#pDapi1)" opacity="0.8" transform="translate(0 0)" filter="url(#soft1)"/>
<rect x="-200" y="-200" width="897.8" height="1064" fill="url(#pDapi2)" opacity="0.35" transform="translate(37 61)" filter="url(#soft1)"/>
<g><ellipse cx="140" cy="90" rx="6" ry="6.6000000000000005" fill="#38f048" fill-opacity="1"/><ellipse cx="105" cy="145" rx="6.5" ry="7.15" fill="#38f048" fill-opacity="1"/><ellipse cx="122" cy="140" rx="6" ry="6.6000000000000005" fill="#38f048" fill-opacity="1"/><ellipse cx="143" cy="190" rx="5" ry="5.5" fill="#38f048" fill-opacity="1"/><ellipse cx="105" cy="245" rx="5.5" ry="6.050000000000001" fill="#38f048" fill-opacity="1"/><ellipse cx="485" cy="498" rx="5" ry="5.5" fill="#38f048" fill-opacity="1"/></g>
<g filter="url(#m6b3)"><ellipse cx="301" cy="392" rx="14" ry="18" fill="#2040d0" fill-opacity="1"/><ellipse cx="296" cy="382" rx="6" ry="6" fill="#000" fill-opacity="0.8"/></g>
<path d="M311.3 3.3C317.9 3.6 335.3 3.3 344.0 6.6C352.7 9.9 358.2 15.8 363.7 22.9C369.2 30.0 372.7 36.5 376.8 49.1C380.9 61.7 384.5 76.5 388.3 98.3C392.1 120.1 395.6 152.9 399.7 180.2C403.8 207.5 408.4 234.8 412.8 262.1C417.2 289.4 423.0 316.7 426.0 344.0C429.0 371.3 430.4 398.7 430.9 426.0C431.4 453.3 430.6 486.1 429.2 507.9C427.8 529.7 427.1 542.8 422.7 557.0C418.3 571.2 412.3 582.2 403.0 593.1C393.7 604.0 381.2 614.9 367.0 622.5C352.8 630.1 335.3 635.4 317.8 638.9C300.3 642.4 276.8 644.3 262.1 643.8C247.4 643.2 238.1 640.8 229.4 635.6C220.7 630.4 214.3 625.8 209.7 612.7C205.0 599.6 202.6 577.2 201.5 557.0C200.4 536.8 201.7 513.3 203.1 491.5C204.5 469.7 207.0 447.9 209.7 426.0C212.4 404.1 215.9 382.2 219.5 360.4C223.1 338.5 227.2 315.6 231.0 294.9C234.8 274.1 237.9 252.3 242.5 235.9C247.1 219.5 254.2 214.1 258.8 196.6C263.4 179.1 267.6 152.9 270.3 131.1C273.0 109.2 272.2 84.1 275.2 65.5C278.2 46.9 283.4 29.8 288.3 19.7C293.2 9.6 300.9 7.6 304.7 4.9C308.5 2.2 304.8 3.0 311.3 3.3Z" fill="none" stroke="#000" stroke-opacity="0.35" stroke-width="5" stroke-dasharray="11 4.6" stroke-dashoffset="-0" />
<path d="M311.3 3.3C317.9 3.6 335.3 3.3 344.0 6.6C352.7 9.9 358.2 15.8 363.7 22.9C369.2 30.0 372.7 36.5 376.8 49.1C380.9 61.7 384.5 76.5 388.3 98.3C392.1 120.1 395.6 152.9 399.7 180.2C403.8 207.5 408.4 234.8 412.8 262.1C417.2 289.4 423.0 316.7 426.0 344.0C429.0 371.3 430.4 398.7 430.9 426.0C431.4 453.3 430.6 486.1 429.2 507.9C427.8 529.7 427.1 542.8 422.7 557.0C418.3 571.2 412.3 582.2 403.0 593.1C393.7 604.0 381.2 614.9 367.0 622.5C352.8 630.1 335.3 635.4 317.8 638.9C300.3 642.4 276.8 644.3 262.1 643.8C247.4 643.2 238.1 640.8 229.4 635.6C220.7 630.4 214.3 625.8 209.7 612.7C205.0 599.6 202.6 577.2 201.5 557.0C200.4 536.8 201.7 513.3 203.1 491.5C204.5 469.7 207.0 447.9 209.7 426.0C212.4 404.1 215.9 382.2 219.5 360.4C223.1 338.5 227.2 315.6 231.0 294.9C234.8 274.1 237.9 252.3 242.5 235.9C247.1 219.5 254.2 214.1 258.8 196.6C263.4 179.1 267.6 152.9 270.3 131.1C273.0 109.2 272.2 84.1 275.2 65.5C278.2 46.9 283.4 29.8 288.3 19.7C293.2 9.6 300.9 7.6 304.7 4.9C308.5 2.2 304.8 3.0 311.3 3.3Z" fill="none" stroke="#f2f2ea" stroke-width="3.5" stroke-dasharray="11 4.6"/>
<g font-family="Liberation Sans, Arial, sans-serif" stroke="#000" stroke-width="12" stroke-linejoin="round" paint-order="stroke">
<text x="374.6" y="42.4" font-size="28.8" textLength="109" lengthAdjust="spacingAndGlyphs" fill="#22f022">NECAB1</text>
<text x="420.9" y="73.4" font-size="28.6" fill="#2f78dc">DAPI</text>
</g>
<rect x="429.8" y="645.8" width="36.9" height="7.4" fill="#111"/>
<rect x="431" y="647" width="34.5" height="5" fill="#f4f4ee"/>
</svg>
<svg class="abs" style="left:1681.25px;top:2303px" width="497.8" height="664" viewBox="0 0 497.8 664">
<defs>
<filter id="m7b2" filterUnits="userSpaceOnUse" x="-150" y="-150" width="797.8" height="964" color-interpolation-filters="sRGB"><feGaussianBlur stdDeviation="2"/></filter>
<filter id="m7b14" filterUnits="userSpaceOnUse" x="-150" y="-150" width="797.8" height="964" color-interpolation-filters="sRGB"><feGaussianBlur stdDeviation="14"/></filter>
<filter id="m7b28" filterUnits="userSpaceOnUse" x="-150" y="-150" width="797.8" height="964" color-interpolation-filters="sRGB"><feGaussianBlur stdDeviation="28"/></filter>
</defs>
<rect width="497.8" height="664" fill="#02100e"/>
<g filter="url(#m7b28)"><path d="M-80.0 -80.0C-31.2 -150.0 163.0 -118.3 213.0 -80.0C263.0 -41.7 222.2 81.7 220.0 150.0C217.8 218.3 250.0 298.3 200.0 330.0C150.0 361.7 -33.3 408.3 -80.0 340.0C-126.7 271.7 -128.8 -10.0 -80.0 -80.0Z" fill="#0b5c22" fill-opacity="1"/><path d="M310.0 30.0C330.0 -10.0 411.7 15.0 440.0 60.0C468.3 105.0 476.7 216.7 480.0 300.0C483.3 383.3 483.3 515.0 460.0 560.0C436.7 605.0 363.3 613.3 340.0 570.0C316.7 526.7 325.0 390.0 320.0 300.0C315.0 210.0 290.0 70.0 310.0 30.0Z" fill="#0c6426" fill-opacity="1"/><path d="M-80.0 330.0C-33.8 261.7 150.8 261.7 197.0 330.0C243.2 398.3 243.2 671.7 197.0 740.0C150.8 808.3 -33.8 808.3 -80.0 740.0C-126.2 671.7 -126.2 398.3 -80.0 330.0Z" fill="#01060c" fill-opacity="1"/><path d="M197.0 300.0C214.2 226.7 282.8 226.7 300.0 300.0C317.2 373.3 317.2 666.7 300.0 740.0C282.8 813.3 214.2 813.3 197.0 740.0C179.8 666.7 179.8 373.3 197.0 300.0Z" fill="#020a12" fill-opacity="1"/><path d="M420.0 560.0C446.7 530.0 553.3 530.0 580.0 560.0C606.7 590.0 606.7 710.0 580.0 740.0C553.3 770.0 446.7 770.0 420.0 740.0C393.3 710.0 393.3 590.0 420.0 560.0Z" fill="#030c24" fill-opacity="1"/></g>
<g filter="url(#m7b14)"><path d="M430.0 -80.0C453.3 -133.3 555.0 -136.7 580.0 -80.0C605.0 -23.3 603.3 206.7 580.0 260.0C556.7 313.3 465.0 296.7 440.0 240.0C415.0 183.3 406.7 -26.7 430.0 -80.0Z" fill="#44d444" fill-opacity="1"/><ellipse cx="60" cy="30" rx="110" ry="60" fill="#18a030" fill-opacity="0.55"/></g>
<rect x="-200" y="-200" width="897.8" height="1064" fill="url(#pDapi1)" opacity="0.8" transform="translate(0 0)" filter="url(#soft1)"/>
<rect x="-200" y="-200" width="897.8" height="1064" fill="url(#pDapi2)" opacity="0.35" transform="translate(37 61)" filter="url(#soft1)"/>
<g><ellipse cx="80" cy="182" rx="5.5" ry="6.050000000000001" fill="#38f048" fill-opacity="1"/><ellipse cx="110" cy="250" rx="5" ry="5.5" fill="#38f048" fill-opacity="1"/><ellipse cx="105" cy="327" rx="6" ry="6.6000000000000005" fill="#38f048" fill-opacity="1"/><ellipse cx="14" cy="354" rx="6" ry="6.6000000000000005" fill="#38f048" fill-opacity="1"/><ellipse cx="113" cy="582" rx="6.5" ry="7.15" fill="#38f048" fill-opacity="1"/><ellipse cx="333" cy="186" rx="5" ry="5.5" fill="#38f048" fill-opacity="1"/><ellipse cx="40" cy="215" rx="4" ry="4.4" fill="#38f048" fill-opacity="1"/></g>
<g filter="url(#m7b2)"><ellipse cx="452" cy="413" rx="6" ry="6" fill="#000" fill-opacity="0.9"/></g>
<g fill="#3ac84a" fill-opacity="0.45"><circle cx="472" cy="136" r="1.5"/><circle cx="480" cy="159" r="1.7"/><circle cx="417" cy="247" r="2.8"/><circle cx="342" cy="578" r="2.0"/><circle cx="408" cy="563" r="2.5"/><circle cx="466" cy="442" r="1.6"/><circle cx="459" cy="378" r="2.0"/><circle cx="334" cy="519" r="2.4"/><circle cx="469" cy="478" r="2.9"/><circle cx="402" cy="437" r="2.4"/><circle cx="347" cy="577" r="2.0"/><circle cx="441" cy="576" r="2.5"/><circle cx="326" cy="506" r="2.5"/><circle cx="333" cy="87" r="2.3"/><circle cx="306" cy="560" r="2.3"/><circle cx="393" cy="281" r="2.5"/><circle cx="465" cy="226" r="2.1"/><circle cx="405" cy="221" r="2.4"/><circle cx="398" cy="294" r="2.5"/><circle cx="395" cy="108" r="3.0"/><circle cx="364" cy="293" r="2.1"/><circle cx="467" cy="574" r="2.3"/><circle cx="372" cy="112" r="2.8"/><circle cx="331" cy="355" r="2.0"/><circle cx="359" cy="253" r="1.8"/><circle cx="307" cy="349" r="2.7"/><circle cx="416" cy="169" r="2.5"/><circle cx="309" cy="282" r="2.7"/><circle cx="466" cy="309" r="2.8"/><circle cx="390" cy="343" r="2.4"/><circle cx="478" cy="462" r="2.2"/><circle cx="431" cy="407" r="2.0"/><circle cx="441" cy="503" r="2.4"/><circle cx="470" cy="70" r="2.3"/><circle cx="414" cy="244" r="1.8"/><circle cx="425" cy="295" r="1.9"/><circle cx="308" cy="582" r="2.0"/><circle cx="321" cy="177" r="1.9"/><circle cx="456" cy="158" r="1.9"/><circle cx="318" cy="314" r="1.8"/><circle cx="362" cy="457" r="2.9"/><circle cx="450" cy="81" r="2.1"/><circle cx="453" cy="78" r="1.8"/><circle cx="388" cy="267" r="2.6"/><circle cx="429" cy="311" r="1.9"/><circle cx="342" cy="204" r="1.6"/><circle cx="420" cy="145" r="2.8"/><circle cx="416" cy="91" r="2.2"/><circle cx="409" cy="83" r="2.2"/><circle cx="305" cy="474" r="1.5"/><circle cx="414" cy="592" r="2.8"/><circle cx="342" cy="349" r="1.7"/><circle cx="362" cy="526" r="2.7"/><circle cx="302" cy="265" r="2.5"/><circle cx="332" cy="493" r="2.8"/><circle cx="399" cy="256" r="2.8"/><circle cx="392" cy="162" r="1.9"/><circle cx="329" cy="513" r="2.3"/><circle cx="425" cy="501" r="3.0"/><circle cx="334" cy="279" r="2.8"/><circle cx="437" cy="269" r="2.5"/><circle cx="335" cy="147" r="1.6"/><circle cx="368" cy="187" r="2.3"/><circle cx="475" cy="143" r="2.3"/><circle cx="456" cy="383" r="2.3"/><circle cx="438" cy="72" r="2.9"/><circle cx="424" cy="496" r="2.7"/><circle cx="318" cy="96" r="1.8"/><circle cx="391" cy="567" r="2.9"/><circle cx="374" cy="396" r="2.6"/><circle cx="360" cy="584" r="2.9"/><circle cx="431" cy="547" r="2.7"/><circle cx="417" cy="234" r="1.9"/><circle cx="343" cy="91" r="2.9"/><circle cx="354" cy="73" r="2.0"/><circle cx="319" cy="300" r="2.0"/><circle cx="332" cy="317" r="2.1"/><circle cx="364" cy="499" r="2.0"/><circle cx="397" cy="534" r="2.9"/><circle cx="367" cy="82" r="2.9"/><circle cx="393" cy="178" r="1.7"/><circle cx="343" cy="228" r="1.7"/><circle cx="309" cy="597" r="2.7"/><circle cx="320" cy="320" r="2.7"/><circle cx="391" cy="97" r="2.0"/><circle cx="369" cy="554" r="2.4"/><circle cx="383" cy="401" r="1.6"/><circle cx="424" cy="496" r="2.5"/><circle cx="365" cy="214" r="1.5"/><circle cx="315" cy="143" r="2.2"/></g>
<path d="M305.1 9.5C310.0 6.9 316.3 7.1 321.9 7.4C327.5 7.8 333.2 9.7 338.8 11.6C344.4 13.5 347.2 12.1 355.6 18.9C364.0 25.7 381.6 43.5 389.3 52.6C397.0 61.7 397.3 63.9 401.9 73.7C406.4 83.5 411.7 99.3 416.6 111.6C421.5 123.9 426.8 134.4 431.4 147.4C436.0 160.4 440.5 177.2 444.0 189.5C447.5 201.8 449.9 210.5 452.4 221.0C454.9 231.5 456.5 241.1 458.8 252.6C461.1 264.1 463.3 277.6 466.0 290.0C468.7 302.4 471.7 309.8 475.0 327.0C478.3 344.2 483.8 373.8 486.0 393.0C488.2 412.2 489.4 428.0 488.0 442.0C486.6 456.0 483.6 461.7 477.7 477.0C471.8 492.3 460.8 518.0 452.4 533.8C444.0 549.6 435.9 559.4 427.1 571.7C418.3 584.0 407.9 597.3 399.8 607.5C391.7 617.7 387.5 626.6 378.7 632.8C369.9 638.9 359.5 641.8 347.2 644.4C334.9 647.0 318.3 648.1 305.0 648.6C291.7 649.1 277.7 649.4 267.2 647.5C256.7 645.6 249.6 642.6 241.9 637.0C234.2 631.4 224.9 621.2 220.9 613.8C216.9 606.4 217.5 605.1 217.7 592.8C217.9 580.5 221.8 559.5 222.0 540.2C222.2 520.9 219.5 500.4 218.8 477.0C218.1 453.6 217.6 426.2 218.0 400.0C218.4 373.8 219.5 343.8 221.0 320.0C222.5 296.2 225.1 278.8 227.2 257.0C229.3 235.2 231.1 207.8 233.5 189.5C235.9 171.2 238.1 161.4 241.9 147.4C245.8 133.4 251.3 119.3 256.6 105.3C261.9 91.3 267.5 76.9 273.5 63.2C279.5 49.5 287.1 32.1 292.4 23.2C297.7 14.2 300.2 12.1 305.1 9.5Z" fill="none" stroke="#000" stroke-opacity="0.35" stroke-width="5" stroke-dasharray="11 4.6" stroke-dashoffset="-0" />
<path d="M305.1 9.5C310.0 6.9 316.3 7.1 321.9 7.4C327.5 7.8 333.2 9.7 338.8 11.6C344.4 13.5 347.2 12.1 355.6 18.9C364.0 25.7 381.6 43.5 389.3 52.6C397.0 61.7 397.3 63.9 401.9 73.7C406.4 83.5 411.7 99.3 416.6 111.6C421.5 123.9 426.8 134.4 431.4 147.4C436.0 160.4 440.5 177.2 444.0 189.5C447.5 201.8 449.9 210.5 452.4 221.0C454.9 231.5 456.5 241.1 458.8 252.6C461.1 264.1 463.3 277.6 466.0 290.0C468.7 302.4 471.7 309.8 475.0 327.0C478.3 344.2 483.8 373.8 486.0 393.0C488.2 412.2 489.4 428.0 488.0 442.0C486.6 456.0 483.6 461.7 477.7 477.0C471.8 492.3 460.8 518.0 452.4 533.8C444.0 549.6 435.9 559.4 427.1 571.7C418.3 584.0 407.9 597.3 399.8 607.5C391.7 617.7 387.5 626.6 378.7 632.8C369.9 638.9 359.5 641.8 347.2 644.4C334.9 647.0 318.3 648.1 305.0 648.6C291.7 649.1 277.7 649.4 267.2 647.5C256.7 645.6 249.6 642.6 241.9 637.0C234.2 631.4 224.9 621.2 220.9 613.8C216.9 606.4 217.5 605.1 217.7 592.8C217.9 580.5 221.8 559.5 222.0 540.2C222.2 520.9 219.5 500.4 218.8 477.0C218.1 453.6 217.6 426.2 218.0 400.0C218.4 373.8 219.5 343.8 221.0 320.0C222.5 296.2 225.1 278.8 227.2 257.0C229.3 235.2 231.1 207.8 233.5 189.5C235.9 171.2 238.1 161.4 241.9 147.4C245.8 133.4 251.3 119.3 256.6 105.3C261.9 91.3 267.5 76.9 273.5 63.2C279.5 49.5 287.1 32.1 292.4 23.2C297.7 14.2 300.2 12.1 305.1 9.5Z" fill="none" stroke="#f2f2ea" stroke-width="3.5" stroke-dasharray="11 4.6"/>
<g font-family="Liberation Sans, Arial, sans-serif" stroke="#000" stroke-width="12" stroke-linejoin="round" paint-order="stroke">
<text x="364.8" y="42.3" font-size="28.8" textLength="109" lengthAdjust="spacingAndGlyphs" fill="#22f022">NECAB1</text>
<text x="410.7" y="73.1" font-size="28.6" fill="#2f78dc">DAPI</text>
</g>
<rect x="431.3" y="645.8" width="41.9" height="7.4" fill="#111"/>
<rect x="432.5" y="647" width="39.5" height="5" fill="#f4f4ee"/>
<text x="487" y="637" text-anchor="end" font-family="Liberation Sans, Arial, sans-serif" font-size="22" fill="#ecece4">100 μm</text>
</svg>
<svg class="abs" style="left:110.4px;top:3048px" width="497.8" height="413.6" viewBox="0 0 497.8 413.6">
<defs>
<filter id="m8b1.5" filterUnits="userSpaceOnUse" x="-150" y="-150" width="797.8" height="713.6" color-interpolation-filters="sRGB"><feGaussianBlur stdDeviation="1.5"/></filter>
<filter id="m8b7" filterUnits="userSpaceOnUse" x="-150" y="-150" width="797.8" height="713.6" color-interpolation-filters="sRGB"><feGaussianBlur stdDeviation="7"/></filter>
<filter id="m8b10" filterUnits="userSpaceOnUse" x="-150" y="-150" width="797.8" height="713.6" color-interpolation-filters="sRGB"><feGaussianBlur stdDeviation="10"/></filter>
<filter id="m8b18" filterUnits="userSpaceOnUse" x="-150" y="-150" width="797.8" height="713.6" color-interpolation-filters="sRGB"><feGaussianBlur stdDeviation="18"/></filter>
</defs>
<rect width="497.8" height="413.6" fill="#020518"/>
<g filter="url(#m8b18)"><path d="M-80.0 -80.0C30.0 -103.7 470.0 -103.3 580.0 -80.0C690.0 -56.7 614.5 36.7 580.0 60.0C545.5 83.3 438.0 60.0 373.0 60.0C308.0 60.0 265.5 59.7 190.0 60.0C114.5 60.3 -35.0 85.3 -80.0 62.0C-125.0 38.7 -190.0 -56.3 -80.0 -80.0Z" fill="#0c1690" fill-opacity="1"/><ellipse cx="252" cy="212" rx="178" ry="96" fill="#137a40" fill-opacity="1"/><path d="M170.0 300.0C195.0 276.7 305.0 276.7 330.0 300.0C355.0 323.3 345.0 416.7 320.0 440.0C295.0 463.3 205.0 463.3 180.0 440.0C155.0 416.7 145.0 323.3 170.0 300.0Z" fill="#0c4a2c" fill-opacity="1"/></g>
<g filter="url(#m8b7)"><path d="M-80.0 -80.0C30.0 -104.3 470.0 -104.3 580.0 -80.0C690.0 -55.7 601.7 42.3 580.0 66.0C558.3 89.7 483.3 61.7 450.0 62.0C416.7 62.3 423.3 67.0 380.0 68.0C336.7 69.0 236.7 69.3 190.0 68.0C143.3 66.7 145.0 60.3 100.0 60.0C55.0 59.7 -50.0 89.3 -80.0 66.0C-110.0 42.7 -190.0 -55.7 -80.0 -80.0Z" fill="#1420b8" fill-opacity="0.8"/></g>
<g filter="url(#m8b10)"><ellipse cx="170" cy="215" rx="80" ry="60" fill="#1a9a4c" fill-opacity="0.6"/><ellipse cx="340" cy="210" rx="70" ry="55" fill="#1a9a4c" fill-opacity="0.5"/></g>
<rect x="-200" y="-200" width="897.8" height="813.6" fill="url(#pPvt1)" opacity="0.9" transform="translate(0 0)" filter="url(#soft1)"/>
<rect x="-200" y="-200" width="897.8" height="813.6" fill="url(#pPvt2)" opacity="0.5" transform="translate(53 29)" filter="url(#soft1)"/>
<g filter="url(#m8b1.5)"><path d="M186 -10 L186 50 Q186 68 204 69 L359 69 Q377 68 377 50 L377 -10 Z" fill="#2038ff" fill-opacity="1"/></g>
<g><path d="M193 -10 L193 46 Q193 61 208 62 L355 62 Q370 61 370 46 L370 -10 Z" fill="#000" fill-opacity="1"/><ellipse cx="160" cy="330" rx="5" ry="18" fill="#2a48ff" fill-opacity="0.9"/></g>
<g fill="#48e070" fill-opacity="0.6"><circle cx="205" cy="172" r="2.3"/><circle cx="270" cy="220" r="3.2"/><circle cx="279" cy="345" r="3.1"/><circle cx="379" cy="238" r="2.2"/><circle cx="309" cy="295" r="2.1"/><circle cx="358" cy="110" r="3.4"/><circle cx="380" cy="168" r="3.2"/><circle cx="338" cy="139" r="3.1"/><circle cx="296" cy="291" r="2.3"/><circle cx="312" cy="255" r="2.6"/><circle cx="337" cy="234" r="3.2"/><circle cx="265" cy="376" r="3.0"/><circle cx="182" cy="144" r="2.1"/><circle cx="346" cy="134" r="3.1"/><circle cx="345" cy="291" r="2.7"/><circle cx="226" cy="330" r="3.1"/><circle cx="216" cy="241" r="3.5"/><circle cx="165" cy="166" r="3.1"/><circle cx="411" cy="219" r="3.4"/><circle cx="122" cy="110" r="2.3"/><circle cx="313" cy="120" r="2.4"/><circle cx="275" cy="149" r="2.5"/><circle cx="270" cy="256" r="3.6"/><circle cx="284" cy="396" r="3.0"/><circle cx="255" cy="304" r="2.3"/><circle cx="254" cy="287" r="2.6"/><circle cx="319" cy="389" r="3.4"/><circle cx="177" cy="148" r="3.4"/><circle cx="293" cy="360" r="3.4"/><circle cx="166" cy="284" r="2.5"/><circle cx="250" cy="287" r="2.4"/><circle cx="129" cy="249" r="2.1"/><circle cx="248" cy="395" r="3.3"/><circle cx="329" cy="108" r="3.2"/><circle cx="199" cy="154" r="3.4"/><circle cx="207" cy="158" r="2.8"/><circle cx="283" cy="316" r="2.8"/><circle cx="276" cy="326" r="2.3"/><circle cx="129" cy="252" r="3.2"/><circle cx="331" cy="133" r="2.6"/><circle cx="314" cy="336" r="2.6"/><circle cx="362" cy="127" r="2.6"/><circle cx="193" cy="371" r="2.3"/><circle cx="120" cy="128" r="3.3"/><circle cx="180" cy="384" r="2.5"/><circle cx="378" cy="161" r="3.4"/><circle cx="191" cy="153" r="3.4"/><circle cx="240" cy="266" r="3.4"/><circle cx="244" cy="179" r="3.1"/><circle cx="262" cy="186" r="3.1"/><circle cx="404" cy="177" r="3.3"/><circle cx="346" cy="264" r="2.3"/><circle cx="313" cy="188" r="2.4"/><circle cx="384" cy="185" r="2.1"/><circle cx="214" cy="271" r="3.2"/><circle cx="413" cy="230" r="3.5"/><circle cx="231" cy="306" r="2.1"/><circle cx="137" cy="193" r="2.6"/><circle cx="126" cy="232" r="2.1"/><circle cx="275" cy="402" r="3.4"/><circle cx="296" cy="408" r="3.2"/><circle cx="301" cy="244" r="2.1"/><circle cx="322" cy="355" r="3.5"/><circle cx="224" cy="185" r="2.1"/><circle cx="295" cy="294" r="2.1"/><circle cx="264" cy="221" r="2.8"/><circle cx="201" cy="400" r="3.5"/><circle cx="321" cy="191" r="2.3"/><circle cx="434" cy="185" r="2.4"/><circle cx="247" cy="128" r="2.8"/><circle cx="365" cy="184" r="3.3"/><circle cx="434" cy="146" r="2.6"/><circle cx="271" cy="393" r="3.3"/><circle cx="306" cy="128" r="3.6"/><circle cx="199" cy="398" r="2.2"/><circle cx="131" cy="244" r="2.9"/><circle cx="156" cy="169" r="2.1"/><circle cx="254" cy="231" r="2.6"/><circle cx="242" cy="209" r="2.6"/><circle cx="350" cy="147" r="2.2"/><circle cx="230" cy="191" r="2.8"/><circle cx="410" cy="172" r="2.6"/><circle cx="102" cy="191" r="2.4"/><circle cx="151" cy="205" r="3.5"/><circle cx="256" cy="383" r="2.8"/><circle cx="147" cy="131" r="2.7"/><circle cx="214" cy="141" r="3.5"/><circle cx="215" cy="363" r="3.5"/><circle cx="211" cy="324" r="3.4"/><circle cx="170" cy="225" r="2.7"/><circle cx="378" cy="195" r="3.4"/><circle cx="73" cy="203" r="3.3"/><circle cx="213" cy="118" r="2.8"/><circle cx="266" cy="247" r="2.7"/><circle cx="230" cy="342" r="2.4"/><circle cx="243" cy="339" r="2.1"/><circle cx="116" cy="116" r="3.1"/><circle cx="72" cy="214" r="2.7"/><circle cx="188" cy="179" r="2.6"/><circle cx="146" cy="122" r="2.9"/><circle cx="302" cy="411" r="2.8"/><circle cx="210" cy="268" r="2.2"/><circle cx="298" cy="141" r="3.1"/><circle cx="293" cy="315" r="2.3"/><circle cx="351" cy="149" r="3.2"/><circle cx="390" cy="210" r="3.3"/><circle cx="150" cy="240" r="2.0"/><circle cx="159" cy="107" r="3.5"/><circle cx="326" cy="183" r="3.2"/><circle cx="322" cy="301" r="2.7"/><circle cx="131" cy="240" r="3.0"/><circle cx="317" cy="167" r="3.2"/><circle cx="304" cy="190" r="2.8"/><circle cx="377" cy="110" r="3.0"/><circle cx="302" cy="353" r="2.5"/><circle cx="217" cy="134" r="2.8"/><circle cx="318" cy="387" r="3.2"/><circle cx="268" cy="369" r="3.4"/><circle cx="293" cy="185" r="2.0"/><circle cx="283" cy="104" r="2.6"/><circle cx="436" cy="181" r="3.1"/><circle cx="339" cy="202" r="3.0"/><circle cx="290" cy="191" r="2.8"/><circle cx="372" cy="188" r="3.5"/><circle cx="329" cy="300" r="2.7"/><circle cx="271" cy="226" r="2.9"/><circle cx="110" cy="125" r="3.5"/><circle cx="167" cy="145" r="2.4"/><circle cx="401" cy="255" r="2.9"/><circle cx="115" cy="148" r="2.2"/><circle cx="327" cy="282" r="3.2"/><circle cx="283" cy="179" r="2.6"/><circle cx="199" cy="391" r="3.1"/><circle cx="351" cy="100" r="2.1"/><circle cx="236" cy="284" r="2.4"/><circle cx="376" cy="247" r="3.1"/><circle cx="209" cy="313" r="3.1"/><circle cx="221" cy="194" r="2.7"/><circle cx="343" cy="103" r="2.3"/><circle cx="193" cy="319" r="2.8"/><circle cx="398" cy="219" r="3.5"/><circle cx="281" cy="209" r="2.2"/><circle cx="364" cy="155" r="3.3"/><circle cx="368" cy="142" r="3.2"/><circle cx="326" cy="129" r="3.2"/><circle cx="421" cy="205" r="2.8"/><circle cx="216" cy="175" r="2.3"/><circle cx="312" cy="404" r="2.2"/><circle cx="390" cy="192" r="2.0"/><circle cx="178" cy="229" r="2.7"/><circle cx="216" cy="189" r="3.5"/><circle cx="65" cy="170" r="3.3"/><circle cx="137" cy="166" r="2.6"/><circle cx="300" cy="359" r="3.3"/><circle cx="204" cy="167" r="2.7"/><circle cx="71" cy="191" r="3.5"/><circle cx="119" cy="254" r="3.0"/><circle cx="288" cy="326" r="3.6"/><circle cx="256" cy="244" r="3.4"/><circle cx="89" cy="238" r="2.4"/><circle cx="292" cy="358" r="2.7"/><circle cx="139" cy="138" r="3.4"/><circle cx="282" cy="394" r="2.4"/><circle cx="169" cy="156" r="3.0"/><circle cx="273" cy="369" r="2.9"/><circle cx="187" cy="132" r="3.3"/><circle cx="420" cy="203" r="2.5"/><circle cx="260" cy="218" r="3.2"/><circle cx="243" cy="252" r="2.6"/><circle cx="140" cy="218" r="3.2"/><circle cx="194" cy="239" r="2.9"/><circle cx="163" cy="222" r="3.1"/><circle cx="417" cy="120" r="3.4"/><circle cx="267" cy="172" r="3.3"/><circle cx="262" cy="239" r="3.0"/><circle cx="423" cy="207" r="2.5"/><circle cx="237" cy="410" r="3.2"/><circle cx="172" cy="317" r="3.3"/><circle cx="91" cy="227" r="2.6"/><circle cx="229" cy="136" r="2.9"/><circle cx="189" cy="114" r="2.2"/><circle cx="208" cy="111" r="2.2"/><circle cx="76" cy="190" r="2.5"/><circle cx="418" cy="158" r="3.5"/><circle cx="251" cy="353" r="2.9"/><circle cx="188" cy="193" r="2.3"/><circle cx="265" cy="399" r="3.2"/><circle cx="309" cy="127" r="2.9"/><circle cx="261" cy="244" r="3.3"/><circle cx="326" cy="169" r="2.8"/><circle cx="218" cy="222" r="2.4"/><circle cx="223" cy="256" r="2.7"/><circle cx="323" cy="353" r="2.9"/><circle cx="122" cy="156" r="3.5"/><circle cx="237" cy="253" r="2.4"/><circle cx="299" cy="219" r="2.9"/><circle cx="270" cy="386" r="3.2"/><circle cx="293" cy="186" r="2.5"/><circle cx="255" cy="264" r="2.9"/><circle cx="227" cy="134" r="3.6"/><circle cx="313" cy="166" r="3.1"/><circle cx="187" cy="213" r="3.4"/><circle cx="336" cy="108" r="3.5"/><circle cx="209" cy="194" r="2.6"/><circle cx="138" cy="234" r="3.3"/><circle cx="222" cy="250" r="2.2"/><circle cx="156" cy="115" r="3.2"/><circle cx="100" cy="156" r="2.7"/><circle cx="369" cy="123" r="3.2"/><circle cx="174" cy="227" r="2.7"/><circle cx="288" cy="203" r="2.5"/><circle cx="176" cy="218" r="2.8"/><circle cx="372" cy="184" r="2.9"/><circle cx="361" cy="118" r="2.4"/><circle cx="350" cy="122" r="3.5"/><circle cx="225" cy="298" r="2.2"/><circle cx="229" cy="247" r="3.2"/><circle cx="286" cy="147" r="2.1"/><circle cx="159" cy="283" r="2.2"/><circle cx="119" cy="210" r="2.4"/><circle cx="291" cy="170" r="2.3"/><circle cx="240" cy="167" r="3.3"/><circle cx="369" cy="245" r="2.6"/><circle cx="155" cy="259" r="2.5"/><circle cx="227" cy="291" r="3.4"/><circle cx="384" cy="120" r="3.2"/><circle cx="208" cy="137" r="2.7"/><circle cx="392" cy="223" r="2.5"/><circle cx="263" cy="277" r="3.5"/><circle cx="336" cy="253" r="2.9"/></g>
<path d="M52.4 157.3C56.2 145.3 65.6 133.8 75.4 124.5C85.2 115.2 99.4 107.1 111.4 101.6C123.4 96.1 135.4 93.9 147.4 91.7C159.4 89.5 172.6 87.4 183.5 88.5C194.4 89.6 204.3 95.0 213.0 98.3C221.7 101.6 228.3 105.9 235.9 108.1C243.5 110.3 250.6 112.0 258.8 111.4C267.0 110.9 275.7 108.6 285.0 104.8C294.3 101.0 304.1 92.0 314.5 88.5C324.9 85.0 335.3 83.6 347.3 83.6C359.3 83.6 374.0 85.0 386.6 88.5C399.2 92.0 412.9 97.7 422.7 104.8C432.5 111.9 440.4 121.3 445.6 131.1C450.8 140.9 452.7 151.8 453.8 163.8C454.9 175.8 455.8 191.1 452.2 203.1C448.6 215.1 442.3 226.1 432.5 235.9C422.7 245.7 405.2 252.8 393.2 262.1C381.2 271.4 371.3 283.4 360.4 291.6C349.5 299.8 341.3 306.4 327.7 311.3C314.1 316.2 294.9 320.0 278.5 321.1C262.1 322.2 245.8 320.0 229.4 317.8C213.0 315.6 195.5 312.9 180.2 308.0C164.9 303.1 151.8 295.9 137.6 288.3C123.4 280.7 107.0 271.9 95.0 262.1C83.0 252.3 72.6 240.3 65.5 229.4C58.4 218.5 54.6 208.6 52.4 196.6C50.2 184.6 48.6 169.3 52.4 157.3Z" fill="none" stroke="#000" stroke-opacity="0.35" stroke-width="5" stroke-dasharray="11 4.6" stroke-dashoffset="-0" />
<path d="M52.4 157.3C56.2 145.3 65.6 133.8 75.4 124.5C85.2 115.2 99.4 107.1 111.4 101.6C123.4 96.1 135.4 93.9 147.4 91.7C159.4 89.5 172.6 87.4 183.5 88.5C194.4 89.6 204.3 95.0 213.0 98.3C221.7 101.6 228.3 105.9 235.9 108.1C243.5 110.3 250.6 112.0 258.8 111.4C267.0 110.9 275.7 108.6 285.0 104.8C294.3 101.0 304.1 92.0 314.5 88.5C324.9 85.0 335.3 83.6 347.3 83.6C359.3 83.6 374.0 85.0 386.6 88.5C399.2 92.0 412.9 97.7 422.7 104.8C432.5 111.9 440.4 121.3 445.6 131.1C450.8 140.9 452.7 151.8 453.8 163.8C454.9 175.8 455.8 191.1 452.2 203.1C448.6 215.1 442.3 226.1 432.5 235.9C422.7 245.7 405.2 252.8 393.2 262.1C381.2 271.4 371.3 283.4 360.4 291.6C349.5 299.8 341.3 306.4 327.7 311.3C314.1 316.2 294.9 320.0 278.5 321.1C262.1 322.2 245.8 320.0 229.4 317.8C213.0 315.6 195.5 312.9 180.2 308.0C164.9 303.1 151.8 295.9 137.6 288.3C123.4 280.7 107.0 271.9 95.0 262.1C83.0 252.3 72.6 240.3 65.5 229.4C58.4 218.5 54.6 208.6 52.4 196.6C50.2 184.6 48.6 169.3 52.4 157.3Z" fill="none" stroke="#f2f2ea" stroke-width="3.5" stroke-dasharray="11 4.6"/>
<g font-family="Liberation Sans, Arial, sans-serif" stroke="#000" stroke-width="12" stroke-linejoin="round" paint-order="stroke">
<text x="374.6" y="42.4" font-size="28.8" textLength="109" lengthAdjust="spacingAndGlyphs" fill="#22f022">NECAB1</text>
<text x="420.9" y="73.4" font-size="28.6" fill="#2f78dc">DAPI</text>
</g>
<rect x="422.7" y="406" width="62.30000000000001" height="5.5" fill="#f4f4ee"/>
</svg>
<svg class="abs" style="left:634px;top:3048px" width="497.8" height="413.6" viewBox="0 0 497.8 413.6">
<defs>
<filter id="m9b1.5" filterUnits="userSpaceOnUse" x="-150" y="-150" width="797.8" height="713.6" color-interpolation-filters="sRGB"><feGaussianBlur stdDeviation="1.5"/></filter>
<filter id="m9b5" filterUnits="userSpaceOnUse" x="-150" y="-150" width="797.8" height="713.6" color-interpolation-filters="sRGB"><feGaussianBlur stdDeviation="5"/></filter>
<filter id="m9b12" filterUnits="userSpaceOnUse" x="-150" y="-150" width="797.8" height="713.6" color-interpolation-filters="sRGB"><feGaussianBlur stdDeviation="12"/></filter>
<filter id="m9b16" filterUnits="userSpaceOnUse" x="-150" y="-150" width="797.8" height="713.6" color-interpolation-filters="sRGB"><feGaussianBlur stdDeviation="16"/></filter>
</defs>
<rect width="497.8" height="413.6" fill="#020518"/>
<g filter="url(#m9b16)"><path d="M30.0 140.0C53.3 101.7 155.0 80.0 200.0 70.0C245.0 60.0 255.0 70.0 300.0 80.0C345.0 90.0 441.7 88.3 470.0 130.0C498.3 171.7 481.7 282.7 470.0 330.0C458.3 377.3 458.3 400.0 400.0 414.0C341.7 428.0 176.7 433.0 120.0 414.0C63.3 395.0 75.0 345.7 60.0 300.0C45.0 254.3 6.7 178.3 30.0 140.0Z" fill="#127a40" fill-opacity="1"/></g>
<g filter="url(#m9b5)"><path d="M-80.0 -80.0C30.0 -99.3 470.0 -100.3 580.0 -80.0C690.0 -59.7 621.7 23.0 580.0 42.0C538.3 61.0 376.7 36.7 330.0 34.0C283.3 31.3 311.3 25.7 300.0 26.0C288.7 26.3 272.7 36.3 262.0 36.0C251.3 35.7 293.0 24.0 236.0 24.0C179.0 24.0 -27.3 53.3 -80.0 36.0C-132.7 18.7 -190.0 -60.7 -80.0 -80.0Z" fill="#1a28e0" fill-opacity="1"/></g>
<g filter="url(#m9b12)"><ellipse cx="140" cy="200" rx="85" ry="80" fill="#1e9a50" fill-opacity="0.8"/><ellipse cx="370" cy="230" rx="85" ry="75" fill="#1e9a50" fill-opacity="0.8"/><ellipse cx="250" cy="370" rx="130" ry="60" fill="#1e9a50" fill-opacity="0.8"/><rect x="232" y="100" width="40" height="250" fill="#031420" fill-opacity="0.6"/></g>
<rect x="-200" y="-200" width="897.8" height="813.6" fill="url(#pPvt1)" opacity="0.9" transform="translate(0 0)" filter="url(#soft1)"/>
<rect x="-200" y="-200" width="897.8" height="813.6" fill="url(#pPvt2)" opacity="0.5" transform="translate(53 29)" filter="url(#soft1)"/>
<g filter="url(#m9b1.5)"><path d="M224 -10 L232 18 Q262 38 282 30 Q302 12 312 2 L334 -10 Z" fill="#2038ff" fill-opacity="1"/></g>
<g><path d="M230 -10 L237 15 Q262 32 280 25 Q298 8 308 -2 L330 -10 Z" fill="#000" fill-opacity="1"/></g>
<g fill="#4ee884" fill-opacity="0.65"><circle cx="45" cy="109" r="3.1"/><circle cx="334" cy="118" r="2.6"/><circle cx="140" cy="331" r="2.7"/><circle cx="358" cy="298" r="2.6"/><circle cx="270" cy="224" r="3.1"/><circle cx="468" cy="102" r="2.4"/><circle cx="444" cy="209" r="2.8"/><circle cx="182" cy="196" r="4.1"/><circle cx="130" cy="145" r="3.5"/><circle cx="275" cy="398" r="3.9"/><circle cx="193" cy="140" r="3.9"/><circle cx="465" cy="80" r="3.7"/><circle cx="413" cy="294" r="2.8"/><circle cx="383" cy="321" r="2.7"/><circle cx="316" cy="145" r="2.5"/><circle cx="184" cy="185" r="3.1"/><circle cx="318" cy="358" r="4.1"/><circle cx="460" cy="412" r="3.8"/><circle cx="172" cy="131" r="3.5"/><circle cx="275" cy="302" r="2.6"/><circle cx="123" cy="387" r="3.5"/><circle cx="339" cy="103" r="3.1"/><circle cx="431" cy="293" r="4.2"/><circle cx="125" cy="226" r="3.8"/><circle cx="231" cy="341" r="3.4"/><circle cx="91" cy="104" r="4.2"/><circle cx="91" cy="137" r="3.0"/><circle cx="347" cy="364" r="3.3"/><circle cx="254" cy="341" r="2.9"/><circle cx="200" cy="281" r="3.5"/><circle cx="56" cy="109" r="2.6"/><circle cx="352" cy="308" r="4.2"/><circle cx="370" cy="158" r="3.8"/><circle cx="464" cy="190" r="2.4"/><circle cx="201" cy="167" r="2.7"/><circle cx="59" cy="113" r="4.0"/><circle cx="61" cy="281" r="2.8"/><circle cx="123" cy="352" r="2.9"/><circle cx="119" cy="226" r="3.7"/><circle cx="265" cy="366" r="3.1"/><circle cx="265" cy="317" r="3.2"/><circle cx="348" cy="231" r="2.6"/><circle cx="93" cy="339" r="3.7"/><circle cx="445" cy="307" r="3.4"/><circle cx="111" cy="363" r="2.6"/><circle cx="223" cy="118" r="3.1"/><circle cx="172" cy="216" r="3.7"/><circle cx="273" cy="154" r="3.8"/><circle cx="356" cy="355" r="2.5"/><circle cx="304" cy="378" r="2.9"/><circle cx="127" cy="350" r="3.1"/><circle cx="213" cy="351" r="3.1"/><circle cx="125" cy="144" r="3.0"/><circle cx="340" cy="197" r="3.8"/><circle cx="68" cy="156" r="3.5"/><circle cx="246" cy="242" r="4.1"/><circle cx="159" cy="132" r="2.5"/><circle cx="247" cy="172" r="3.3"/><circle cx="42" cy="70" r="3.1"/><circle cx="366" cy="173" r="4.0"/><circle cx="289" cy="209" r="3.8"/><circle cx="140" cy="278" r="3.9"/><circle cx="273" cy="180" r="2.6"/><circle cx="287" cy="135" r="3.1"/><circle cx="273" cy="394" r="3.6"/><circle cx="263" cy="365" r="3.0"/><circle cx="207" cy="303" r="3.4"/><circle cx="135" cy="211" r="3.9"/><circle cx="144" cy="313" r="2.5"/><circle cx="450" cy="305" r="3.0"/><circle cx="463" cy="344" r="2.5"/><circle cx="147" cy="239" r="4.2"/><circle cx="100" cy="86" r="3.0"/><circle cx="59" cy="211" r="3.4"/><circle cx="229" cy="119" r="2.4"/><circle cx="385" cy="221" r="3.3"/><circle cx="246" cy="306" r="4.0"/><circle cx="396" cy="320" r="3.0"/><circle cx="113" cy="101" r="3.9"/><circle cx="64" cy="266" r="4.0"/><circle cx="179" cy="204" r="3.2"/><circle cx="446" cy="305" r="3.9"/><circle cx="57" cy="321" r="3.2"/><circle cx="213" cy="351" r="3.7"/><circle cx="432" cy="324" r="4.0"/><circle cx="224" cy="261" r="3.8"/><circle cx="235" cy="117" r="3.5"/><circle cx="415" cy="369" r="2.6"/><circle cx="204" cy="149" r="3.0"/><circle cx="453" cy="215" r="3.0"/><circle cx="157" cy="221" r="3.6"/><circle cx="187" cy="134" r="2.8"/><circle cx="152" cy="382" r="2.7"/><circle cx="364" cy="107" r="3.8"/><circle cx="154" cy="338" r="3.2"/><circle cx="74" cy="103" r="3.8"/><circle cx="273" cy="237" r="3.0"/><circle cx="337" cy="236" r="2.5"/><circle cx="298" cy="178" r="3.9"/><circle cx="276" cy="336" r="2.6"/><circle cx="344" cy="280" r="3.9"/><circle cx="420" cy="260" r="3.5"/><circle cx="370" cy="161" r="3.4"/><circle cx="378" cy="274" r="3.4"/><circle cx="408" cy="406" r="2.9"/><circle cx="72" cy="281" r="2.7"/><circle cx="457" cy="233" r="3.4"/><circle cx="391" cy="369" r="2.7"/><circle cx="235" cy="132" r="3.2"/><circle cx="97" cy="372" r="3.0"/><circle cx="207" cy="379" r="3.9"/><circle cx="184" cy="242" r="3.6"/><circle cx="121" cy="117" r="3.9"/><circle cx="110" cy="313" r="3.7"/><circle cx="294" cy="189" r="3.9"/><circle cx="378" cy="94" r="4.0"/><circle cx="314" cy="170" r="2.7"/><circle cx="82" cy="349" r="3.9"/><circle cx="190" cy="132" r="2.5"/><circle cx="218" cy="172" r="2.5"/><circle cx="168" cy="352" r="2.5"/><circle cx="214" cy="247" r="2.7"/><circle cx="56" cy="96" r="2.7"/><circle cx="459" cy="366" r="3.7"/><circle cx="427" cy="182" r="2.8"/><circle cx="414" cy="279" r="4.1"/><circle cx="194" cy="212" r="3.7"/><circle cx="419" cy="127" r="2.9"/><circle cx="46" cy="263" r="4.1"/><circle cx="284" cy="121" r="3.6"/><circle cx="319" cy="106" r="4.0"/><circle cx="324" cy="239" r="3.0"/><circle cx="109" cy="231" r="3.1"/><circle cx="140" cy="292" r="3.6"/><circle cx="450" cy="403" r="3.2"/><circle cx="348" cy="199" r="3.2"/><circle cx="284" cy="408" r="2.5"/><circle cx="239" cy="186" r="3.8"/><circle cx="449" cy="232" r="2.5"/><circle cx="296" cy="272" r="3.6"/><circle cx="374" cy="229" r="3.4"/><circle cx="370" cy="79" r="2.8"/><circle cx="336" cy="406" r="4.1"/><circle cx="161" cy="404" r="2.9"/><circle cx="235" cy="125" r="3.5"/><circle cx="208" cy="306" r="4.1"/><circle cx="95" cy="296" r="3.5"/><circle cx="158" cy="82" r="4.1"/><circle cx="339" cy="285" r="2.6"/><circle cx="427" cy="207" r="3.2"/><circle cx="279" cy="223" r="4.1"/><circle cx="241" cy="303" r="3.8"/><circle cx="441" cy="129" r="3.0"/><circle cx="448" cy="279" r="3.1"/><circle cx="419" cy="111" r="2.9"/><circle cx="70" cy="301" r="3.3"/><circle cx="171" cy="221" r="2.9"/><circle cx="345" cy="331" r="3.1"/><circle cx="414" cy="85" r="3.4"/><circle cx="106" cy="110" r="3.4"/><circle cx="77" cy="96" r="2.6"/><circle cx="202" cy="356" r="2.9"/><circle cx="93" cy="334" r="3.9"/><circle cx="468" cy="87" r="2.7"/><circle cx="226" cy="411" r="3.4"/><circle cx="420" cy="147" r="3.2"/><circle cx="335" cy="148" r="3.3"/><circle cx="395" cy="351" r="3.7"/><circle cx="396" cy="413" r="3.5"/><circle cx="147" cy="146" r="2.5"/><circle cx="435" cy="267" r="3.5"/><circle cx="415" cy="308" r="3.1"/><circle cx="292" cy="98" r="2.9"/><circle cx="188" cy="343" r="3.6"/><circle cx="300" cy="206" r="3.0"/><circle cx="205" cy="87" r="3.0"/><circle cx="431" cy="350" r="2.8"/><circle cx="254" cy="326" r="2.8"/><circle cx="193" cy="272" r="2.7"/><circle cx="431" cy="77" r="4.0"/><circle cx="328" cy="207" r="2.9"/><circle cx="413" cy="315" r="2.8"/><circle cx="176" cy="102" r="3.5"/><circle cx="222" cy="179" r="3.7"/><circle cx="149" cy="119" r="3.8"/><circle cx="421" cy="348" r="3.4"/><circle cx="348" cy="367" r="2.5"/><circle cx="169" cy="192" r="3.7"/><circle cx="184" cy="333" r="2.9"/><circle cx="447" cy="220" r="3.5"/><circle cx="310" cy="353" r="3.4"/><circle cx="131" cy="222" r="3.4"/><circle cx="71" cy="355" r="3.0"/><circle cx="436" cy="198" r="4.1"/><circle cx="350" cy="205" r="3.7"/><circle cx="40" cy="99" r="3.4"/><circle cx="172" cy="210" r="3.7"/><circle cx="243" cy="281" r="3.7"/><circle cx="399" cy="106" r="3.9"/><circle cx="360" cy="148" r="2.6"/><circle cx="123" cy="101" r="3.4"/><circle cx="468" cy="237" r="2.9"/><circle cx="113" cy="405" r="3.4"/><circle cx="142" cy="383" r="3.2"/><circle cx="463" cy="246" r="2.9"/><circle cx="120" cy="76" r="3.9"/><circle cx="181" cy="321" r="3.9"/><circle cx="213" cy="246" r="3.7"/><circle cx="316" cy="195" r="2.8"/><circle cx="163" cy="77" r="3.5"/><circle cx="316" cy="336" r="3.2"/><circle cx="355" cy="262" r="3.9"/><circle cx="277" cy="301" r="3.5"/><circle cx="127" cy="97" r="3.9"/><circle cx="338" cy="246" r="4.0"/><circle cx="118" cy="322" r="3.3"/><circle cx="85" cy="114" r="2.4"/><circle cx="121" cy="337" r="3.3"/><circle cx="60" cy="240" r="4.2"/><circle cx="378" cy="174" r="3.3"/><circle cx="198" cy="150" r="3.6"/><circle cx="50" cy="233" r="4.1"/><circle cx="365" cy="296" r="3.9"/><circle cx="449" cy="163" r="4.1"/><circle cx="424" cy="240" r="2.6"/><circle cx="269" cy="241" r="4.2"/><circle cx="146" cy="317" r="3.8"/><circle cx="298" cy="168" r="4.0"/><circle cx="150" cy="365" r="4.0"/><circle cx="269" cy="88" r="2.9"/><circle cx="69" cy="134" r="3.0"/><circle cx="287" cy="347" r="2.5"/><circle cx="360" cy="108" r="3.7"/><circle cx="45" cy="193" r="4.1"/><circle cx="416" cy="88" r="3.1"/><circle cx="433" cy="131" r="3.2"/><circle cx="152" cy="172" r="3.3"/><circle cx="100" cy="123" r="4.2"/><circle cx="368" cy="275" r="2.6"/><circle cx="97" cy="284" r="3.5"/><circle cx="44" cy="402" r="3.1"/><circle cx="156" cy="289" r="4.0"/><circle cx="190" cy="246" r="2.5"/><circle cx="241" cy="379" r="4.1"/><circle cx="190" cy="366" r="4.2"/><circle cx="170" cy="364" r="2.9"/><circle cx="455" cy="380" r="4.1"/><circle cx="215" cy="306" r="3.7"/><circle cx="290" cy="88" r="3.6"/><circle cx="385" cy="291" r="4.0"/><circle cx="454" cy="290" r="3.0"/><circle cx="258" cy="133" r="2.8"/><circle cx="461" cy="222" r="3.2"/><circle cx="422" cy="344" r="2.5"/><circle cx="217" cy="253" r="2.8"/><circle cx="369" cy="283" r="3.9"/><circle cx="98" cy="134" r="2.9"/><circle cx="262" cy="158" r="3.3"/><circle cx="189" cy="91" r="3.9"/><circle cx="273" cy="380" r="3.3"/><circle cx="410" cy="280" r="3.3"/><circle cx="444" cy="194" r="4.2"/><circle cx="293" cy="396" r="2.6"/><circle cx="272" cy="178" r="3.9"/><circle cx="432" cy="366" r="3.1"/><circle cx="71" cy="405" r="2.8"/><circle cx="395" cy="274" r="3.7"/><circle cx="344" cy="151" r="3.1"/><circle cx="205" cy="312" r="3.6"/><circle cx="466" cy="255" r="3.0"/><circle cx="92" cy="222" r="3.5"/><circle cx="336" cy="80" r="2.8"/><circle cx="314" cy="340" r="4.1"/><circle cx="99" cy="320" r="3.2"/><circle cx="294" cy="305" r="3.1"/><circle cx="301" cy="402" r="2.4"/><circle cx="277" cy="414" r="4.0"/><circle cx="148" cy="339" r="4.0"/><circle cx="216" cy="259" r="2.9"/><circle cx="469" cy="133" r="3.7"/><circle cx="466" cy="405" r="3.9"/><circle cx="227" cy="393" r="3.9"/><circle cx="221" cy="199" r="3.0"/><circle cx="179" cy="266" r="3.1"/><circle cx="452" cy="70" r="3.5"/><circle cx="225" cy="413" r="4.2"/><circle cx="347" cy="321" r="3.1"/><circle cx="340" cy="154" r="3.9"/><circle cx="287" cy="150" r="2.8"/><circle cx="207" cy="189" r="3.6"/><circle cx="240" cy="82" r="3.0"/><circle cx="235" cy="410" r="4.1"/><circle cx="305" cy="402" r="2.7"/><circle cx="129" cy="122" r="2.9"/><circle cx="161" cy="256" r="4.0"/><circle cx="192" cy="181" r="3.2"/><circle cx="448" cy="244" r="4.2"/><circle cx="172" cy="260" r="3.5"/><circle cx="349" cy="358" r="2.6"/><circle cx="129" cy="106" r="3.8"/></g>
<path d="M19.7 134.3C25.4 128.8 36.0 120.7 49.1 111.4C62.2 102.1 81.9 87.9 98.3 78.6C114.7 69.3 133.8 60.7 147.4 55.7C161.1 50.7 167.6 48.5 180.2 48.5C192.8 48.5 212.4 51.8 222.8 55.7C233.2 59.6 235.9 67.7 242.5 72.1C249.1 76.5 255.0 81.4 262.1 81.9C269.2 82.5 276.3 78.7 285.0 75.4C293.7 72.1 304.7 65.0 314.5 62.3C324.3 59.6 332.0 57.4 344.0 59.0C356.0 60.6 372.9 66.1 386.6 72.1C400.3 78.1 412.9 86.8 426.0 95.0C439.1 103.2 457.1 113.0 465.3 121.2C473.5 129.4 474.6 133.8 475.1 144.2C475.6 154.6 473.4 173.7 468.5 183.5C463.6 193.3 452.7 195.4 445.6 203.1C438.5 210.8 434.7 220.7 426.0 229.4C417.3 238.2 406.9 248.0 393.2 255.6C379.5 263.2 357.6 266.5 344.0 275.2C330.4 283.9 322.2 297.6 311.3 308.0C300.4 318.4 290.0 330.7 278.5 337.5C267.0 344.3 253.4 348.4 242.5 349.0C231.6 349.6 224.5 347.1 213.0 340.8C201.5 334.5 186.3 320.6 173.7 311.3C161.1 302.0 150.2 294.4 137.6 285.1C125.0 275.8 110.3 266.0 98.3 255.6C86.3 245.2 74.8 233.7 65.5 222.8C56.2 211.9 50.2 200.4 42.6 190.0C35.0 179.6 24.4 168.2 19.7 160.6C15.0 153.0 14.7 148.6 14.7 144.2C14.7 139.8 14.0 139.8 19.7 134.3Z" fill="none" stroke="#000" stroke-opacity="0.35" stroke-width="5" stroke-dasharray="11 4.6" stroke-dashoffset="-0" />
<path d="M19.7 134.3C25.4 128.8 36.0 120.7 49.1 111.4C62.2 102.1 81.9 87.9 98.3 78.6C114.7 69.3 133.8 60.7 147.4 55.7C161.1 50.7 167.6 48.5 180.2 48.5C192.8 48.5 212.4 51.8 222.8 55.7C233.2 59.6 235.9 67.7 242.5 72.1C249.1 76.5 255.0 81.4 262.1 81.9C269.2 82.5 276.3 78.7 285.0 75.4C293.7 72.1 304.7 65.0 314.5 62.3C324.3 59.6 332.0 57.4 344.0 59.0C356.0 60.6 372.9 66.1 386.6 72.1C400.3 78.1 412.9 86.8 426.0 95.0C439.1 103.2 457.1 113.0 465.3 121.2C473.5 129.4 474.6 133.8 475.1 144.2C475.6 154.6 473.4 173.7 468.5 183.5C463.6 193.3 452.7 195.4 445.6 203.1C438.5 210.8 434.7 220.7 426.0 229.4C417.3 238.2 406.9 248.0 393.2 255.6C379.5 263.2 357.6 266.5 344.0 275.2C330.4 283.9 322.2 297.6 311.3 308.0C300.4 318.4 290.0 330.7 278.5 337.5C267.0 344.3 253.4 348.4 242.5 349.0C231.6 349.6 224.5 347.1 213.0 340.8C201.5 334.5 186.3 320.6 173.7 311.3C161.1 302.0 150.2 294.4 137.6 285.1C125.0 275.8 110.3 266.0 98.3 255.6C86.3 245.2 74.8 233.7 65.5 222.8C56.2 211.9 50.2 200.4 42.6 190.0C35.0 179.6 24.4 168.2 19.7 160.6C15.0 153.0 14.7 148.6 14.7 144.2C14.7 139.8 14.0 139.8 19.7 134.3Z" fill="none" stroke="#f2f2ea" stroke-width="3.5" stroke-dasharray="11 4.6"/>
<g font-family="Liberation Sans, Arial, sans-serif" stroke="#000" stroke-width="12" stroke-linejoin="round" paint-order="stroke">
<text x="374.6" y="42.4" font-size="28.8" textLength="109" lengthAdjust="spacingAndGlyphs" fill="#22f022">NECAB1</text>
<text x="420.9" y="73.4" font-size="28.6" fill="#2f78dc">DAPI</text>
</g>
<rect x="423.5" y="407" width="56.0" height="4.5" fill="#f4f4ee"/>
</svg>
<svg class="abs" style="left:1157.75px;top:3048px" width="497.8" height="413.6" viewBox="0 0 497.8 413.6">
<defs>
<filter id="m10b1.5" filterUnits="userSpaceOnUse" x="-150" y="-150" width="797.8" height="713.6" color-interpolation-filters="sRGB"><feGaussianBlur stdDeviation="1.5"/></filter>
<filter id="m10b12" filterUnits="userSpaceOnUse" x="-150" y="-150" width="797.8" height="713.6" color-interpolation-filters="sRGB"><feGaussianBlur stdDeviation="12"/></filter>
<filter id="m10b20" filterUnits="userSpaceOnUse" x="-150" y="-150" width="797.8" height="713.6" color-interpolation-filters="sRGB"><feGaussianBlur stdDeviation="20"/></filter>
</defs>
<rect width="497.8" height="413.6" fill="#030830"/>
<g filter="url(#m10b20)"><path d="M150.0 100.0C163.3 74.2 206.7 96.3 240.0 95.0C273.3 93.7 336.7 66.2 350.0 92.0C363.3 117.8 332.5 207.8 320.0 250.0C307.5 292.2 293.3 329.2 275.0 345.0C256.7 360.8 229.2 360.8 210.0 345.0C190.8 329.2 170.0 290.8 160.0 250.0C150.0 209.2 136.7 125.8 150.0 100.0Z" fill="#147a44" fill-opacity="1"/></g>
<g filter="url(#m10b12)"><ellipse cx="240" cy="200" rx="60" ry="110" fill="#1c9450" fill-opacity="0.8"/><rect x="228" y="90" width="14" height="250" fill="#041828" fill-opacity="0.5"/></g>
<rect x="-200" y="-200" width="897.8" height="813.6" fill="url(#pPvt1)" opacity="0.95" transform="translate(0 0)" filter="url(#soft1)"/>
<rect x="-200" y="-200" width="897.8" height="813.6" fill="url(#pPvt2)" opacity="0.8" transform="translate(53 29)" filter="url(#soft1)"/>
<rect x="-200" y="-200" width="897.8" height="813.6" fill="url(#pPvt1)" opacity="0.5" transform="translate(71 97)" filter="url(#soft1)"/>
<g filter="url(#m10b1.5)"><path d="M166 -10 C170 20 176 42 198 52 C213 60 220 72 238 78 C252 82 264 72 272 62 C292 52 314 42 320 20 L326 -10 Z" fill="#2038ff" fill-opacity="1"/><path d="M30 -5 C60 30 100 45 160 35" fill="none" stroke="#2040ff" stroke-width="4" stroke-opacity="0.9" stroke-linecap="round" stroke-linejoin="round"/><path d="M330 10 C360 30 420 40 480 35" fill="none" stroke="#2040ff" stroke-width="4" stroke-opacity="0.9" stroke-linecap="round" stroke-linejoin="round"/></g>
<g><path d="M174 -10 C178 18 184 36 204 45 C219 53 226 64 240 70 C252 73 260 64 266 56 C286 45 306 35 312 16 L318 -10 Z" fill="#000" fill-opacity="1"/></g>
<g fill="#4ee884" fill-opacity="0.65"><circle cx="125" cy="142" r="2.7"/><circle cx="267" cy="354" r="3.6"/><circle cx="165" cy="104" r="2.4"/><circle cx="213" cy="127" r="2.7"/><circle cx="397" cy="129" r="3.5"/><circle cx="205" cy="151" r="2.8"/><circle cx="253" cy="316" r="2.9"/><circle cx="325" cy="106" r="2.3"/><circle cx="312" cy="94" r="2.7"/><circle cx="223" cy="136" r="2.3"/><circle cx="263" cy="145" r="2.8"/><circle cx="331" cy="137" r="3.6"/><circle cx="263" cy="255" r="3.5"/><circle cx="307" cy="120" r="2.6"/><circle cx="246" cy="104" r="2.7"/><circle cx="153" cy="186" r="2.3"/><circle cx="137" cy="172" r="3.7"/><circle cx="244" cy="342" r="2.2"/><circle cx="365" cy="153" r="3.1"/><circle cx="141" cy="104" r="3.6"/><circle cx="341" cy="102" r="3.1"/><circle cx="179" cy="172" r="3.3"/><circle cx="262" cy="134" r="3.8"/><circle cx="299" cy="186" r="2.2"/><circle cx="263" cy="298" r="2.5"/><circle cx="221" cy="217" r="3.2"/><circle cx="266" cy="117" r="2.6"/><circle cx="166" cy="137" r="2.3"/><circle cx="225" cy="144" r="3.6"/><circle cx="186" cy="125" r="3.1"/><circle cx="252" cy="235" r="2.4"/><circle cx="270" cy="300" r="2.9"/><circle cx="243" cy="123" r="3.5"/><circle cx="235" cy="105" r="3.7"/><circle cx="268" cy="222" r="3.0"/><circle cx="226" cy="330" r="3.6"/><circle cx="134" cy="181" r="3.2"/><circle cx="292" cy="273" r="3.1"/><circle cx="190" cy="274" r="3.2"/><circle cx="233" cy="276" r="2.5"/><circle cx="345" cy="103" r="2.5"/><circle cx="141" cy="210" r="3.1"/><circle cx="241" cy="242" r="3.7"/><circle cx="186" cy="115" r="3.4"/><circle cx="278" cy="274" r="2.8"/><circle cx="231" cy="110" r="2.4"/><circle cx="163" cy="215" r="2.5"/><circle cx="280" cy="104" r="3.0"/><circle cx="323" cy="210" r="2.5"/><circle cx="325" cy="210" r="3.5"/><circle cx="204" cy="119" r="3.0"/><circle cx="325" cy="158" r="2.8"/><circle cx="372" cy="98" r="2.4"/><circle cx="161" cy="102" r="2.6"/><circle cx="128" cy="128" r="2.5"/><circle cx="175" cy="264" r="2.8"/><circle cx="238" cy="175" r="2.5"/><circle cx="241" cy="201" r="3.7"/><circle cx="311" cy="258" r="2.3"/><circle cx="392" cy="105" r="3.2"/><circle cx="371" cy="104" r="2.4"/><circle cx="302" cy="289" r="2.2"/><circle cx="250" cy="310" r="3.4"/><circle cx="272" cy="202" r="3.2"/><circle cx="287" cy="220" r="3.1"/><circle cx="280" cy="304" r="3.5"/><circle cx="235" cy="143" r="2.7"/><circle cx="227" cy="212" r="2.4"/><circle cx="194" cy="212" r="2.8"/><circle cx="270" cy="100" r="3.1"/><circle cx="358" cy="190" r="2.5"/><circle cx="296" cy="151" r="2.6"/><circle cx="392" cy="122" r="2.6"/><circle cx="279" cy="137" r="2.9"/><circle cx="321" cy="89" r="3.6"/><circle cx="265" cy="167" r="2.8"/><circle cx="256" cy="255" r="2.6"/><circle cx="192" cy="229" r="3.4"/><circle cx="260" cy="241" r="3.5"/><circle cx="237" cy="174" r="2.3"/><circle cx="207" cy="98" r="2.6"/><circle cx="305" cy="184" r="3.7"/><circle cx="250" cy="322" r="2.5"/><circle cx="240" cy="237" r="2.6"/><circle cx="326" cy="175" r="2.3"/><circle cx="215" cy="293" r="3.2"/><circle cx="204" cy="202" r="3.3"/><circle cx="372" cy="111" r="2.5"/><circle cx="232" cy="143" r="2.5"/><circle cx="197" cy="121" r="2.3"/><circle cx="237" cy="207" r="3.2"/><circle cx="190" cy="259" r="2.9"/><circle cx="225" cy="258" r="2.5"/><circle cx="200" cy="231" r="2.2"/><circle cx="125" cy="147" r="3.4"/><circle cx="326" cy="144" r="2.2"/><circle cx="268" cy="317" r="3.2"/><circle cx="193" cy="229" r="2.8"/><circle cx="296" cy="314" r="2.5"/><circle cx="236" cy="237" r="3.2"/><circle cx="323" cy="109" r="2.7"/><circle cx="147" cy="144" r="3.7"/><circle cx="169" cy="105" r="3.4"/><circle cx="216" cy="171" r="3.0"/><circle cx="220" cy="321" r="3.2"/><circle cx="157" cy="116" r="3.3"/><circle cx="216" cy="319" r="3.6"/><circle cx="382" cy="102" r="2.3"/><circle cx="233" cy="256" r="2.7"/><circle cx="397" cy="130" r="3.7"/><circle cx="137" cy="157" r="3.3"/><circle cx="236" cy="112" r="2.3"/><circle cx="294" cy="120" r="2.4"/><circle cx="184" cy="235" r="2.3"/><circle cx="206" cy="162" r="2.6"/><circle cx="340" cy="215" r="3.5"/><circle cx="318" cy="120" r="2.3"/><circle cx="302" cy="234" r="2.5"/><circle cx="194" cy="288" r="3.2"/><circle cx="230" cy="257" r="2.6"/><circle cx="150" cy="231" r="3.7"/><circle cx="151" cy="112" r="2.7"/><circle cx="340" cy="204" r="3.6"/><circle cx="137" cy="170" r="3.7"/><circle cx="305" cy="155" r="2.5"/><circle cx="361" cy="140" r="3.0"/><circle cx="224" cy="331" r="3.3"/><circle cx="159" cy="178" r="2.6"/><circle cx="213" cy="212" r="2.2"/><circle cx="209" cy="139" r="3.6"/><circle cx="315" cy="246" r="2.7"/><circle cx="221" cy="148" r="2.8"/><circle cx="288" cy="138" r="2.3"/><circle cx="227" cy="242" r="3.2"/><circle cx="177" cy="139" r="3.6"/><circle cx="375" cy="142" r="3.4"/><circle cx="210" cy="314" r="2.7"/><circle cx="298" cy="258" r="3.2"/><circle cx="217" cy="159" r="3.0"/><circle cx="236" cy="224" r="2.7"/><circle cx="243" cy="225" r="2.8"/><circle cx="170" cy="194" r="2.4"/><circle cx="200" cy="154" r="3.7"/><circle cx="348" cy="110" r="2.6"/><circle cx="226" cy="216" r="3.3"/><circle cx="317" cy="224" r="2.6"/><circle cx="287" cy="274" r="2.8"/><circle cx="222" cy="232" r="2.7"/><circle cx="368" cy="144" r="2.6"/><circle cx="193" cy="240" r="2.6"/><circle cx="251" cy="116" r="2.3"/><circle cx="180" cy="218" r="2.2"/><circle cx="223" cy="304" r="2.5"/><circle cx="232" cy="164" r="2.8"/><circle cx="206" cy="241" r="2.3"/><circle cx="343" cy="171" r="3.7"/><circle cx="139" cy="154" r="3.3"/><circle cx="154" cy="182" r="2.9"/><circle cx="184" cy="101" r="3.8"/><circle cx="213" cy="114" r="2.9"/><circle cx="139" cy="195" r="2.5"/><circle cx="299" cy="228" r="3.7"/><circle cx="239" cy="293" r="2.5"/><circle cx="262" cy="153" r="2.6"/><circle cx="327" cy="146" r="2.7"/><circle cx="308" cy="95" r="2.3"/><circle cx="175" cy="120" r="2.6"/><circle cx="291" cy="135" r="3.2"/><circle cx="196" cy="146" r="2.8"/><circle cx="325" cy="156" r="2.4"/><circle cx="301" cy="308" r="2.2"/><circle cx="282" cy="180" r="2.8"/><circle cx="161" cy="143" r="3.7"/><circle cx="350" cy="197" r="3.4"/><circle cx="315" cy="235" r="2.7"/><circle cx="276" cy="108" r="3.1"/><circle cx="251" cy="344" r="3.7"/><circle cx="241" cy="190" r="3.6"/><circle cx="234" cy="250" r="2.5"/><circle cx="251" cy="138" r="3.4"/><circle cx="237" cy="100" r="2.7"/><circle cx="201" cy="290" r="3.6"/><circle cx="212" cy="158" r="2.3"/><circle cx="246" cy="173" r="2.3"/><circle cx="286" cy="137" r="2.5"/><circle cx="175" cy="229" r="3.6"/><circle cx="301" cy="218" r="3.2"/><circle cx="206" cy="168" r="3.2"/><circle cx="270" cy="112" r="3.7"/><circle cx="194" cy="155" r="2.6"/><circle cx="269" cy="140" r="2.6"/><circle cx="344" cy="100" r="3.6"/><circle cx="368" cy="168" r="3.1"/><circle cx="288" cy="199" r="3.2"/><circle cx="146" cy="110" r="2.7"/><circle cx="157" cy="128" r="2.8"/><circle cx="310" cy="217" r="2.6"/><circle cx="275" cy="345" r="2.7"/><circle cx="344" cy="178" r="3.4"/><circle cx="258" cy="123" r="3.3"/></g>
<path d="M70.4 98.3C72.6 92.8 76.2 93.4 85.2 88.5C94.2 83.6 110.8 74.5 124.5 68.8C138.2 63.1 155.1 55.2 167.1 54.1C179.1 53.0 186.2 58.2 196.6 62.3C207.0 66.4 221.2 75.0 229.4 78.6C237.6 82.1 237.5 84.1 245.7 83.6C253.9 83.1 267.6 78.7 278.5 75.4C289.4 72.1 299.8 67.2 311.3 63.9C322.8 60.6 334.8 54.9 347.3 55.7C359.9 56.5 373.5 61.7 386.6 68.8C399.7 75.9 419.4 89.6 426.0 98.3C432.6 107.0 430.4 113.0 426.0 121.2C421.6 129.4 408.4 136.5 399.7 147.4C390.9 158.3 382.2 171.5 373.5 186.8C364.8 202.1 355.5 222.3 347.3 239.2C339.1 256.1 333.1 273.6 324.4 288.3C315.7 303.1 303.6 315.7 294.9 327.7C286.2 339.7 280.2 352.8 272.0 360.4C263.8 368.0 255.5 371.9 245.7 373.5C235.9 375.1 223.4 374.6 213.0 370.2C202.6 365.8 191.7 357.1 183.5 347.3C175.3 337.5 170.9 325.5 163.8 311.3C156.7 297.1 148.5 280.1 140.9 262.1C133.3 244.1 126.2 221.1 118.0 203.1C109.8 185.1 99.4 167.7 91.7 154.0C84.0 140.3 75.6 130.5 72.1 121.2C68.5 111.9 68.2 103.8 70.4 98.3Z" fill="none" stroke="#000" stroke-opacity="0.35" stroke-width="5" stroke-dasharray="11 4.6" stroke-dashoffset="-0" />
<path d="M70.4 98.3C72.6 92.8 76.2 93.4 85.2 88.5C94.2 83.6 110.8 74.5 124.5 68.8C138.2 63.1 155.1 55.2 167.1 54.1C179.1 53.0 186.2 58.2 196.6 62.3C207.0 66.4 221.2 75.0 229.4 78.6C237.6 82.1 237.5 84.1 245.7 83.6C253.9 83.1 267.6 78.7 278.5 75.4C289.4 72.1 299.8 67.2 311.3 63.9C322.8 60.6 334.8 54.9 347.3 55.7C359.9 56.5 373.5 61.7 386.6 68.8C399.7 75.9 419.4 89.6 426.0 98.3C432.6 107.0 430.4 113.0 426.0 121.2C421.6 129.4 408.4 136.5 399.7 147.4C390.9 158.3 382.2 171.5 373.5 186.8C364.8 202.1 355.5 222.3 347.3 239.2C339.1 256.1 333.1 273.6 324.4 288.3C315.7 303.1 303.6 315.7 294.9 327.7C286.2 339.7 280.2 352.8 272.0 360.4C263.8 368.0 255.5 371.9 245.7 373.5C235.9 375.1 223.4 374.6 213.0 370.2C202.6 365.8 191.7 357.1 183.5 347.3C175.3 337.5 170.9 325.5 163.8 311.3C156.7 297.1 148.5 280.1 140.9 262.1C133.3 244.1 126.2 221.1 118.0 203.1C109.8 185.1 99.4 167.7 91.7 154.0C84.0 140.3 75.6 130.5 72.1 121.2C68.5 111.9 68.2 103.8 70.4 98.3Z" fill="none" stroke="#f2f2ea" stroke-width="3.5" stroke-dasharray="11 4.6"/>
<g font-family="Liberation Sans, Arial, sans-serif" stroke="#000" stroke-width="12" stroke-linejoin="round" paint-order="stroke">
<text x="374.6" y="42.4" font-size="28.8" textLength="109" lengthAdjust="spacingAndGlyphs" fill="#22f022">NECAB1</text>
<text x="420.9" y="73.4" font-size="28.6" fill="#2f78dc">DAPI</text>
</g>
<rect x="427.5" y="405.6" width="52.5" height="4.599999999999966" fill="#f4f4ee"/>
</svg>
<svg class="abs" style="left:1681.25px;top:3048px" width="497.8" height="413.6" viewBox="0 0 497.8 413.6">
<defs>
<filter id="m11b1.5" filterUnits="userSpaceOnUse" x="-150" y="-150" width="797.8" height="713.6" color-interpolation-filters="sRGB"><feGaussianBlur stdDeviation="1.5"/></filter>
<filter id="m11b5" filterUnits="userSpaceOnUse" x="-150" y="-150" width="797.8" height="713.6" color-interpolation-filters="sRGB"><feGaussianBlur stdDeviation="5"/></filter>
<filter id="m11b12" filterUnits="userSpaceOnUse" x="-150" y="-150" width="797.8" height="713.6" color-interpolation-filters="sRGB"><feGaussianBlur stdDeviation="12"/></filter>
<filter id="m11b16" filterUnits="userSpaceOnUse" x="-150" y="-150" width="797.8" height="713.6" color-interpolation-filters="sRGB"><feGaussianBlur stdDeviation="16"/></filter>
</defs>
<rect width="497.8" height="413.6" fill="#020518"/>
<g filter="url(#m11b16)"><path d="M95.0 110.0C117.5 75.8 199.2 84.2 250.0 85.0C300.8 85.8 377.5 89.2 400.0 115.0C422.5 140.8 395.0 197.5 385.0 240.0C375.0 282.5 377.5 346.7 340.0 370.0C302.5 393.3 197.5 393.3 160.0 380.0C122.5 366.7 125.8 335.0 115.0 290.0C104.2 245.0 72.5 144.2 95.0 110.0Z" fill="#12723e" fill-opacity="1"/></g>
<g filter="url(#m11b5)"><path d="M-80.0 -80.0C30.0 -99.0 470.0 -99.0 580.0 -80.0C690.0 -61.0 621.7 14.7 580.0 34.0C538.3 53.3 390.0 34.0 330.0 36.0C270.0 38.0 258.3 46.0 220.0 46.0C181.7 46.0 150.0 38.0 100.0 36.0C50.0 34.0 -50.0 53.3 -80.0 34.0C-110.0 14.7 -190.0 -61.0 -80.0 -80.0Z" fill="#1826d8" fill-opacity="1"/></g>
<g filter="url(#m11b12)"><ellipse cx="150" cy="210" rx="70" ry="70" fill="#1c9450" fill-opacity="0.7"/><ellipse cx="310" cy="190" rx="70" ry="55" fill="#1c9450" fill-opacity="0.7"/><ellipse cx="240" cy="340" rx="90" ry="50" fill="#1a8a4a" fill-opacity="0.6"/></g>
<rect x="-200" y="-200" width="897.8" height="813.6" fill="url(#pPvt1)" opacity="0.9" transform="translate(0 0)" filter="url(#soft1)"/>
<rect x="-200" y="-200" width="897.8" height="813.6" fill="url(#pPvt2)" opacity="0.5" transform="translate(53 29)" filter="url(#soft1)"/>
<g filter="url(#m11b1.5)"><path d="M100 -10 C110 25 160 40 220 40 C280 40 320 25 332 -10 Z" fill="#2038ff" fill-opacity="1"/></g>
<g><path d="M108 -10 C118 20 165 33 220 33 C275 33 314 20 325 -10 Z" fill="#000" fill-opacity="1"/></g>
<g fill="#46e07a" fill-opacity="0.6"><circle cx="270" cy="291" r="3.3"/><circle cx="167" cy="298" r="3.4"/><circle cx="388" cy="142" r="3.0"/><circle cx="286" cy="248" r="3.5"/><circle cx="255" cy="229" r="3.5"/><circle cx="292" cy="181" r="2.5"/><circle cx="244" cy="98" r="3.0"/><circle cx="328" cy="222" r="3.4"/><circle cx="170" cy="151" r="3.4"/><circle cx="332" cy="121" r="2.5"/><circle cx="155" cy="171" r="2.0"/><circle cx="254" cy="182" r="2.6"/><circle cx="135" cy="117" r="2.1"/><circle cx="113" cy="130" r="2.2"/><circle cx="181" cy="99" r="2.4"/><circle cx="141" cy="144" r="3.0"/><circle cx="230" cy="238" r="2.6"/><circle cx="259" cy="342" r="2.5"/><circle cx="95" cy="241" r="2.6"/><circle cx="343" cy="117" r="3.4"/><circle cx="180" cy="377" r="3.1"/><circle cx="127" cy="245" r="3.0"/><circle cx="325" cy="235" r="2.7"/><circle cx="247" cy="167" r="3.4"/><circle cx="209" cy="348" r="2.5"/><circle cx="107" cy="142" r="3.1"/><circle cx="288" cy="176" r="3.0"/><circle cx="222" cy="350" r="3.5"/><circle cx="249" cy="364" r="3.0"/><circle cx="322" cy="156" r="2.1"/><circle cx="165" cy="275" r="2.9"/><circle cx="140" cy="143" r="3.5"/><circle cx="347" cy="156" r="2.2"/><circle cx="198" cy="347" r="3.2"/><circle cx="372" cy="287" r="2.5"/><circle cx="115" cy="191" r="2.5"/><circle cx="244" cy="230" r="2.3"/><circle cx="99" cy="148" r="2.2"/><circle cx="105" cy="218" r="2.2"/><circle cx="350" cy="262" r="2.7"/><circle cx="294" cy="158" r="2.0"/><circle cx="98" cy="193" r="2.6"/><circle cx="158" cy="182" r="3.3"/><circle cx="169" cy="322" r="2.4"/><circle cx="85" cy="133" r="3.6"/><circle cx="191" cy="119" r="3.6"/><circle cx="348" cy="252" r="3.3"/><circle cx="205" cy="373" r="2.1"/><circle cx="288" cy="143" r="2.3"/><circle cx="379" cy="224" r="3.3"/><circle cx="169" cy="324" r="3.5"/><circle cx="289" cy="158" r="3.1"/><circle cx="210" cy="113" r="3.2"/><circle cx="125" cy="153" r="2.1"/><circle cx="127" cy="208" r="2.8"/><circle cx="131" cy="222" r="3.2"/><circle cx="104" cy="125" r="2.8"/><circle cx="385" cy="257" r="2.6"/><circle cx="275" cy="344" r="3.6"/><circle cx="243" cy="249" r="2.5"/><circle cx="259" cy="262" r="2.5"/><circle cx="230" cy="386" r="2.4"/><circle cx="159" cy="182" r="3.4"/><circle cx="176" cy="356" r="3.5"/><circle cx="228" cy="355" r="2.4"/><circle cx="281" cy="371" r="3.5"/><circle cx="193" cy="120" r="2.0"/><circle cx="181" cy="263" r="2.4"/><circle cx="358" cy="297" r="3.0"/><circle cx="359" cy="190" r="3.0"/><circle cx="193" cy="177" r="2.2"/><circle cx="346" cy="381" r="2.0"/><circle cx="321" cy="101" r="2.7"/><circle cx="181" cy="382" r="2.7"/><circle cx="249" cy="199" r="2.4"/><circle cx="155" cy="101" r="2.0"/><circle cx="263" cy="327" r="3.1"/><circle cx="221" cy="191" r="2.3"/><circle cx="176" cy="179" r="2.5"/><circle cx="276" cy="184" r="2.9"/><circle cx="182" cy="370" r="3.5"/><circle cx="300" cy="217" r="2.3"/><circle cx="289" cy="177" r="2.3"/><circle cx="256" cy="147" r="3.0"/><circle cx="137" cy="193" r="3.2"/><circle cx="191" cy="394" r="2.3"/><circle cx="303" cy="108" r="2.9"/><circle cx="330" cy="385" r="3.2"/><circle cx="262" cy="214" r="3.0"/><circle cx="297" cy="284" r="3.1"/><circle cx="351" cy="202" r="3.3"/><circle cx="312" cy="246" r="2.5"/><circle cx="294" cy="378" r="2.6"/><circle cx="144" cy="333" r="3.5"/><circle cx="142" cy="126" r="2.2"/><circle cx="263" cy="358" r="2.4"/><circle cx="261" cy="333" r="2.8"/><circle cx="311" cy="200" r="2.6"/><circle cx="252" cy="81" r="2.3"/><circle cx="193" cy="299" r="2.3"/><circle cx="214" cy="342" r="3.1"/><circle cx="356" cy="267" r="3.0"/><circle cx="104" cy="223" r="2.6"/><circle cx="160" cy="202" r="3.4"/><circle cx="148" cy="118" r="2.5"/><circle cx="262" cy="89" r="2.8"/><circle cx="131" cy="241" r="3.5"/><circle cx="243" cy="107" r="2.6"/><circle cx="354" cy="340" r="3.2"/><circle cx="376" cy="194" r="2.6"/><circle cx="287" cy="120" r="2.5"/><circle cx="200" cy="149" r="2.3"/><circle cx="298" cy="183" r="2.1"/><circle cx="310" cy="108" r="2.4"/><circle cx="128" cy="294" r="2.9"/><circle cx="358" cy="300" r="3.2"/><circle cx="376" cy="275" r="2.4"/><circle cx="296" cy="398" r="3.3"/><circle cx="211" cy="142" r="2.7"/><circle cx="142" cy="339" r="2.7"/><circle cx="182" cy="401" r="2.0"/><circle cx="240" cy="375" r="3.1"/><circle cx="381" cy="171" r="2.9"/><circle cx="332" cy="166" r="3.6"/><circle cx="343" cy="124" r="3.6"/><circle cx="379" cy="240" r="2.0"/><circle cx="345" cy="275" r="3.2"/><circle cx="98" cy="240" r="3.3"/><circle cx="325" cy="138" r="2.5"/><circle cx="229" cy="233" r="3.6"/><circle cx="233" cy="340" r="2.7"/><circle cx="215" cy="325" r="2.6"/><circle cx="244" cy="213" r="3.1"/><circle cx="95" cy="234" r="2.9"/><circle cx="310" cy="381" r="2.6"/><circle cx="267" cy="201" r="3.0"/><circle cx="162" cy="360" r="2.6"/><circle cx="391" cy="173" r="2.6"/><circle cx="188" cy="115" r="2.1"/><circle cx="183" cy="184" r="3.1"/><circle cx="278" cy="369" r="3.6"/><circle cx="391" cy="124" r="3.2"/><circle cx="341" cy="207" r="2.1"/><circle cx="336" cy="290" r="3.2"/><circle cx="335" cy="326" r="2.1"/><circle cx="188" cy="281" r="3.2"/><circle cx="214" cy="313" r="3.5"/><circle cx="201" cy="384" r="2.2"/><circle cx="278" cy="358" r="2.6"/><circle cx="169" cy="173" r="2.6"/><circle cx="207" cy="218" r="2.4"/><circle cx="278" cy="154" r="2.4"/><circle cx="233" cy="384" r="2.4"/><circle cx="134" cy="339" r="2.9"/><circle cx="292" cy="160" r="3.3"/><circle cx="199" cy="290" r="3.3"/><circle cx="316" cy="184" r="2.5"/><circle cx="274" cy="256" r="3.1"/><circle cx="352" cy="138" r="3.2"/><circle cx="230" cy="399" r="3.0"/><circle cx="366" cy="114" r="3.4"/><circle cx="204" cy="94" r="3.4"/><circle cx="152" cy="298" r="2.0"/><circle cx="224" cy="235" r="2.7"/><circle cx="359" cy="176" r="3.5"/><circle cx="307" cy="391" r="3.1"/><circle cx="369" cy="109" r="3.5"/><circle cx="338" cy="323" r="3.0"/><circle cx="352" cy="144" r="2.7"/><circle cx="222" cy="130" r="3.4"/><circle cx="330" cy="181" r="3.2"/><circle cx="180" cy="169" r="2.5"/><circle cx="167" cy="152" r="2.0"/><circle cx="328" cy="356" r="2.5"/><circle cx="320" cy="370" r="2.0"/><circle cx="271" cy="277" r="2.3"/><circle cx="258" cy="358" r="2.1"/><circle cx="377" cy="255" r="2.5"/><circle cx="161" cy="261" r="2.2"/><circle cx="359" cy="217" r="3.4"/><circle cx="156" cy="290" r="3.5"/><circle cx="289" cy="200" r="3.3"/><circle cx="232" cy="277" r="2.7"/><circle cx="295" cy="215" r="2.3"/><circle cx="244" cy="169" r="3.5"/><circle cx="147" cy="262" r="2.0"/><circle cx="176" cy="298" r="2.8"/><circle cx="302" cy="272" r="3.0"/><circle cx="160" cy="389" r="3.0"/><circle cx="216" cy="297" r="3.4"/><circle cx="130" cy="179" r="2.8"/><circle cx="309" cy="235" r="3.1"/><circle cx="347" cy="351" r="3.5"/><circle cx="188" cy="163" r="3.1"/><circle cx="201" cy="262" r="2.7"/><circle cx="249" cy="292" r="2.3"/><circle cx="350" cy="304" r="3.3"/><circle cx="267" cy="260" r="3.3"/><circle cx="301" cy="169" r="3.4"/><circle cx="137" cy="172" r="3.3"/><circle cx="229" cy="131" r="3.4"/><circle cx="279" cy="86" r="2.6"/><circle cx="190" cy="173" r="3.2"/><circle cx="150" cy="108" r="3.4"/><circle cx="271" cy="239" r="3.4"/><circle cx="309" cy="364" r="2.5"/><circle cx="176" cy="191" r="2.8"/><circle cx="272" cy="146" r="2.9"/><circle cx="237" cy="291" r="2.1"/><circle cx="251" cy="293" r="2.6"/><circle cx="272" cy="249" r="2.6"/><circle cx="235" cy="100" r="3.0"/><circle cx="153" cy="169" r="2.2"/><circle cx="333" cy="232" r="2.9"/><circle cx="249" cy="276" r="2.6"/><circle cx="161" cy="336" r="3.2"/><circle cx="124" cy="127" r="2.6"/><circle cx="348" cy="183" r="2.4"/><circle cx="221" cy="247" r="3.0"/><circle cx="182" cy="214" r="3.6"/><circle cx="335" cy="153" r="2.8"/><circle cx="394" cy="152" r="2.4"/><circle cx="190" cy="189" r="2.6"/><circle cx="208" cy="217" r="2.2"/><circle cx="290" cy="311" r="2.4"/><circle cx="251" cy="289" r="3.5"/><circle cx="357" cy="133" r="2.4"/><circle cx="139" cy="103" r="2.0"/><circle cx="260" cy="399" r="3.6"/><circle cx="78" cy="163" r="2.6"/></g>
<path d="M36.0 98.3C39.8 89.6 47.5 67.7 55.7 59.0C63.9 50.3 73.7 48.9 85.2 45.9C96.7 42.9 112.5 40.7 124.5 41.0C136.5 41.3 146.4 44.8 157.3 47.5C168.2 50.2 178.0 55.1 190.0 57.3C202.0 59.5 214.7 60.9 229.4 60.6C244.2 60.3 262.1 58.7 278.5 55.7C294.9 52.7 314.1 46.4 327.7 42.6C341.3 38.8 349.2 31.6 360.4 32.8C371.6 34.0 384.1 42.4 395.0 50.0C405.9 57.6 417.6 69.5 426.0 78.6C434.4 87.7 441.8 95.0 445.6 104.8C449.4 114.6 451.1 126.7 448.9 137.6C446.7 148.5 440.1 160.6 432.5 170.4C424.9 180.2 411.7 186.8 403.0 196.6C394.3 206.4 385.6 218.5 380.1 229.4C374.6 240.3 372.9 251.2 370.2 262.1C367.5 273.0 367.5 285.1 363.7 294.9C359.9 304.7 354.9 312.9 347.3 321.1C339.7 329.3 327.6 337.4 317.8 344.0C308.0 350.6 298.7 356.8 288.3 360.4C277.9 363.9 270.9 365.3 255.6 365.3C240.3 365.3 213.5 362.8 196.6 360.4C179.7 357.9 163.8 356.1 154.0 350.6C144.2 345.2 145.2 338.6 137.6 327.7C129.9 316.8 116.8 299.3 108.1 285.1C99.4 270.9 93.4 258.4 85.2 242.5C77.0 226.7 66.7 206.4 59.0 190.0C51.4 173.6 43.7 157.3 39.3 144.2C34.9 131.1 33.3 119.1 32.8 111.4C32.2 103.8 32.2 107.0 36.0 98.3Z" fill="none" stroke="#000" stroke-opacity="0.35" stroke-width="5" stroke-dasharray="11 4.6" stroke-dashoffset="-0" />
<path d="M36.0 98.3C39.8 89.6 47.5 67.7 55.7 59.0C63.9 50.3 73.7 48.9 85.2 45.9C96.7 42.9 112.5 40.7 124.5 41.0C136.5 41.3 146.4 44.8 157.3 47.5C168.2 50.2 178.0 55.1 190.0 57.3C202.0 59.5 214.7 60.9 229.4 60.6C244.2 60.3 262.1 58.7 278.5 55.7C294.9 52.7 314.1 46.4 327.7 42.6C341.3 38.8 349.2 31.6 360.4 32.8C371.6 34.0 384.1 42.4 395.0 50.0C405.9 57.6 417.6 69.5 426.0 78.6C434.4 87.7 441.8 95.0 445.6 104.8C449.4 114.6 451.1 126.7 448.9 137.6C446.7 148.5 440.1 160.6 432.5 170.4C424.9 180.2 411.7 186.8 403.0 196.6C394.3 206.4 385.6 218.5 380.1 229.4C374.6 240.3 372.9 251.2 370.2 262.1C367.5 273.0 367.5 285.1 363.7 294.9C359.9 304.7 354.9 312.9 347.3 321.1C339.7 329.3 327.6 337.4 317.8 344.0C308.0 350.6 298.7 356.8 288.3 360.4C277.9 363.9 270.9 365.3 255.6 365.3C240.3 365.3 213.5 362.8 196.6 360.4C179.7 357.9 163.8 356.1 154.0 350.6C144.2 345.2 145.2 338.6 137.6 327.7C129.9 316.8 116.8 299.3 108.1 285.1C99.4 270.9 93.4 258.4 85.2 242.5C77.0 226.7 66.7 206.4 59.0 190.0C51.4 173.6 43.7 157.3 39.3 144.2C34.9 131.1 33.3 119.1 32.8 111.4C32.2 103.8 32.2 107.0 36.0 98.3Z" fill="none" stroke="#f2f2ea" stroke-width="3.5" stroke-dasharray="11 4.6"/>
<g font-family="Liberation Sans, Arial, sans-serif" stroke="#000" stroke-width="12" stroke-linejoin="round" paint-order="stroke">
<text x="364.8" y="42" font-size="28.8" textLength="109" lengthAdjust="spacingAndGlyphs" fill="#22f022">NECAB1</text>
<text x="410.7" y="73.1" font-size="28.6" fill="#2f78dc">DAPI</text>
</g>
<rect x="423" y="406.4" width="62" height="4.800000000000011" fill="#f4f4ee"/>
<text x="486.5" y="399.2" text-anchor="end" font-family="Liberation Sans, Arial, sans-serif" font-size="22" fill="#ecece4">100 μm</text>
</svg>
<svg class="abs" style="left:0;top:1540px" width="110" height="1560" viewBox="0 1540 110 1560"><g font-family="Liberation Sans, Arial, sans-serif" font-weight="bold" font-size="35" fill="#111">
<text x="18.8" y="1590.7">AMY</text><text x="23.7" y="2331.8">EPN</text><text x="27.3" y="3078.8">PVT</text>
</g></svg>
</div></body></html>
